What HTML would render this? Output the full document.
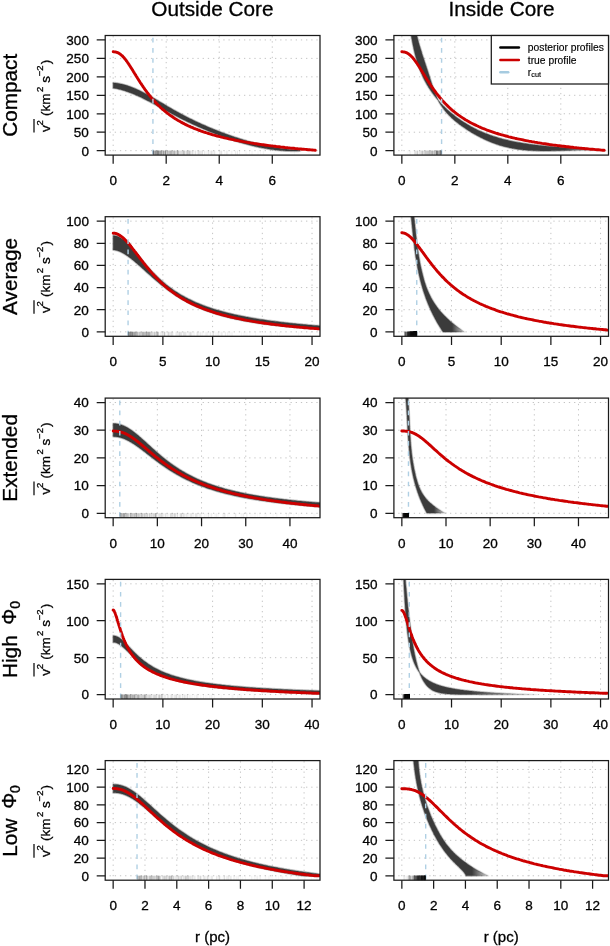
<!DOCTYPE html><html><head><meta charset="utf-8"><style>html,body{margin:0;padding:0;background:#fff;}svg{display:block;will-change:transform;}text{stroke:#000;stroke-width:0.3px;}</style></head><body>
<svg width="610" height="946" viewBox="0 0 610 946" font-family='"Liberation Sans", sans-serif'>
<rect width="610" height="946" fill="#fff"/>
<text x="212.4" y="16.0" font-size="20.75" text-anchor="middle" fill="#000">Outside Core</text>
<text x="501.6" y="16.0" font-size="20.75" text-anchor="middle" fill="#000">Inside Core</text>
<clipPath id="clip00"><rect x="105.20" y="35.50" width="214.80" height="119.60"/></clipPath>
<path d="M113.16 155.10V35.50M166.19 155.10V35.50M219.23 155.10V35.50M272.27 155.10V35.50" stroke="#c4c4c4" stroke-width="1.0" stroke-dasharray="1.3 3.87" stroke-dashoffset="1.2" fill="none"/>
<path d="M105.20 150.67H320.00M105.20 132.21H320.00M105.20 113.76H320.00M105.20 95.30H320.00M105.20 76.84H320.00M105.20 58.39H320.00M105.20 39.93H320.00" stroke="#c4c4c4" stroke-width="1.0" stroke-dasharray="1.3 3.87" stroke-dashoffset="0.8" fill="none"/>
<g clip-path="url(#clip00)">
<path d="M113.2 82.8L114.1 82.9L115.1 82.9L116.0 83.1L117.0 83.2L117.9 83.3L118.8 83.5L119.8 83.7L120.7 83.9L121.6 84.1L122.6 84.3L123.5 84.5L124.5 84.8L125.4 85.0L126.3 85.3L127.3 85.6L128.2 85.9L129.2 86.3L130.1 86.6L131.0 86.9L132.0 87.3L132.9 87.7L133.9 88.0L134.8 88.4L135.7 88.8L136.7 89.3L137.6 89.7L138.5 90.1L139.5 90.6L140.4 91.0L141.4 91.5L142.3 91.9L143.2 92.4L144.2 92.9L145.1 93.4L146.1 93.9L147.0 94.4L147.9 94.9L148.9 95.4L149.8 95.9L150.7 96.5L151.7 97.0L152.6 97.5L153.6 98.1L154.5 98.6L155.4 99.1L156.4 99.7L157.3 100.2L158.3 100.8L159.2 101.4L160.1 101.9L161.1 102.5L162.0 103.0L163.0 103.6L163.9 104.1L164.8 104.7L165.8 105.3L166.7 105.8L167.6 106.4L168.6 106.9L169.5 107.5L170.5 108.0L171.4 108.6L172.3 109.1L173.3 109.7L174.2 110.2L175.2 110.7L176.1 111.2L177.0 111.8L178.0 112.3L178.9 112.8L179.8 113.3L180.8 113.8L181.7 114.3L182.7 114.8L183.6 115.3L184.5 115.8L185.5 116.3L186.4 116.8L187.4 117.3L188.3 117.7L189.2 118.2L190.2 118.7L191.1 119.1L192.1 119.6L193.0 120.0L193.9 120.5L194.9 120.9L195.8 121.4L196.7 121.8L197.7 122.3L198.6 122.7L199.6 123.1L200.5 123.6L201.4 124.0L202.4 124.4L203.3 124.8L204.3 125.2L205.2 125.6L206.1 126.1L207.1 126.5L208.0 126.9L208.9 127.3L209.9 127.7L210.8 128.0L211.8 128.4L212.7 128.8L213.6 129.2L214.6 129.6L215.5 130.0L216.5 130.3L217.4 130.7L218.3 131.1L219.3 131.4L220.2 131.8L221.1 132.2L222.1 132.5L223.0 132.9L224.0 133.2L224.9 133.6L225.8 133.9L226.8 134.3L227.7 134.6L228.7 134.9L229.6 135.3L230.5 135.6L231.5 135.9L232.4 136.3L233.4 136.6L234.3 136.9L235.2 137.2L236.2 137.5L237.1 137.8L238.0 138.1L239.0 138.4L239.9 138.7L240.9 139.0L241.8 139.3L242.7 139.6L243.7 139.9L244.6 140.2L245.6 140.4L246.5 140.7L247.4 141.0L248.4 141.3L249.3 141.5L250.2 141.8L251.2 142.0L252.1 142.3L253.1 142.5L254.0 142.8L254.9 143.0L255.9 143.3L256.8 143.5L257.8 143.7L258.7 144.0L259.6 144.2L260.6 144.4L261.5 144.6L262.5 144.9L263.4 145.1L264.3 145.3L265.3 145.5L266.2 145.7L267.1 145.9L268.1 146.1L269.0 146.3L270.0 146.4L270.9 146.6L271.8 146.8L272.8 147.0L273.7 147.1L274.7 147.3L275.6 147.5L276.5 147.6L277.5 147.8L278.4 147.9L279.3 148.1L280.3 148.2L281.2 148.4L282.2 148.5L283.1 148.6L284.0 148.8L285.0 148.9L285.9 149.0L286.9 149.1L287.8 149.2L288.7 149.3L289.7 149.4L290.6 149.5L291.6 149.6L292.5 149.7L293.4 149.8L294.4 149.9L295.3 150.0L296.2 150.1L297.2 150.1L298.1 150.2L299.1 150.3L300.0 150.3L300.0 151.0L299.1 151.0L298.1 151.1L297.2 151.1L296.2 151.1L295.3 151.1L294.4 151.1L293.4 151.1L292.5 151.1L291.6 151.1L290.6 151.1L289.7 151.0L288.7 151.0L287.8 151.0L286.9 150.9L285.9 150.9L285.0 150.8L284.0 150.8L283.1 150.7L282.2 150.6L281.2 150.6L280.3 150.5L279.3 150.4L278.4 150.3L277.5 150.2L276.5 150.1L275.6 150.0L274.7 149.9L273.7 149.8L272.8 149.6L271.8 149.5L270.9 149.4L270.0 149.2L269.0 149.1L268.1 148.9L267.1 148.8L266.2 148.6L265.3 148.5L264.3 148.3L263.4 148.1L262.5 147.9L261.5 147.8L260.6 147.6L259.6 147.4L258.7 147.2L257.8 147.0L256.8 146.8L255.9 146.6L254.9 146.4L254.0 146.1L253.1 145.9L252.1 145.7L251.2 145.5L250.2 145.2L249.3 145.0L248.4 144.7L247.4 144.5L246.5 144.2L245.6 144.0L244.6 143.7L243.7 143.5L242.7 143.2L241.8 142.9L240.9 142.6L239.9 142.4L239.0 142.1L238.0 141.8L237.1 141.5L236.2 141.2L235.2 140.9L234.3 140.6L233.4 140.3L232.4 140.0L231.5 139.7L230.5 139.4L229.6 139.0L228.7 138.7L227.7 138.4L226.8 138.1L225.8 137.7L224.9 137.4L224.0 137.1L223.0 136.7L222.1 136.4L221.1 136.0L220.2 135.7L219.3 135.3L218.3 135.0L217.4 134.6L216.5 134.3L215.5 133.9L214.6 133.5L213.6 133.2L212.7 132.8L211.8 132.4L210.8 132.0L209.9 131.7L208.9 131.3L208.0 130.9L207.1 130.5L206.1 130.1L205.2 129.7L204.3 129.3L203.3 128.9L202.4 128.5L201.4 128.1L200.5 127.7L199.6 127.3L198.6 126.9L197.7 126.5L196.7 126.1L195.8 125.6L194.9 125.2L193.9 124.8L193.0 124.4L192.1 123.9L191.1 123.5L190.2 123.0L189.2 122.6L188.3 122.2L187.4 121.7L186.4 121.3L185.5 120.8L184.5 120.3L183.6 119.9L182.7 119.4L181.7 118.9L180.8 118.5L179.8 118.0L178.9 117.5L178.0 117.0L177.0 116.5L176.1 116.1L175.2 115.6L174.2 115.1L173.3 114.6L172.3 114.1L171.4 113.6L170.5 113.1L169.5 112.6L168.6 112.0L167.6 111.5L166.7 111.0L165.8 110.5L164.8 110.0L163.9 109.5L163.0 109.0L162.0 108.4L161.1 107.9L160.1 107.4L159.2 106.9L158.3 106.4L157.3 105.9L156.4 105.3L155.4 104.8L154.5 104.3L153.6 103.8L152.6 103.3L151.7 102.8L150.7 102.3L149.8 101.8L148.9 101.3L147.9 100.9L147.0 100.4L146.1 99.9L145.1 99.4L144.2 99.0L143.2 98.5L142.3 98.0L141.4 97.6L140.4 97.1L139.5 96.7L138.5 96.3L137.6 95.8L136.7 95.4L135.7 95.0L134.8 94.6L133.9 94.2L132.9 93.8L132.0 93.4L131.0 93.1L130.1 92.7L129.2 92.4L128.2 92.0L127.3 91.7L126.3 91.4L125.4 91.1L124.5 90.7L123.5 90.5L122.6 90.2L121.6 89.9L120.7 89.6L119.8 89.4L118.8 89.2L117.9 88.9L117.0 88.7L116.0 88.5L115.1 88.4L114.1 88.2L113.2 88.0Z" fill="none" stroke="#3b3b3b" stroke-opacity="0.22" stroke-width="2.2" stroke-linejoin="round"/>
<path d="M113.2 82.8L114.1 82.9L115.1 82.9L116.0 83.1L117.0 83.2L117.9 83.3L118.8 83.5L119.8 83.7L120.7 83.9L121.6 84.1L122.6 84.3L123.5 84.5L124.5 84.8L125.4 85.0L126.3 85.3L127.3 85.6L128.2 85.9L129.2 86.3L130.1 86.6L131.0 86.9L132.0 87.3L132.9 87.7L133.9 88.0L134.8 88.4L135.7 88.8L136.7 89.3L137.6 89.7L138.5 90.1L139.5 90.6L140.4 91.0L141.4 91.5L142.3 91.9L143.2 92.4L144.2 92.9L145.1 93.4L146.1 93.9L147.0 94.4L147.9 94.9L148.9 95.4L149.8 95.9L150.7 96.5L151.7 97.0L152.6 97.5L153.6 98.1L154.5 98.6L155.4 99.1L156.4 99.7L157.3 100.2L158.3 100.8L159.2 101.4L160.1 101.9L161.1 102.5L162.0 103.0L163.0 103.6L163.9 104.1L164.8 104.7L165.8 105.3L166.7 105.8L167.6 106.4L168.6 106.9L169.5 107.5L170.5 108.0L171.4 108.6L172.3 109.1L173.3 109.7L174.2 110.2L175.2 110.7L176.1 111.2L177.0 111.8L178.0 112.3L178.9 112.8L179.8 113.3L180.8 113.8L181.7 114.3L182.7 114.8L183.6 115.3L184.5 115.8L185.5 116.3L186.4 116.8L187.4 117.3L188.3 117.7L189.2 118.2L190.2 118.7L191.1 119.1L192.1 119.6L193.0 120.0L193.9 120.5L194.9 120.9L195.8 121.4L196.7 121.8L197.7 122.3L198.6 122.7L199.6 123.1L200.5 123.6L201.4 124.0L202.4 124.4L203.3 124.8L204.3 125.2L205.2 125.6L206.1 126.1L207.1 126.5L208.0 126.9L208.9 127.3L209.9 127.7L210.8 128.0L211.8 128.4L212.7 128.8L213.6 129.2L214.6 129.6L215.5 130.0L216.5 130.3L217.4 130.7L218.3 131.1L219.3 131.4L220.2 131.8L221.1 132.2L222.1 132.5L223.0 132.9L224.0 133.2L224.9 133.6L225.8 133.9L226.8 134.3L227.7 134.6L228.7 134.9L229.6 135.3L230.5 135.6L231.5 135.9L232.4 136.3L233.4 136.6L234.3 136.9L235.2 137.2L236.2 137.5L237.1 137.8L238.0 138.1L239.0 138.4L239.9 138.7L240.9 139.0L241.8 139.3L242.7 139.6L243.7 139.9L244.6 140.2L245.6 140.4L246.5 140.7L247.4 141.0L248.4 141.3L249.3 141.5L250.2 141.8L251.2 142.0L252.1 142.3L253.1 142.5L254.0 142.8L254.9 143.0L255.9 143.3L256.8 143.5L257.8 143.7L258.7 144.0L259.6 144.2L260.6 144.4L261.5 144.6L262.5 144.9L263.4 145.1L264.3 145.3L265.3 145.5L266.2 145.7L267.1 145.9L268.1 146.1L269.0 146.3L270.0 146.4L270.9 146.6L271.8 146.8L272.8 147.0L273.7 147.1L274.7 147.3L275.6 147.5L276.5 147.6L277.5 147.8L278.4 147.9L279.3 148.1L280.3 148.2L281.2 148.4L282.2 148.5L283.1 148.6L284.0 148.8L285.0 148.9L285.9 149.0L286.9 149.1L287.8 149.2L288.7 149.3L289.7 149.4L290.6 149.5L291.6 149.6L292.5 149.7L293.4 149.8L294.4 149.9L295.3 150.0L296.2 150.1L297.2 150.1L298.1 150.2L299.1 150.3L300.0 150.3L300.0 151.0L299.1 151.0L298.1 151.1L297.2 151.1L296.2 151.1L295.3 151.1L294.4 151.1L293.4 151.1L292.5 151.1L291.6 151.1L290.6 151.1L289.7 151.0L288.7 151.0L287.8 151.0L286.9 150.9L285.9 150.9L285.0 150.8L284.0 150.8L283.1 150.7L282.2 150.6L281.2 150.6L280.3 150.5L279.3 150.4L278.4 150.3L277.5 150.2L276.5 150.1L275.6 150.0L274.7 149.9L273.7 149.8L272.8 149.6L271.8 149.5L270.9 149.4L270.0 149.2L269.0 149.1L268.1 148.9L267.1 148.8L266.2 148.6L265.3 148.5L264.3 148.3L263.4 148.1L262.5 147.9L261.5 147.8L260.6 147.6L259.6 147.4L258.7 147.2L257.8 147.0L256.8 146.8L255.9 146.6L254.9 146.4L254.0 146.1L253.1 145.9L252.1 145.7L251.2 145.5L250.2 145.2L249.3 145.0L248.4 144.7L247.4 144.5L246.5 144.2L245.6 144.0L244.6 143.7L243.7 143.5L242.7 143.2L241.8 142.9L240.9 142.6L239.9 142.4L239.0 142.1L238.0 141.8L237.1 141.5L236.2 141.2L235.2 140.9L234.3 140.6L233.4 140.3L232.4 140.0L231.5 139.7L230.5 139.4L229.6 139.0L228.7 138.7L227.7 138.4L226.8 138.1L225.8 137.7L224.9 137.4L224.0 137.1L223.0 136.7L222.1 136.4L221.1 136.0L220.2 135.7L219.3 135.3L218.3 135.0L217.4 134.6L216.5 134.3L215.5 133.9L214.6 133.5L213.6 133.2L212.7 132.8L211.8 132.4L210.8 132.0L209.9 131.7L208.9 131.3L208.0 130.9L207.1 130.5L206.1 130.1L205.2 129.7L204.3 129.3L203.3 128.9L202.4 128.5L201.4 128.1L200.5 127.7L199.6 127.3L198.6 126.9L197.7 126.5L196.7 126.1L195.8 125.6L194.9 125.2L193.9 124.8L193.0 124.4L192.1 123.9L191.1 123.5L190.2 123.0L189.2 122.6L188.3 122.2L187.4 121.7L186.4 121.3L185.5 120.8L184.5 120.3L183.6 119.9L182.7 119.4L181.7 118.9L180.8 118.5L179.8 118.0L178.9 117.5L178.0 117.0L177.0 116.5L176.1 116.1L175.2 115.6L174.2 115.1L173.3 114.6L172.3 114.1L171.4 113.6L170.5 113.1L169.5 112.6L168.6 112.0L167.6 111.5L166.7 111.0L165.8 110.5L164.8 110.0L163.9 109.5L163.0 109.0L162.0 108.4L161.1 107.9L160.1 107.4L159.2 106.9L158.3 106.4L157.3 105.9L156.4 105.3L155.4 104.8L154.5 104.3L153.6 103.8L152.6 103.3L151.7 102.8L150.7 102.3L149.8 101.8L148.9 101.3L147.9 100.9L147.0 100.4L146.1 99.9L145.1 99.4L144.2 99.0L143.2 98.5L142.3 98.0L141.4 97.6L140.4 97.1L139.5 96.7L138.5 96.3L137.6 95.8L136.7 95.4L135.7 95.0L134.8 94.6L133.9 94.2L132.9 93.8L132.0 93.4L131.0 93.1L130.1 92.7L129.2 92.4L128.2 92.0L127.3 91.7L126.3 91.4L125.4 91.1L124.5 90.7L123.5 90.5L122.6 90.2L121.6 89.9L120.7 89.6L119.8 89.4L118.8 89.2L117.9 88.9L117.0 88.7L116.0 88.5L115.1 88.4L114.1 88.2L113.2 88.0Z" fill="#3b3b3b" stroke="#3b3b3b" stroke-width="0.4" stroke-linejoin="round"/>
<path d="M113.2 51.8L113.4 51.8L113.7 51.8L113.9 51.8L114.2 51.9L114.4 51.9L114.7 51.9L114.9 51.9L115.2 52.0L115.4 52.0L115.7 52.0L115.9 52.1L116.2 52.2L116.4 52.2L116.7 52.3L116.9 52.4L117.2 52.5L117.5 52.6L117.7 52.7L118.0 52.8L118.2 52.9L118.5 53.0L118.7 53.2L119.0 53.3L119.2 53.5L119.5 53.6L119.7 53.8L120.0 54.0L120.2 54.2L120.5 54.3L120.7 54.5L121.0 54.7L121.2 55.0L121.5 55.2L121.7 55.4L122.0 55.6L122.3 55.9L122.5 56.1L122.8 56.4L123.0 56.7L123.3 56.9L123.5 57.2L123.8 57.5L124.0 57.8L124.3 58.1L124.5 58.4L124.8 58.7L125.0 59.0L125.3 59.3L125.5 59.6L125.8 60.0L126.0 60.3L126.3 60.6L126.5 61.0L126.8 61.3L127.1 61.7L127.3 62.0L127.6 62.4L127.8 62.8L128.1 63.1L128.3 63.5L128.6 63.9L128.8 64.3L129.1 64.6L129.3 65.0L129.6 65.4L129.8 65.8L130.1 66.2L130.3 66.6L130.6 67.0L130.8 67.4L131.1 67.8L131.3 68.2L131.6 68.6L131.9 69.0L132.1 69.4L132.4 69.8L132.6 70.2L132.9 70.6L133.1 71.0L133.4 71.4L133.6 71.9L133.9 72.3L134.1 72.7L134.4 73.1L134.6 73.5L134.9 73.9L135.1 74.3L135.4 74.7L135.6 75.1L135.9 75.6L136.1 76.0L136.4 76.4L136.7 76.8L136.9 77.2L137.2 77.6L137.4 78.0L137.7 78.4L137.9 78.8L138.2 79.2L138.4 79.6L138.7 80.0L138.9 80.4L139.2 80.8L139.4 81.2L139.7 81.6L139.9 82.0L140.2 82.4L140.4 82.8L140.7 83.2L141.0 83.5L141.2 83.9L141.5 84.3L141.7 84.7L142.0 85.1L142.2 85.4L142.5 85.8L142.7 86.2L143.0 86.6L143.2 86.9L143.5 87.3L144.9 89.4L146.4 91.4L147.8 93.3L149.3 95.1L150.7 96.9L152.1 98.6L153.6 100.3L155.0 101.9L156.5 103.4L157.9 104.9L159.4 106.3L160.8 107.7L162.2 109.0L163.7 110.2L165.1 111.4L166.6 112.6L168.0 113.7L169.5 114.8L170.9 115.8L172.4 116.8L173.8 117.8L175.2 118.7L176.7 119.6L178.1 120.5L179.6 121.3L181.0 122.1L182.5 122.9L183.9 123.6L185.3 124.4L186.8 125.1L188.2 125.8L189.7 126.4L191.1 127.1L192.6 127.7L194.0 128.3L195.5 128.9L196.9 129.4L198.3 130.0L199.8 130.5L201.2 131.1L202.7 131.6L204.1 132.1L205.6 132.5L207.0 133.0L208.5 133.5L209.9 133.9L211.3 134.3L212.8 134.8L214.2 135.2L215.7 135.6L217.1 136.0L218.6 136.3L220.0 136.7L221.4 137.1L222.9 137.4L224.3 137.8L225.8 138.1L227.2 138.4L228.7 138.8L230.1 139.1L231.6 139.4L233.0 139.7L234.4 140.0L235.9 140.3L237.3 140.6L238.8 140.8L240.2 141.1L241.7 141.4L243.1 141.6L244.5 141.9L246.0 142.1L247.4 142.4L248.9 142.6L250.3 142.9L251.8 143.1L253.2 143.3L254.7 143.6L256.1 143.8L257.5 144.0L259.0 144.2L260.4 144.4L261.9 144.6L263.3 144.8L264.8 145.0L266.2 145.2L267.7 145.4L269.1 145.6L270.5 145.8L272.0 145.9L273.4 146.1L274.9 146.3L276.3 146.5L277.8 146.6L279.2 146.8L280.6 147.0L282.1 147.1L283.5 147.3L285.0 147.5L286.4 147.6L287.9 147.8L289.3 147.9L290.8 148.1L292.2 148.2L293.6 148.3L295.1 148.5L296.5 148.6L298.0 148.8L299.4 148.9L300.9 149.0L302.3 149.2L303.7 149.3L305.2 149.4L306.6 149.5L308.1 149.7L309.5 149.8L311.0 149.9L312.4 150.0L313.9 150.1L315.3 150.3" fill="none" stroke="#cc0000" stroke-width="2.9" stroke-linecap="round" stroke-linejoin="round"/>
</g>
<path d="M152.93 155.10V35.50" stroke="#b0d0e4" stroke-width="1.4" stroke-dasharray="4.7 5.45" stroke-dashoffset="9.25" fill="none"/>
<path d="M156.9 150.5v4.6M168.1 150.5v4.6M189.8 150.5v4.6M183.5 150.5v4.6M185.8 150.5v4.6M167.1 150.5v4.6M193.2 150.5v4.6M172.0 150.5v4.6M155.0 150.5v4.6M168.2 150.5v4.6M154.2 150.5v4.6M220.5 150.5v4.6M226.4 150.5v4.6M163.1 150.5v4.6M162.2 150.5v4.6M189.5 150.5v4.6M158.6 150.5v4.6M157.8 150.5v4.6M158.2 150.5v4.6M163.6 150.5v4.6M177.5 150.5v4.6M235.6 150.5v4.6M158.9 150.5v4.6M231.1 150.5v4.6M173.2 150.5v4.6M210.8 150.5v4.6M195.5 150.5v4.6M157.3 150.5v4.6M179.1 150.5v4.6M156.2 150.5v4.6M153.1 150.5v4.6M165.5 150.5v4.6M190.1 150.5v4.6M173.8 150.5v4.6M158.3 150.5v4.6M198.9 150.5v4.6M214.2 150.5v4.6M159.7 150.5v4.6M167.8 150.5v4.6M178.3 150.5v4.6M211.1 150.5v4.6M156.3 150.5v4.6M173.1 150.5v4.6M239.4 150.5v4.6M176.4 150.5v4.6M184.5 150.5v4.6M190.2 150.5v4.6M170.6 150.5v4.6M161.5 150.5v4.6M175.2 150.5v4.6M171.7 150.5v4.6M163.4 150.5v4.6M201.1 150.5v4.6M164.2 150.5v4.6M169.5 150.5v4.6M188.8 150.5v4.6M195.0 150.5v4.6M208.2 150.5v4.6M179.3 150.5v4.6M160.2 150.5v4.6M199.9 150.5v4.6M212.9 150.5v4.6M184.3 150.5v4.6M189.3 150.5v4.6M171.0 150.5v4.6M169.9 150.5v4.6M174.8 150.5v4.6M156.9 150.5v4.6M181.1 150.5v4.6M202.3 150.5v4.6M157.4 150.5v4.6M188.0 150.5v4.6M183.6 150.5v4.6M156.2 150.5v4.6M154.2 150.5v4.6M175.6 150.5v4.6M159.1 150.5v4.6M162.2 150.5v4.6M177.2 150.5v4.6M179.2 150.5v4.6M187.5 150.5v4.6M173.9 150.5v4.6M163.1 150.5v4.6M153.2 150.5v4.6M156.0 150.5v4.6M158.3 150.5v4.6M171.6 150.5v4.6M184.8 150.5v4.6M158.8 150.5v4.6M165.3 150.5v4.6M221.8 150.5v4.6M165.7 150.5v4.6M184.2 150.5v4.6M177.0 150.5v4.6M179.9 150.5v4.6M169.1 150.5v4.6M172.6 150.5v4.6M183.1 150.5v4.6M157.3 150.5v4.6M193.0 150.5v4.6M204.5 150.5v4.6M154.1 150.5v4.6M158.5 150.5v4.6M160.1 150.5v4.6M155.4 150.5v4.6M156.7 150.5v4.6M178.6 150.5v4.6M156.2 150.5v4.6M154.7 150.5v4.6M225.8 150.5v4.6M165.8 150.5v4.6M172.4 150.5v4.6M169.0 150.5v4.6M163.5 150.5v4.6M168.1 150.5v4.6M158.3 150.5v4.6M174.6 150.5v4.6M160.2 150.5v4.6M156.9 150.5v4.6M158.8 150.5v4.6M166.2 150.5v4.6M219.5 150.5v4.6M175.7 150.5v4.6M251.7 150.5v4.6M165.7 150.5v4.6M160.5 150.5v4.6M183.9 150.5v4.6M158.2 150.5v4.6M309.1 150.5v4.6M165.3 150.5v4.6M160.8 150.5v4.6M160.8 150.5v4.6M162.0 150.5v4.6M221.9 150.5v4.6M274.2 150.5v4.6M173.4 150.5v4.6M159.5 150.5v4.6M153.2 150.5v4.6M155.0 150.5v4.6M161.8 150.5v4.6M178.7 150.5v4.6M177.5 150.5v4.6M200.9 150.5v4.6M195.9 150.5v4.6M163.8 150.5v4.6M180.9 150.5v4.6M167.6 150.5v4.6M185.5 150.5v4.6M158.0 150.5v4.6M246.7 150.5v4.6M153.5 150.5v4.6M177.0 150.5v4.6M163.8 150.5v4.6M193.3 150.5v4.6M156.8 150.5v4.6M208.3 150.5v4.6M153.0 150.5v4.6M186.2 150.5v4.6M183.3 150.5v4.6M170.6 150.5v4.6M157.7 150.5v4.6M165.0 150.5v4.6M167.7 150.5v4.6M158.9 150.5v4.6M157.3 150.5v4.6M199.1 150.5v4.6M172.9 150.5v4.6M160.8 150.5v4.6M177.5 150.5v4.6M178.0 150.5v4.6M156.6 150.5v4.6M174.9 150.5v4.6M174.9 150.5v4.6M155.9 150.5v4.6M161.9 150.5v4.6M202.7 150.5v4.6M174.6 150.5v4.6M159.2 150.5v4.6M165.4 150.5v4.6M168.3 150.5v4.6M183.7 150.5v4.6M202.2 150.5v4.6M155.2 150.5v4.6M154.1 150.5v4.6M167.5 150.5v4.6M153.4 150.5v4.6M157.1 150.5v4.6M155.7 150.5v4.6M155.3 150.5v4.6M177.5 150.5v4.6M155.4 150.5v4.6M173.8 150.5v4.6M237.6 150.5v4.6M156.7 150.5v4.6M188.5 150.5v4.6M174.9 150.5v4.6M157.6 150.5v4.6M227.8 150.5v4.6M186.3 150.5v4.6M164.9 150.5v4.6M207.8 150.5v4.6M155.7 150.5v4.6M197.8 150.5v4.6M199.1 150.5v4.6M156.0 150.5v4.6M214.7 150.5v4.6M191.2 150.5v4.6M214.5 150.5v4.6M161.2 150.5v4.6M186.5 150.5v4.6M190.8 150.5v4.6M163.6 150.5v4.6M153.8 150.5v4.6M153.3 150.5v4.6M170.6 150.5v4.6M172.8 150.5v4.6M156.3 150.5v4.6M177.9 150.5v4.6M154.3 150.5v4.6M169.2 150.5v4.6M170.8 150.5v4.6M158.6 150.5v4.6M154.2 150.5v4.6M211.3 150.5v4.6M200.8 150.5v4.6M175.1 150.5v4.6M153.7 150.5v4.6M171.6 150.5v4.6M235.3 150.5v4.6M189.4 150.5v4.6M182.1 150.5v4.6M153.9 150.5v4.6M174.5 150.5v4.6M159.6 150.5v4.6M260.6 150.5v4.6M153.2 150.5v4.6M159.2 150.5v4.6M205.9 150.5v4.6M156.1 150.5v4.6M161.9 150.5v4.6M162.1 150.5v4.6M206.3 150.5v4.6M182.7 150.5v4.6M220.9 150.5v4.6M158.3 150.5v4.6M155.2 150.5v4.6M163.4 150.5v4.6M189.3 150.5v4.6M177.1 150.5v4.6M221.3 150.5v4.6M184.1 150.5v4.6M155.1 150.5v4.6M162.4 150.5v4.6M158.6 150.5v4.6M160.7 150.5v4.6M180.4 150.5v4.6M167.6 150.5v4.6M188.3 150.5v4.6M153.3 150.5v4.6M212.8 150.5v4.6M157.4 150.5v4.6M186.9 150.5v4.6M199.4 150.5v4.6M154.0 150.5v4.6M172.5 150.5v4.6M245.2 150.5v4.6M153.1 150.5v4.6M170.1 150.5v4.6M166.8 150.5v4.6M164.9 150.5v4.6M158.3 150.5v4.6M157.9 150.5v4.6M160.7 150.5v4.6M159.1 150.5v4.6M161.6 150.5v4.6M211.0 150.5v4.6M227.3 150.5v4.6M160.5 150.5v4.6M153.6 150.5v4.6M160.7 150.5v4.6M201.5 150.5v4.6M157.8 150.5v4.6M180.1 150.5v4.6M155.4 150.5v4.6M163.8 150.5v4.6M157.6 150.5v4.6M176.9 150.5v4.6M164.5 150.5v4.6M190.1 150.5v4.6M171.2 150.5v4.6M165.9 150.5v4.6M153.5 150.5v4.6M198.5 150.5v4.6M153.9 150.5v4.6M170.2 150.5v4.6M263.2 150.5v4.6M192.0 150.5v4.6M163.9 150.5v4.6M219.4 150.5v4.6M160.4 150.5v4.6M174.7 150.5v4.6M174.3 150.5v4.6M184.8 150.5v4.6M161.4 150.5v4.6M165.6 150.5v4.6M162.7 150.5v4.6M215.7 150.5v4.6M186.4 150.5v4.6M163.3 150.5v4.6M190.1 150.5v4.6M177.0 150.5v4.6M160.0 150.5v4.6M170.2 150.5v4.6M155.5 150.5v4.6M158.9 150.5v4.6M154.9 150.5v4.6M155.0 150.5v4.6M176.8 150.5v4.6M197.2 150.5v4.6M197.9 150.5v4.6M159.1 150.5v4.6M226.7 150.5v4.6M163.1 150.5v4.6M182.3 150.5v4.6M175.6 150.5v4.6M169.1 150.5v4.6M182.2 150.5v4.6M208.3 150.5v4.6M182.7 150.5v4.6M170.7 150.5v4.6M202.3 150.5v4.6M187.2 150.5v4.6M164.7 150.5v4.6M249.5 150.5v4.6M165.8 150.5v4.6M153.9 150.5v4.6M235.8 150.5v4.6M224.4 150.5v4.6M172.1 150.5v4.6M187.6 150.5v4.6M182.7 150.5v4.6M155.5 150.5v4.6M192.6 150.5v4.6M177.6 150.5v4.6M237.0 150.5v4.6M169.2 150.5v4.6M161.1 150.5v4.6M189.6 150.5v4.6M173.1 150.5v4.6M204.4 150.5v4.6M154.0 150.5v4.6M181.8 150.5v4.6M213.1 150.5v4.6M158.0 150.5v4.6M155.3 150.5v4.6M169.8 150.5v4.6M179.4 150.5v4.6M177.9 150.5v4.6M171.8 150.5v4.6M163.3 150.5v4.6M183.9 150.5v4.6M263.8 150.5v4.6M170.6 150.5v4.6M165.5 150.5v4.6M239.7 150.5v4.6M157.8 150.5v4.6M173.6 150.5v4.6M198.7 150.5v4.6M192.0 150.5v4.6M187.4 150.5v4.6M181.5 150.5v4.6M167.9 150.5v4.6M237.4 150.5v4.6M153.0 150.5v4.6M166.7 150.5v4.6M167.9 150.5v4.6M184.6 150.5v4.6M161.4 150.5v4.6M158.4 150.5v4.6M167.8 150.5v4.6M178.2 150.5v4.6M171.7 150.5v4.6M204.9 150.5v4.6M168.9 150.5v4.6M158.7 150.5v4.6M178.6 150.5v4.6M165.3 150.5v4.6M153.6 150.5v4.6M165.7 150.5v4.6M155.9 150.5v4.6M178.4 150.5v4.6M211.3 150.5v4.6M185.9 150.5v4.6M231.8 150.5v4.6M156.8 150.5v4.6M198.1 150.5v4.6M189.0 150.5v4.6M159.8 150.5v4.6M169.0 150.5v4.6M157.7 150.5v4.6M162.2 150.5v4.6M171.5 150.5v4.6M165.2 150.5v4.6M165.3 150.5v4.6M184.0 150.5v4.6M181.2 150.5v4.6M156.0 150.5v4.6M174.1 150.5v4.6M190.5 150.5v4.6M153.8 150.5v4.6M187.3 150.5v4.6M153.4 150.5v4.6M166.9 150.5v4.6M165.0 150.5v4.6M153.4 150.5v4.6M154.9 150.5v4.6M180.7 150.5v4.6M160.7 150.5v4.6M171.2 150.5v4.6M157.4 150.5v4.6M176.8 150.5v4.6M221.3 150.5v4.6M187.9 150.5v4.6M164.4 150.5v4.6M232.1 150.5v4.6M163.7 150.5v4.6M161.1 150.5v4.6M166.6 150.5v4.6M258.0 150.5v4.6M165.2 150.5v4.6M161.5 150.5v4.6M172.5 150.5v4.6M178.2 150.5v4.6M188.5 150.5v4.6M183.8 150.5v4.6M180.9 150.5v4.6M166.2 150.5v4.6M167.4 150.5v4.6M252.7 150.5v4.6M170.0 150.5v4.6M188.7 150.5v4.6M164.1 150.5v4.6M153.2 150.5v4.6M165.4 150.5v4.6M171.4 150.5v4.6M165.7 150.5v4.6M158.8 150.5v4.6M157.3 150.5v4.6M154.2 150.5v4.6M183.6 150.5v4.6M171.7 150.5v4.6M195.2 150.5v4.6M202.7 150.5v4.6M187.8 150.5v4.6M192.5 150.5v4.6M211.2 150.5v4.6M214.2 150.5v4.6M195.8 150.5v4.6M209.5 150.5v4.6M163.6 150.5v4.6M294.3 150.5v4.6M208.8 150.5v4.6M194.8 150.5v4.6M200.3 150.5v4.6M187.2 150.5v4.6M174.3 150.5v4.6M171.2 150.5v4.6M219.8 150.5v4.6M161.4 150.5v4.6M178.8 150.5v4.6M220.9 150.5v4.6M160.6 150.5v4.6M157.2 150.5v4.6M162.2 150.5v4.6M167.5 150.5v4.6M170.6 150.5v4.6M159.6 150.5v4.6M159.9 150.5v4.6M156.9 150.5v4.6M168.8 150.5v4.6M156.8 150.5v4.6M163.8 150.5v4.6M157.7 150.5v4.6M178.0 150.5v4.6M177.1 150.5v4.6M159.5 150.5v4.6M161.3 150.5v4.6M212.2 150.5v4.6M161.8 150.5v4.6M173.5 150.5v4.6M175.2 150.5v4.6M174.5 150.5v4.6M163.3 150.5v4.6M192.1 150.5v4.6M177.3 150.5v4.6M173.5 150.5v4.6M169.4 150.5v4.6M161.3 150.5v4.6M166.0 150.5v4.6" stroke="#111" stroke-opacity="0.06" stroke-width="0.6" fill="none"/>
<rect x="105.20" y="35.50" width="214.80" height="119.60" fill="none" stroke="#1a1a1a" stroke-width="1.25"/>
<path d="M113.16 155.10V163.70M166.19 155.10V163.70M219.23 155.10V163.70M272.27 155.10V163.70M105.20 150.67H96.70M105.20 132.21H96.70M105.20 113.76H96.70M105.20 95.30H96.70M105.20 76.84H96.70M105.20 58.39H96.70M105.20 39.93H96.70" stroke="#1a1a1a" stroke-width="1.25" fill="none"/>
<text x="113.16" y="184.90" font-size="13.5" text-anchor="middle">0</text>
<text x="166.19" y="184.90" font-size="13.5" text-anchor="middle">2</text>
<text x="219.23" y="184.90" font-size="13.5" text-anchor="middle">4</text>
<text x="272.27" y="184.90" font-size="13.5" text-anchor="middle">6</text>
<text x="88.90" y="155.52" font-size="13.5" text-anchor="end">0</text>
<text x="88.90" y="137.06" font-size="13.5" text-anchor="end">50</text>
<text x="88.90" y="118.61" font-size="13.5" text-anchor="end">100</text>
<text x="88.90" y="100.15" font-size="13.5" text-anchor="end">150</text>
<text x="88.90" y="81.69" font-size="13.5" text-anchor="end">200</text>
<text x="88.90" y="63.24" font-size="13.5" text-anchor="end">250</text>
<text x="88.90" y="44.78" font-size="13.5" text-anchor="end">300</text>
<text transform="translate(16.5 95.30) rotate(-90)" font-size="20.75" text-anchor="middle">Compact</text>
<path d="M34.0 119.00V132.60" stroke="#111" stroke-width="1.3"/>
<text transform="translate(49.80 131.90) rotate(-90)" font-size="13.5">v</text>
<text transform="translate(42.80 125.40) rotate(-90)" font-size="9.5">2</text>
<text transform="translate(49.80 115.90) rotate(-90)" font-size="13.5">(km</text>
<text transform="translate(42.80 92.00) rotate(-90)" font-size="9.5">2</text>
<text transform="translate(49.80 82.80) rotate(-90)" font-size="13.5">s</text>
<text transform="translate(42.80 76.30) rotate(-90)" font-size="9.5">−2</text>
<text transform="translate(49.80 64.30) rotate(-90)" font-size="13.5">)</text>
<clipPath id="clip01"><rect x="393.90" y="35.50" width="214.60" height="119.60"/></clipPath>
<path d="M401.85 155.10V35.50M454.84 155.10V35.50M507.82 155.10V35.50M560.81 155.10V35.50" stroke="#c4c4c4" stroke-width="1.0" stroke-dasharray="1.3 3.87" stroke-dashoffset="1.2" fill="none"/>
<path d="M393.90 150.67H608.50M393.90 132.21H608.50M393.90 113.76H608.50M393.90 95.30H608.50M393.90 76.84H608.50M393.90 58.39H608.50M393.90 39.93H608.50" stroke="#c4c4c4" stroke-width="1.0" stroke-dasharray="1.3 3.87" stroke-dashoffset="0.8" fill="none"/>
<g clip-path="url(#clip01)">
<linearGradient id="gf0" gradientUnits="userSpaceOnUse" x1="565" y1="0" x2="605" y2="0"><stop offset="0" stop-color="#3b3b3b"/><stop offset="1" stop-color="#3b3b3b" stop-opacity="0"/></linearGradient>
<path d="M410.2 30.0L410.4 31.2L410.6 32.5L410.9 33.7L411.1 34.9L411.3 36.2L411.5 37.4L411.7 38.7L412.0 39.9L412.2 41.2L412.4 42.4L412.7 43.7L412.9 44.9L413.2 46.2L413.5 47.4L413.7 48.7L414.0 49.9L414.3 51.2L414.6 52.4L414.9 53.7L415.2 54.9L415.5 56.1L415.9 57.4L416.2 58.6L416.6 59.8L416.9 61.1L417.3 62.3L417.7 63.5L418.1 64.7L418.5 65.9L418.9 67.1L419.3 68.3L419.8 69.5L420.2 70.6L420.7 71.8L421.2 73.0L421.7 74.1L422.2 75.3L422.7 76.4L423.2 77.6L423.8 78.7L424.3 79.8L424.9 80.9L425.5 82.0L426.1 83.1L426.7 84.2L427.3 85.3L428.0 86.3L428.6 87.4L429.3 88.4L430.0 89.5L430.7 90.5L431.4 91.5L432.1 92.6L432.8 93.6L433.6 94.6L434.3 95.6L435.1 96.5L435.9 97.5L436.7 98.5L437.5 99.4L438.3 100.4L439.1 101.3L439.9 102.2L440.8 103.2L441.6 104.1L442.5 105.0L443.4 105.9L444.3 106.8L445.2 107.6L446.1 108.5L447.0 109.4L448.0 110.2L448.9 111.1L449.9 111.9L450.8 112.7L451.8 113.5L452.8 114.3L453.8 115.1L454.8 115.9L455.8 116.7L456.8 117.4L457.9 118.2L458.9 118.9L459.9 119.6L461.0 120.4L462.0 121.1L463.1 121.8L464.2 122.5L465.3 123.1L466.4 123.8L467.5 124.5L468.6 125.1L469.7 125.7L470.8 126.4L471.9 127.0L473.0 127.6L474.1 128.2L475.3 128.7L476.4 129.3L477.5 129.9L478.7 130.4L479.8 130.9L481.0 131.4L482.1 131.9L483.3 132.4L484.5 132.9L485.6 133.4L486.8 133.8L488.0 134.3L489.2 134.7L490.3 135.2L491.5 135.6L492.7 136.0L493.9 136.4L495.1 136.8L496.3 137.1L497.5 137.5L498.7 137.9L499.9 138.2L501.1 138.5L502.3 138.9L503.5 139.2L504.7 139.5L505.9 139.8L507.2 140.1L508.4 140.4L509.6 140.7L510.8 140.9L512.1 141.2L513.3 141.5L514.5 141.7L515.8 141.9L517.0 142.2L518.2 142.4L519.5 142.6L520.7 142.8L522.0 143.1L523.2 143.3L524.4 143.4L525.7 143.6L526.9 143.8L528.2 144.0L529.4 144.2L530.7 144.3L531.9 144.5L533.2 144.7L534.5 144.8L535.7 145.0L537.0 145.1L538.2 145.3L539.5 145.4L540.8 145.5L542.0 145.7L543.3 145.8L544.5 145.9L545.8 146.0L547.1 146.2L548.3 146.3L549.6 146.4L550.9 146.5L552.1 146.6L553.4 146.7L554.7 146.8L555.9 146.9L557.2 147.0L558.5 147.1L559.7 147.2L561.0 147.3L562.3 147.4L563.5 147.5L564.8 147.6L566.1 147.7L567.3 147.8L568.6 147.9L569.9 148.0L571.1 148.1L572.4 148.2L573.7 148.3L574.9 148.4L576.2 148.5L577.4 148.6L578.7 148.7L580.0 148.8L581.2 148.9L582.5 149.0L583.7 149.2L585.0 149.3L586.2 149.4L587.5 149.5L588.7 149.6L590.0 149.8L591.2 149.9L592.5 150.0L593.7 150.2L595.0 150.3L596.2 150.4L597.4 150.6L598.7 150.7L599.9 150.9L600.0 150.8L598.8 150.7L597.6 150.6L596.3 150.5L595.1 150.5L593.9 150.4L592.6 150.4L591.4 150.3L590.1 150.3L588.9 150.3L587.6 150.2L586.4 150.2L585.1 150.2L583.9 150.2L582.6 150.2L581.3 150.2L580.1 150.2L578.8 150.2L577.5 150.2L576.3 150.3L575.0 150.3L573.7 150.3L572.4 150.3L571.2 150.4L569.9 150.4L568.6 150.4L567.3 150.5L566.0 150.5L564.7 150.5L563.5 150.6L562.2 150.6L560.9 150.6L559.6 150.7L558.3 150.7L557.0 150.7L555.7 150.8L554.4 150.8L553.1 150.8L551.8 150.8L550.6 150.9L549.3 150.9L548.0 150.9L546.7 150.9L545.4 150.9L544.1 150.9L542.8 150.9L541.5 150.9L540.2 150.9L539.0 150.8L537.7 150.8L536.4 150.8L535.1 150.7L533.8 150.7L532.5 150.6L531.3 150.6L530.0 150.5L528.7 150.4L527.4 150.3L526.2 150.2L524.9 150.1L523.6 150.0L522.4 149.8L521.1 149.7L519.8 149.5L518.6 149.4L517.3 149.2L516.1 149.0L514.8 148.8L513.6 148.6L512.3 148.4L511.1 148.1L509.8 147.9L508.6 147.6L507.4 147.3L506.1 147.0L504.9 146.7L503.7 146.4L502.5 146.1L501.3 145.7L500.0 145.4L498.8 145.0L497.6 144.6L496.4 144.2L495.2 143.8L494.0 143.3L492.9 142.9L491.7 142.4L490.5 142.0L489.3 141.5L488.1 141.0L487.0 140.5L485.8 140.0L484.7 139.4L483.5 138.9L482.4 138.3L481.2 137.8L480.1 137.2L478.9 136.6L477.8 136.0L476.7 135.4L475.6 134.8L474.5 134.2L473.3 133.5L472.2 132.9L471.1 132.2L470.1 131.5L469.0 130.9L467.9 130.2L466.8 129.5L465.7 128.8L464.7 128.1L463.6 127.3L462.5 126.6L461.5 125.9L460.5 125.1L459.4 124.4L458.4 123.6L457.4 122.8L456.4 122.0L455.4 121.2L454.5 120.4L453.5 119.6L452.6 118.7L451.6 117.9L450.7 117.0L449.8 116.1L448.9 115.2L448.1 114.3L447.2 113.4L446.4 112.5L445.6 111.5L444.8 110.6L444.0 109.6L443.3 108.6L442.6 107.6L441.9 106.6L441.2 105.6L440.5 104.5L439.9 103.5L439.3 102.4L438.7 101.3L438.2 100.2L437.6 99.1L437.1 98.0L436.6 96.8L436.1 95.7L435.6 94.5L435.1 93.4L434.7 92.2L434.3 91.0L433.8 89.8L433.4 88.6L433.0 87.4L432.6 86.2L432.2 85.0L431.8 83.8L431.4 82.6L431.0 81.3L430.6 80.1L430.2 78.9L429.9 77.6L429.5 76.4L429.1 75.2L428.7 74.0L428.3 72.7L427.9 71.5L427.5 70.3L427.1 69.1L426.7 67.9L426.3 66.6L425.9 65.4L425.5 64.2L425.1 63.0L424.7 61.8L424.3 60.5L423.9 59.3L423.5 58.1L423.1 56.9L422.7 55.7L422.3 54.5L421.9 53.2L421.6 52.0L421.2 50.8L420.8 49.6L420.4 48.4L420.1 47.2L419.7 46.0L419.3 44.7L419.0 43.5L418.6 42.3L418.3 41.1L418.0 39.9L417.7 38.7L417.4 37.4L417.0 36.2L416.8 35.0L416.5 33.8L416.2 32.6L415.9 31.3L415.7 30.1Z" fill="none" stroke="url(#gf0)" stroke-opacity="0.22" stroke-width="2.2" stroke-linejoin="round"/>
<path d="M410.2 30.0L410.4 31.2L410.6 32.5L410.9 33.7L411.1 34.9L411.3 36.2L411.5 37.4L411.7 38.7L412.0 39.9L412.2 41.2L412.4 42.4L412.7 43.7L412.9 44.9L413.2 46.2L413.5 47.4L413.7 48.7L414.0 49.9L414.3 51.2L414.6 52.4L414.9 53.7L415.2 54.9L415.5 56.1L415.9 57.4L416.2 58.6L416.6 59.8L416.9 61.1L417.3 62.3L417.7 63.5L418.1 64.7L418.5 65.9L418.9 67.1L419.3 68.3L419.8 69.5L420.2 70.6L420.7 71.8L421.2 73.0L421.7 74.1L422.2 75.3L422.7 76.4L423.2 77.6L423.8 78.7L424.3 79.8L424.9 80.9L425.5 82.0L426.1 83.1L426.7 84.2L427.3 85.3L428.0 86.3L428.6 87.4L429.3 88.4L430.0 89.5L430.7 90.5L431.4 91.5L432.1 92.6L432.8 93.6L433.6 94.6L434.3 95.6L435.1 96.5L435.9 97.5L436.7 98.5L437.5 99.4L438.3 100.4L439.1 101.3L439.9 102.2L440.8 103.2L441.6 104.1L442.5 105.0L443.4 105.9L444.3 106.8L445.2 107.6L446.1 108.5L447.0 109.4L448.0 110.2L448.9 111.1L449.9 111.9L450.8 112.7L451.8 113.5L452.8 114.3L453.8 115.1L454.8 115.9L455.8 116.7L456.8 117.4L457.9 118.2L458.9 118.9L459.9 119.6L461.0 120.4L462.0 121.1L463.1 121.8L464.2 122.5L465.3 123.1L466.4 123.8L467.5 124.5L468.6 125.1L469.7 125.7L470.8 126.4L471.9 127.0L473.0 127.6L474.1 128.2L475.3 128.7L476.4 129.3L477.5 129.9L478.7 130.4L479.8 130.9L481.0 131.4L482.1 131.9L483.3 132.4L484.5 132.9L485.6 133.4L486.8 133.8L488.0 134.3L489.2 134.7L490.3 135.2L491.5 135.6L492.7 136.0L493.9 136.4L495.1 136.8L496.3 137.1L497.5 137.5L498.7 137.9L499.9 138.2L501.1 138.5L502.3 138.9L503.5 139.2L504.7 139.5L505.9 139.8L507.2 140.1L508.4 140.4L509.6 140.7L510.8 140.9L512.1 141.2L513.3 141.5L514.5 141.7L515.8 141.9L517.0 142.2L518.2 142.4L519.5 142.6L520.7 142.8L522.0 143.1L523.2 143.3L524.4 143.4L525.7 143.6L526.9 143.8L528.2 144.0L529.4 144.2L530.7 144.3L531.9 144.5L533.2 144.7L534.5 144.8L535.7 145.0L537.0 145.1L538.2 145.3L539.5 145.4L540.8 145.5L542.0 145.7L543.3 145.8L544.5 145.9L545.8 146.0L547.1 146.2L548.3 146.3L549.6 146.4L550.9 146.5L552.1 146.6L553.4 146.7L554.7 146.8L555.9 146.9L557.2 147.0L558.5 147.1L559.7 147.2L561.0 147.3L562.3 147.4L563.5 147.5L564.8 147.6L566.1 147.7L567.3 147.8L568.6 147.9L569.9 148.0L571.1 148.1L572.4 148.2L573.7 148.3L574.9 148.4L576.2 148.5L577.4 148.6L578.7 148.7L580.0 148.8L581.2 148.9L582.5 149.0L583.7 149.2L585.0 149.3L586.2 149.4L587.5 149.5L588.7 149.6L590.0 149.8L591.2 149.9L592.5 150.0L593.7 150.2L595.0 150.3L596.2 150.4L597.4 150.6L598.7 150.7L599.9 150.9L600.0 150.8L598.8 150.7L597.6 150.6L596.3 150.5L595.1 150.5L593.9 150.4L592.6 150.4L591.4 150.3L590.1 150.3L588.9 150.3L587.6 150.2L586.4 150.2L585.1 150.2L583.9 150.2L582.6 150.2L581.3 150.2L580.1 150.2L578.8 150.2L577.5 150.2L576.3 150.3L575.0 150.3L573.7 150.3L572.4 150.3L571.2 150.4L569.9 150.4L568.6 150.4L567.3 150.5L566.0 150.5L564.7 150.5L563.5 150.6L562.2 150.6L560.9 150.6L559.6 150.7L558.3 150.7L557.0 150.7L555.7 150.8L554.4 150.8L553.1 150.8L551.8 150.8L550.6 150.9L549.3 150.9L548.0 150.9L546.7 150.9L545.4 150.9L544.1 150.9L542.8 150.9L541.5 150.9L540.2 150.9L539.0 150.8L537.7 150.8L536.4 150.8L535.1 150.7L533.8 150.7L532.5 150.6L531.3 150.6L530.0 150.5L528.7 150.4L527.4 150.3L526.2 150.2L524.9 150.1L523.6 150.0L522.4 149.8L521.1 149.7L519.8 149.5L518.6 149.4L517.3 149.2L516.1 149.0L514.8 148.8L513.6 148.6L512.3 148.4L511.1 148.1L509.8 147.9L508.6 147.6L507.4 147.3L506.1 147.0L504.9 146.7L503.7 146.4L502.5 146.1L501.3 145.7L500.0 145.4L498.8 145.0L497.6 144.6L496.4 144.2L495.2 143.8L494.0 143.3L492.9 142.9L491.7 142.4L490.5 142.0L489.3 141.5L488.1 141.0L487.0 140.5L485.8 140.0L484.7 139.4L483.5 138.9L482.4 138.3L481.2 137.8L480.1 137.2L478.9 136.6L477.8 136.0L476.7 135.4L475.6 134.8L474.5 134.2L473.3 133.5L472.2 132.9L471.1 132.2L470.1 131.5L469.0 130.9L467.9 130.2L466.8 129.5L465.7 128.8L464.7 128.1L463.6 127.3L462.5 126.6L461.5 125.9L460.5 125.1L459.4 124.4L458.4 123.6L457.4 122.8L456.4 122.0L455.4 121.2L454.5 120.4L453.5 119.6L452.6 118.7L451.6 117.9L450.7 117.0L449.8 116.1L448.9 115.2L448.1 114.3L447.2 113.4L446.4 112.5L445.6 111.5L444.8 110.6L444.0 109.6L443.3 108.6L442.6 107.6L441.9 106.6L441.2 105.6L440.5 104.5L439.9 103.5L439.3 102.4L438.7 101.3L438.2 100.2L437.6 99.1L437.1 98.0L436.6 96.8L436.1 95.7L435.6 94.5L435.1 93.4L434.7 92.2L434.3 91.0L433.8 89.8L433.4 88.6L433.0 87.4L432.6 86.2L432.2 85.0L431.8 83.8L431.4 82.6L431.0 81.3L430.6 80.1L430.2 78.9L429.9 77.6L429.5 76.4L429.1 75.2L428.7 74.0L428.3 72.7L427.9 71.5L427.5 70.3L427.1 69.1L426.7 67.9L426.3 66.6L425.9 65.4L425.5 64.2L425.1 63.0L424.7 61.8L424.3 60.5L423.9 59.3L423.5 58.1L423.1 56.9L422.7 55.7L422.3 54.5L421.9 53.2L421.6 52.0L421.2 50.8L420.8 49.6L420.4 48.4L420.1 47.2L419.7 46.0L419.3 44.7L419.0 43.5L418.6 42.3L418.3 41.1L418.0 39.9L417.7 38.7L417.4 37.4L417.0 36.2L416.8 35.0L416.5 33.8L416.2 32.6L415.9 31.3L415.7 30.1Z" fill="url(#gf0)" stroke="url(#gf0)" stroke-width="0.4" stroke-linejoin="round"/>
<path d="M401.8 51.8L402.1 51.8L402.4 51.8L402.6 51.8L402.9 51.9L403.1 51.9L403.4 51.9L403.6 51.9L403.9 52.0L404.1 52.0L404.4 52.0L404.6 52.1L404.9 52.2L405.1 52.2L405.4 52.3L405.6 52.4L405.9 52.5L406.1 52.6L406.4 52.7L406.7 52.8L406.9 52.9L407.2 53.0L407.4 53.2L407.7 53.3L407.9 53.5L408.2 53.6L408.4 53.8L408.7 54.0L408.9 54.2L409.2 54.4L409.4 54.6L409.7 54.8L409.9 55.0L410.2 55.2L410.4 55.4L410.7 55.7L411.0 55.9L411.2 56.2L411.5 56.4L411.7 56.7L412.0 56.9L412.2 57.2L412.5 57.5L412.7 57.8L413.0 58.1L413.2 58.4L413.5 58.7L413.7 59.0L414.0 59.3L414.2 59.7L414.5 60.0L414.7 60.3L415.0 60.7L415.3 61.0L415.5 61.4L415.8 61.7L416.0 62.1L416.3 62.4L416.5 62.8L416.8 63.2L417.0 63.5L417.3 63.9L417.5 64.3L417.8 64.7L418.0 65.1L418.3 65.5L418.5 65.8L418.8 66.2L419.0 66.6L419.3 67.0L419.6 67.4L419.8 67.8L420.1 68.2L420.3 68.6L420.6 69.0L420.8 69.5L421.1 69.9L421.3 70.3L421.6 70.7L421.8 71.1L422.1 71.5L422.3 71.9L422.6 72.3L422.8 72.7L423.1 73.2L423.3 73.6L423.6 74.0L423.9 74.4L424.1 74.8L424.4 75.2L424.6 75.6L424.9 76.0L425.1 76.4L425.4 76.9L425.6 77.3L425.9 77.7L426.1 78.1L426.4 78.5L426.6 78.9L426.9 79.3L427.1 79.7L427.4 80.1L427.6 80.5L427.9 80.9L428.2 81.3L428.4 81.7L428.7 82.1L428.9 82.5L429.2 82.8L429.4 83.2L429.7 83.6L429.9 84.0L430.2 84.4L430.4 84.8L430.7 85.2L430.9 85.5L431.2 85.9L431.4 86.3L431.7 86.6L431.9 87.0L432.2 87.4L433.6 89.4L435.1 91.4L436.5 93.4L438.0 95.2L439.4 97.0L440.9 98.7L442.3 100.4L443.8 102.0L445.2 103.5L446.7 105.0L448.1 106.4L449.5 107.7L451.0 109.1L452.4 110.3L453.9 111.5L455.3 112.7L456.8 113.8L458.2 114.9L459.7 115.9L461.1 116.9L462.6 117.9L464.0 118.8L465.4 119.7L466.9 120.5L468.3 121.4L469.8 122.2L471.2 123.0L472.7 123.7L474.1 124.4L475.6 125.1L477.0 125.8L478.5 126.5L479.9 127.1L481.3 127.8L482.8 128.4L484.2 128.9L485.7 129.5L487.1 130.1L488.6 130.6L490.0 131.1L491.5 131.6L492.9 132.1L494.4 132.6L495.8 133.1L497.2 133.5L498.7 134.0L500.1 134.4L501.6 134.8L503.0 135.2L504.5 135.6L505.9 136.0L507.4 136.4L508.8 136.8L510.3 137.1L511.7 137.5L513.1 137.8L514.6 138.2L516.0 138.5L517.5 138.8L518.9 139.1L520.4 139.4L521.8 139.7L523.3 140.0L524.7 140.3L526.1 140.6L527.6 140.9L529.0 141.2L530.5 141.4L531.9 141.7L533.4 141.9L534.8 142.2L536.3 142.4L537.7 142.7L539.2 142.9L540.6 143.1L542.0 143.4L543.5 143.6L544.9 143.8L546.4 144.0L547.8 144.2L549.3 144.5L550.7 144.7L552.2 144.9L553.6 145.1L555.1 145.2L556.5 145.4L557.9 145.6L559.4 145.8L560.8 146.0L562.3 146.2L563.7 146.3L565.2 146.5L566.6 146.7L568.1 146.8L569.5 147.0L571.0 147.2L572.4 147.3L573.8 147.5L575.3 147.6L576.7 147.8L578.2 147.9L579.6 148.1L581.1 148.2L582.5 148.4L584.0 148.5L585.4 148.7L586.9 148.8L588.3 148.9L589.7 149.1L591.2 149.2L592.6 149.3L594.1 149.4L595.5 149.6L597.0 149.7L598.4 149.8L599.9 149.9L601.3 150.1L602.8 150.2L604.2 150.3" fill="none" stroke="#cc0000" stroke-width="2.9" stroke-linecap="round" stroke-linejoin="round"/>
</g>
<path d="M441.59 155.10V35.50" stroke="#b0d0e4" stroke-width="1.4" stroke-dasharray="4.7 5.45" stroke-dashoffset="9.25" fill="none"/>
<path d="M435.0 150.5v4.6M424.9 150.5v4.6M441.1 150.5v4.6M440.6 150.5v4.6M432.7 150.5v4.6M436.5 150.5v4.6M425.6 150.5v4.6M425.9 150.5v4.6M428.1 150.5v4.6M437.0 150.5v4.6M425.6 150.5v4.6M441.2 150.5v4.6M418.3 150.5v4.6M424.8 150.5v4.6M419.6 150.5v4.6M438.3 150.5v4.6M430.3 150.5v4.6M432.8 150.5v4.6M429.2 150.5v4.6M436.0 150.5v4.6M431.2 150.5v4.6M425.4 150.5v4.6M431.8 150.5v4.6M428.6 150.5v4.6M420.9 150.5v4.6M439.1 150.5v4.6M436.8 150.5v4.6M436.5 150.5v4.6M440.0 150.5v4.6M431.0 150.5v4.6M430.6 150.5v4.6M431.7 150.5v4.6M431.2 150.5v4.6M436.6 150.5v4.6M409.3 150.5v4.6M432.6 150.5v4.6M434.1 150.5v4.6M429.7 150.5v4.6M413.0 150.5v4.6M437.2 150.5v4.6M410.2 150.5v4.6M434.7 150.5v4.6M423.1 150.5v4.6M414.8 150.5v4.6M424.3 150.5v4.6M417.9 150.5v4.6M423.0 150.5v4.6M436.9 150.5v4.6M437.6 150.5v4.6M430.2 150.5v4.6M436.3 150.5v4.6M432.9 150.5v4.6M433.4 150.5v4.6M439.9 150.5v4.6M428.8 150.5v4.6M439.8 150.5v4.6M437.0 150.5v4.6M436.9 150.5v4.6M409.0 150.5v4.6M419.3 150.5v4.6M414.5 150.5v4.6M429.7 150.5v4.6M440.9 150.5v4.6M439.9 150.5v4.6M439.3 150.5v4.6M421.4 150.5v4.6M437.2 150.5v4.6M438.3 150.5v4.6M438.9 150.5v4.6M438.6 150.5v4.6M422.5 150.5v4.6M424.2 150.5v4.6M438.6 150.5v4.6M437.8 150.5v4.6M440.1 150.5v4.6M432.2 150.5v4.6M440.1 150.5v4.6M422.5 150.5v4.6M441.0 150.5v4.6M440.0 150.5v4.6M429.5 150.5v4.6M418.0 150.5v4.6M434.4 150.5v4.6M437.0 150.5v4.6M429.9 150.5v4.6M417.2 150.5v4.6M427.8 150.5v4.6M439.1 150.5v4.6M419.7 150.5v4.6M440.7 150.5v4.6M426.9 150.5v4.6M425.3 150.5v4.6M421.0 150.5v4.6M441.3 150.5v4.6M440.2 150.5v4.6M429.0 150.5v4.6M420.0 150.5v4.6M436.3 150.5v4.6M440.0 150.5v4.6M411.0 150.5v4.6M436.0 150.5v4.6M439.6 150.5v4.6M432.5 150.5v4.6M434.8 150.5v4.6M438.8 150.5v4.6M426.5 150.5v4.6M427.6 150.5v4.6M436.5 150.5v4.6M434.5 150.5v4.6M434.1 150.5v4.6M429.4 150.5v4.6M440.7 150.5v4.6M428.1 150.5v4.6M436.8 150.5v4.6M440.1 150.5v4.6M431.1 150.5v4.6M416.9 150.5v4.6M425.9 150.5v4.6M417.9 150.5v4.6M422.9 150.5v4.6M421.5 150.5v4.6M429.7 150.5v4.6M430.4 150.5v4.6M432.2 150.5v4.6M436.5 150.5v4.6M436.7 150.5v4.6M436.9 150.5v4.6M430.2 150.5v4.6M436.5 150.5v4.6M434.4 150.5v4.6M421.9 150.5v4.6M434.3 150.5v4.6M429.0 150.5v4.6M436.7 150.5v4.6M437.7 150.5v4.6M426.6 150.5v4.6M432.0 150.5v4.6M432.4 150.5v4.6M428.4 150.5v4.6M415.5 150.5v4.6M416.5 150.5v4.6M441.5 150.5v4.6M437.8 150.5v4.6M432.0 150.5v4.6M436.6 150.5v4.6M427.5 150.5v4.6M437.3 150.5v4.6M440.9 150.5v4.6M438.3 150.5v4.6M432.6 150.5v4.6M441.4 150.5v4.6M440.5 150.5v4.6M417.3 150.5v4.6M431.4 150.5v4.6M432.3 150.5v4.6M427.7 150.5v4.6M435.7 150.5v4.6M422.7 150.5v4.6M437.9 150.5v4.6M439.6 150.5v4.6M417.5 150.5v4.6M437.0 150.5v4.6M427.4 150.5v4.6M436.1 150.5v4.6M437.0 150.5v4.6M441.3 150.5v4.6M438.7 150.5v4.6M429.6 150.5v4.6M437.6 150.5v4.6M422.8 150.5v4.6M437.4 150.5v4.6M431.5 150.5v4.6M427.4 150.5v4.6M426.5 150.5v4.6M425.7 150.5v4.6M438.7 150.5v4.6M420.1 150.5v4.6M426.3 150.5v4.6M424.8 150.5v4.6M423.3 150.5v4.6M437.6 150.5v4.6M435.1 150.5v4.6M436.5 150.5v4.6M440.2 150.5v4.6M432.3 150.5v4.6M415.2 150.5v4.6M424.7 150.5v4.6M433.7 150.5v4.6M437.4 150.5v4.6M440.5 150.5v4.6M433.6 150.5v4.6M426.1 150.5v4.6M435.2 150.5v4.6M440.7 150.5v4.6M429.4 150.5v4.6M440.7 150.5v4.6M440.3 150.5v4.6M434.9 150.5v4.6M433.0 150.5v4.6M421.9 150.5v4.6M420.9 150.5v4.6M415.5 150.5v4.6M435.6 150.5v4.6M437.3 150.5v4.6M441.5 150.5v4.6M435.4 150.5v4.6M441.5 150.5v4.6M431.2 150.5v4.6M422.2 150.5v4.6M417.4 150.5v4.6M428.1 150.5v4.6M434.0 150.5v4.6M441.4 150.5v4.6M428.4 150.5v4.6M426.4 150.5v4.6M437.5 150.5v4.6M430.8 150.5v4.6M434.6 150.5v4.6M423.0 150.5v4.6M439.5 150.5v4.6M440.5 150.5v4.6M438.0 150.5v4.6M440.7 150.5v4.6M429.4 150.5v4.6M414.5 150.5v4.6M428.6 150.5v4.6M440.2 150.5v4.6M432.7 150.5v4.6M425.1 150.5v4.6M423.0 150.5v4.6M423.6 150.5v4.6M432.1 150.5v4.6M440.6 150.5v4.6M440.0 150.5v4.6M438.1 150.5v4.6M438.1 150.5v4.6M424.7 150.5v4.6M438.4 150.5v4.6M426.0 150.5v4.6M433.9 150.5v4.6M414.7 150.5v4.6M440.1 150.5v4.6M421.9 150.5v4.6M435.2 150.5v4.6M436.5 150.5v4.6M436.2 150.5v4.6M436.8 150.5v4.6M430.4 150.5v4.6M438.6 150.5v4.6M440.8 150.5v4.6M435.7 150.5v4.6M441.3 150.5v4.6M439.5 150.5v4.6M417.0 150.5v4.6M436.7 150.5v4.6M419.8 150.5v4.6M436.5 150.5v4.6M430.4 150.5v4.6M439.6 150.5v4.6M416.0 150.5v4.6M440.9 150.5v4.6M415.8 150.5v4.6M417.1 150.5v4.6M407.3 150.5v4.6M421.7 150.5v4.6M441.4 150.5v4.6M439.3 150.5v4.6M440.5 150.5v4.6M424.5 150.5v4.6M436.9 150.5v4.6M438.7 150.5v4.6M437.6 150.5v4.6M427.5 150.5v4.6M441.2 150.5v4.6M437.6 150.5v4.6M436.9 150.5v4.6M428.0 150.5v4.6M431.1 150.5v4.6M438.1 150.5v4.6M433.7 150.5v4.6M433.1 150.5v4.6M440.5 150.5v4.6M431.6 150.5v4.6M439.6 150.5v4.6M416.2 150.5v4.6M434.0 150.5v4.6M437.4 150.5v4.6M410.6 150.5v4.6M437.1 150.5v4.6M428.0 150.5v4.6M435.8 150.5v4.6M435.8 150.5v4.6M422.3 150.5v4.6M440.8 150.5v4.6M426.6 150.5v4.6M422.3 150.5v4.6M432.1 150.5v4.6M417.7 150.5v4.6M420.4 150.5v4.6M438.1 150.5v4.6" stroke="#111" stroke-opacity="0.05" stroke-width="0.6" fill="none"/>
<rect x="393.90" y="35.50" width="214.60" height="119.60" fill="none" stroke="#1a1a1a" stroke-width="1.25"/>
<path d="M401.85 155.10V163.70M454.84 155.10V163.70M507.82 155.10V163.70M560.81 155.10V163.70M393.90 150.67H385.40M393.90 132.21H385.40M393.90 113.76H385.40M393.90 95.30H385.40M393.90 76.84H385.40M393.90 58.39H385.40M393.90 39.93H385.40" stroke="#1a1a1a" stroke-width="1.25" fill="none"/>
<text x="401.85" y="184.90" font-size="13.5" text-anchor="middle">0</text>
<text x="454.84" y="184.90" font-size="13.5" text-anchor="middle">2</text>
<text x="507.82" y="184.90" font-size="13.5" text-anchor="middle">4</text>
<text x="560.81" y="184.90" font-size="13.5" text-anchor="middle">6</text>
<text x="377.60" y="155.52" font-size="13.5" text-anchor="end">0</text>
<text x="377.60" y="137.06" font-size="13.5" text-anchor="end">50</text>
<text x="377.60" y="118.61" font-size="13.5" text-anchor="end">100</text>
<text x="377.60" y="100.15" font-size="13.5" text-anchor="end">150</text>
<text x="377.60" y="81.69" font-size="13.5" text-anchor="end">200</text>
<text x="377.60" y="63.24" font-size="13.5" text-anchor="end">250</text>
<text x="377.60" y="44.78" font-size="13.5" text-anchor="end">300</text>
<clipPath id="clip10"><rect x="105.20" y="216.70" width="214.80" height="119.60"/></clipPath>
<path d="M113.16 336.30V216.70M162.88 336.30V216.70M212.60 336.30V216.70M262.32 336.30V216.70M312.04 336.30V216.70" stroke="#c4c4c4" stroke-width="1.0" stroke-dasharray="1.3 3.87" stroke-dashoffset="1.2" fill="none"/>
<path d="M105.20 331.87H320.00M105.20 309.72H320.00M105.20 287.57H320.00M105.20 265.43H320.00M105.20 243.28H320.00M105.20 221.13H320.00" stroke="#c4c4c4" stroke-width="1.0" stroke-dasharray="1.3 3.87" stroke-dashoffset="0.8" fill="none"/>
<g clip-path="url(#clip10)">
<path d="M113.2 235.6L113.4 235.6L113.7 235.7L113.9 235.7L114.2 235.7L114.4 235.7L114.7 235.7L115.0 235.8L115.2 235.8L115.5 235.9L115.7 235.9L116.0 236.0L116.3 236.0L116.5 236.1L116.8 236.2L117.0 236.3L117.3 236.3L117.6 236.4L117.8 236.5L118.1 236.6L118.3 236.7L118.6 236.8L118.8 237.0L119.1 237.1L119.4 237.2L119.6 237.3L119.9 237.5L120.1 237.6L120.4 237.7L120.7 237.9L120.9 238.1L121.2 238.2L121.4 238.4L121.7 238.5L121.9 238.7L122.2 238.9L122.5 239.1L122.7 239.3L123.0 239.5L123.2 239.6L123.5 239.8L123.8 240.0L124.0 240.3L124.3 240.5L124.5 240.7L124.8 240.9L125.0 241.1L125.3 241.3L125.6 241.6L125.8 241.8L126.1 242.0L126.3 242.3L126.6 242.5L126.9 242.8L127.1 243.0L127.4 243.3L127.6 243.5L127.9 243.8L128.2 244.0L128.4 244.3L128.7 244.6L128.9 244.8L129.2 245.1L129.4 245.4L129.7 245.6L130.0 245.9L130.2 246.2L130.5 246.5L130.7 246.8L131.0 247.0L131.3 247.3L131.5 247.6L131.8 247.9L132.0 248.2L132.3 248.5L132.5 248.8L132.8 249.1L133.1 249.4L133.3 249.7L133.6 250.0L133.8 250.3L134.1 250.6L134.4 250.9L134.6 251.2L134.9 251.5L135.1 251.8L135.4 252.1L135.6 252.4L135.9 252.7L136.2 253.0L136.4 253.3L136.7 253.6L136.9 253.9L137.2 254.2L137.5 254.6L137.7 254.9L138.0 255.2L138.2 255.5L138.5 255.8L138.8 256.1L139.0 256.4L139.3 256.7L139.5 257.0L139.8 257.3L140.0 257.7L140.3 258.0L140.6 258.3L140.8 258.6L141.1 258.9L141.3 259.2L141.6 259.5L141.9 259.8L142.1 260.1L142.4 260.4L142.6 260.7L142.9 261.0L143.1 261.3L143.4 261.7L143.7 262.0L143.9 262.3L144.2 262.6L145.7 264.3L147.1 266.0L148.6 267.6L150.1 269.3L151.6 270.9L153.0 272.4L154.5 273.9L156.0 275.4L157.5 276.8L159.0 278.2L160.4 279.6L161.9 280.9L163.4 282.2L164.9 283.4L166.3 284.7L167.8 285.8L169.3 287.0L170.8 288.1L172.3 289.1L173.7 290.2L175.2 291.2L176.7 292.1L178.2 293.1L179.6 294.0L181.1 294.9L182.6 295.7L184.1 296.5L185.6 297.4L187.0 298.1L188.5 298.9L190.0 299.6L191.5 300.3L192.9 301.0L194.4 301.7L195.9 302.4L197.4 303.0L198.8 303.6L200.3 304.2L201.8 304.8L203.3 305.4L204.8 305.9L206.2 306.5L207.7 307.0L209.2 307.5L210.7 308.0L212.1 308.5L213.6 309.0L215.1 309.4L216.6 309.9L218.1 310.3L219.5 310.7L221.0 311.1L222.5 311.5L224.0 311.9L225.4 312.3L226.9 312.7L228.4 313.1L229.9 313.4L231.4 313.8L232.8 314.1L234.3 314.5L235.8 314.8L237.3 315.1L238.7 315.4L240.2 315.7L241.7 316.0L243.2 316.3L244.6 316.6L246.1 316.9L247.6 317.1L249.1 317.4L250.6 317.7L252.0 317.9L253.5 318.2L255.0 318.4L256.5 318.7L257.9 318.9L259.4 319.2L260.9 319.4L262.4 319.6L263.9 319.8L265.3 320.0L266.8 320.3L268.3 320.5L269.8 320.7L271.2 320.9L272.7 321.1L274.2 321.2L275.7 321.4L277.2 321.6L278.6 321.8L280.1 322.0L281.6 322.2L283.1 322.3L284.5 322.5L286.0 322.7L287.5 322.8L289.0 323.0L290.5 323.2L291.9 323.3L293.4 323.5L294.9 323.6L296.4 323.8L297.8 323.9L299.3 324.1L300.8 324.2L302.3 324.3L303.7 324.5L305.2 324.6L306.7 324.7L308.2 324.9L309.7 325.0L311.1 325.1L312.6 325.3L314.1 325.4L315.6 325.5L317.0 325.6L318.5 325.7L320.0 325.9L320.0 328.9L318.5 328.8L317.0 328.7L315.6 328.6L314.1 328.5L312.6 328.4L311.1 328.3L309.7 328.2L308.2 328.1L306.7 328.0L305.2 327.9L303.7 327.8L302.3 327.7L300.8 327.6L299.3 327.5L297.8 327.4L296.4 327.2L294.9 327.1L293.4 327.0L291.9 326.9L290.5 326.8L289.0 326.6L287.5 326.5L286.0 326.4L284.5 326.2L283.1 326.1L281.6 325.9L280.1 325.8L278.6 325.6L277.2 325.5L275.7 325.3L274.2 325.1L272.7 325.0L271.2 324.8L269.8 324.6L268.3 324.4L266.8 324.3L265.3 324.1L263.9 323.9L262.4 323.7L260.9 323.5L259.4 323.3L257.9 323.1L256.5 322.8L255.0 322.6L253.5 322.4L252.0 322.1L250.6 321.9L249.1 321.6L247.6 321.4L246.1 321.1L244.6 320.9L243.2 320.6L241.7 320.3L240.2 320.0L238.7 319.7L237.3 319.4L235.8 319.1L234.3 318.8L232.8 318.4L231.4 318.1L229.9 317.8L228.4 317.4L226.9 317.0L225.4 316.6L224.0 316.3L222.5 315.9L221.0 315.4L219.5 315.0L218.1 314.6L216.6 314.1L215.1 313.7L213.6 313.2L212.1 312.7L210.7 312.2L209.2 311.7L207.7 311.2L206.2 310.6L204.8 310.1L203.3 309.5L201.8 308.9L200.3 308.3L198.8 307.7L197.4 307.1L195.9 306.4L194.4 305.7L192.9 305.0L191.5 304.3L190.0 303.6L188.5 302.8L187.0 302.0L185.6 301.2L184.1 300.4L182.6 299.6L181.1 298.7L179.6 297.8L178.2 296.9L176.7 296.0L175.2 295.0L173.7 294.1L172.3 293.0L170.8 292.0L169.3 291.0L167.8 289.9L166.3 288.8L164.9 287.7L163.4 286.5L161.9 285.4L160.4 284.2L159.0 283.0L157.5 281.7L156.0 280.5L154.5 279.2L153.0 277.9L151.6 276.7L150.1 275.3L148.6 274.0L147.1 272.7L145.7 271.4L144.2 270.0L143.9 269.8L143.7 269.6L143.4 269.3L143.1 269.1L142.9 268.9L142.6 268.6L142.4 268.4L142.1 268.2L141.9 267.9L141.6 267.7L141.3 267.5L141.1 267.2L140.8 267.0L140.6 266.8L140.3 266.5L140.0 266.3L139.8 266.1L139.5 265.8L139.3 265.6L139.0 265.4L138.8 265.2L138.5 264.9L138.2 264.7L138.0 264.5L137.7 264.2L137.5 264.0L137.2 263.8L136.9 263.6L136.7 263.3L136.4 263.1L136.2 262.9L135.9 262.7L135.6 262.5L135.4 262.2L135.1 262.0L134.9 261.8L134.6 261.6L134.4 261.4L134.1 261.1L133.8 260.9L133.6 260.7L133.3 260.5L133.1 260.3L132.8 260.1L132.5 259.9L132.3 259.7L132.0 259.4L131.8 259.2L131.5 259.0L131.3 258.8L131.0 258.6L130.7 258.4L130.5 258.2L130.2 258.0L130.0 257.8L129.7 257.6L129.4 257.4L129.2 257.2L128.9 257.0L128.7 256.9L128.4 256.7L128.2 256.5L127.9 256.3L127.6 256.1L127.4 255.9L127.1 255.8L126.9 255.6L126.6 255.4L126.3 255.2L126.1 255.1L125.8 254.9L125.6 254.7L125.3 254.6L125.0 254.4L124.8 254.2L124.5 254.1L124.3 253.9L124.0 253.8L123.8 253.6L123.5 253.5L123.2 253.3L123.0 253.2L122.7 253.0L122.5 252.9L122.2 252.7L121.9 252.6L121.7 252.5L121.4 252.3L121.2 252.2L120.9 252.1L120.7 252.0L120.4 251.8L120.1 251.7L119.9 251.6L119.6 251.5L119.4 251.4L119.1 251.3L118.8 251.2L118.6 251.1L118.3 251.0L118.1 250.9L117.8 250.8L117.6 250.7L117.3 250.7L117.0 250.6L116.8 250.5L116.5 250.5L116.3 250.4L116.0 250.3L115.7 250.3L115.5 250.2L115.2 250.2L115.0 250.1L114.7 250.1L114.4 250.1L114.2 250.0L113.9 250.0L113.7 250.0L113.4 250.0L113.2 250.0Z" fill="none" stroke="#3b3b3b" stroke-opacity="0.22" stroke-width="2.2" stroke-linejoin="round"/>
<path d="M113.2 235.6L113.4 235.6L113.7 235.7L113.9 235.7L114.2 235.7L114.4 235.7L114.7 235.7L115.0 235.8L115.2 235.8L115.5 235.9L115.7 235.9L116.0 236.0L116.3 236.0L116.5 236.1L116.8 236.2L117.0 236.3L117.3 236.3L117.6 236.4L117.8 236.5L118.1 236.6L118.3 236.7L118.6 236.8L118.8 237.0L119.1 237.1L119.4 237.2L119.6 237.3L119.9 237.5L120.1 237.6L120.4 237.7L120.7 237.9L120.9 238.1L121.2 238.2L121.4 238.4L121.7 238.5L121.9 238.7L122.2 238.9L122.5 239.1L122.7 239.3L123.0 239.5L123.2 239.6L123.5 239.8L123.8 240.0L124.0 240.3L124.3 240.5L124.5 240.7L124.8 240.9L125.0 241.1L125.3 241.3L125.6 241.6L125.8 241.8L126.1 242.0L126.3 242.3L126.6 242.5L126.9 242.8L127.1 243.0L127.4 243.3L127.6 243.5L127.9 243.8L128.2 244.0L128.4 244.3L128.7 244.6L128.9 244.8L129.2 245.1L129.4 245.4L129.7 245.6L130.0 245.9L130.2 246.2L130.5 246.5L130.7 246.8L131.0 247.0L131.3 247.3L131.5 247.6L131.8 247.9L132.0 248.2L132.3 248.5L132.5 248.8L132.8 249.1L133.1 249.4L133.3 249.7L133.6 250.0L133.8 250.3L134.1 250.6L134.4 250.9L134.6 251.2L134.9 251.5L135.1 251.8L135.4 252.1L135.6 252.4L135.9 252.7L136.2 253.0L136.4 253.3L136.7 253.6L136.9 253.9L137.2 254.2L137.5 254.6L137.7 254.9L138.0 255.2L138.2 255.5L138.5 255.8L138.8 256.1L139.0 256.4L139.3 256.7L139.5 257.0L139.8 257.3L140.0 257.7L140.3 258.0L140.6 258.3L140.8 258.6L141.1 258.9L141.3 259.2L141.6 259.5L141.9 259.8L142.1 260.1L142.4 260.4L142.6 260.7L142.9 261.0L143.1 261.3L143.4 261.7L143.7 262.0L143.9 262.3L144.2 262.6L145.7 264.3L147.1 266.0L148.6 267.6L150.1 269.3L151.6 270.9L153.0 272.4L154.5 273.9L156.0 275.4L157.5 276.8L159.0 278.2L160.4 279.6L161.9 280.9L163.4 282.2L164.9 283.4L166.3 284.7L167.8 285.8L169.3 287.0L170.8 288.1L172.3 289.1L173.7 290.2L175.2 291.2L176.7 292.1L178.2 293.1L179.6 294.0L181.1 294.9L182.6 295.7L184.1 296.5L185.6 297.4L187.0 298.1L188.5 298.9L190.0 299.6L191.5 300.3L192.9 301.0L194.4 301.7L195.9 302.4L197.4 303.0L198.8 303.6L200.3 304.2L201.8 304.8L203.3 305.4L204.8 305.9L206.2 306.5L207.7 307.0L209.2 307.5L210.7 308.0L212.1 308.5L213.6 309.0L215.1 309.4L216.6 309.9L218.1 310.3L219.5 310.7L221.0 311.1L222.5 311.5L224.0 311.9L225.4 312.3L226.9 312.7L228.4 313.1L229.9 313.4L231.4 313.8L232.8 314.1L234.3 314.5L235.8 314.8L237.3 315.1L238.7 315.4L240.2 315.7L241.7 316.0L243.2 316.3L244.6 316.6L246.1 316.9L247.6 317.1L249.1 317.4L250.6 317.7L252.0 317.9L253.5 318.2L255.0 318.4L256.5 318.7L257.9 318.9L259.4 319.2L260.9 319.4L262.4 319.6L263.9 319.8L265.3 320.0L266.8 320.3L268.3 320.5L269.8 320.7L271.2 320.9L272.7 321.1L274.2 321.2L275.7 321.4L277.2 321.6L278.6 321.8L280.1 322.0L281.6 322.2L283.1 322.3L284.5 322.5L286.0 322.7L287.5 322.8L289.0 323.0L290.5 323.2L291.9 323.3L293.4 323.5L294.9 323.6L296.4 323.8L297.8 323.9L299.3 324.1L300.8 324.2L302.3 324.3L303.7 324.5L305.2 324.6L306.7 324.7L308.2 324.9L309.7 325.0L311.1 325.1L312.6 325.3L314.1 325.4L315.6 325.5L317.0 325.6L318.5 325.7L320.0 325.9L320.0 328.9L318.5 328.8L317.0 328.7L315.6 328.6L314.1 328.5L312.6 328.4L311.1 328.3L309.7 328.2L308.2 328.1L306.7 328.0L305.2 327.9L303.7 327.8L302.3 327.7L300.8 327.6L299.3 327.5L297.8 327.4L296.4 327.2L294.9 327.1L293.4 327.0L291.9 326.9L290.5 326.8L289.0 326.6L287.5 326.5L286.0 326.4L284.5 326.2L283.1 326.1L281.6 325.9L280.1 325.8L278.6 325.6L277.2 325.5L275.7 325.3L274.2 325.1L272.7 325.0L271.2 324.8L269.8 324.6L268.3 324.4L266.8 324.3L265.3 324.1L263.9 323.9L262.4 323.7L260.9 323.5L259.4 323.3L257.9 323.1L256.5 322.8L255.0 322.6L253.5 322.4L252.0 322.1L250.6 321.9L249.1 321.6L247.6 321.4L246.1 321.1L244.6 320.9L243.2 320.6L241.7 320.3L240.2 320.0L238.7 319.7L237.3 319.4L235.8 319.1L234.3 318.8L232.8 318.4L231.4 318.1L229.9 317.8L228.4 317.4L226.9 317.0L225.4 316.6L224.0 316.3L222.5 315.9L221.0 315.4L219.5 315.0L218.1 314.6L216.6 314.1L215.1 313.7L213.6 313.2L212.1 312.7L210.7 312.2L209.2 311.7L207.7 311.2L206.2 310.6L204.8 310.1L203.3 309.5L201.8 308.9L200.3 308.3L198.8 307.7L197.4 307.1L195.9 306.4L194.4 305.7L192.9 305.0L191.5 304.3L190.0 303.6L188.5 302.8L187.0 302.0L185.6 301.2L184.1 300.4L182.6 299.6L181.1 298.7L179.6 297.8L178.2 296.9L176.7 296.0L175.2 295.0L173.7 294.1L172.3 293.0L170.8 292.0L169.3 291.0L167.8 289.9L166.3 288.8L164.9 287.7L163.4 286.5L161.9 285.4L160.4 284.2L159.0 283.0L157.5 281.7L156.0 280.5L154.5 279.2L153.0 277.9L151.6 276.7L150.1 275.3L148.6 274.0L147.1 272.7L145.7 271.4L144.2 270.0L143.9 269.8L143.7 269.6L143.4 269.3L143.1 269.1L142.9 268.9L142.6 268.6L142.4 268.4L142.1 268.2L141.9 267.9L141.6 267.7L141.3 267.5L141.1 267.2L140.8 267.0L140.6 266.8L140.3 266.5L140.0 266.3L139.8 266.1L139.5 265.8L139.3 265.6L139.0 265.4L138.8 265.2L138.5 264.9L138.2 264.7L138.0 264.5L137.7 264.2L137.5 264.0L137.2 263.8L136.9 263.6L136.7 263.3L136.4 263.1L136.2 262.9L135.9 262.7L135.6 262.5L135.4 262.2L135.1 262.0L134.9 261.8L134.6 261.6L134.4 261.4L134.1 261.1L133.8 260.9L133.6 260.7L133.3 260.5L133.1 260.3L132.8 260.1L132.5 259.9L132.3 259.7L132.0 259.4L131.8 259.2L131.5 259.0L131.3 258.8L131.0 258.6L130.7 258.4L130.5 258.2L130.2 258.0L130.0 257.8L129.7 257.6L129.4 257.4L129.2 257.2L128.9 257.0L128.7 256.9L128.4 256.7L128.2 256.5L127.9 256.3L127.6 256.1L127.4 255.9L127.1 255.8L126.9 255.6L126.6 255.4L126.3 255.2L126.1 255.1L125.8 254.9L125.6 254.7L125.3 254.6L125.0 254.4L124.8 254.2L124.5 254.1L124.3 253.9L124.0 253.8L123.8 253.6L123.5 253.5L123.2 253.3L123.0 253.2L122.7 253.0L122.5 252.9L122.2 252.7L121.9 252.6L121.7 252.5L121.4 252.3L121.2 252.2L120.9 252.1L120.7 252.0L120.4 251.8L120.1 251.7L119.9 251.6L119.6 251.5L119.4 251.4L119.1 251.3L118.8 251.2L118.6 251.1L118.3 251.0L118.1 250.9L117.8 250.8L117.6 250.7L117.3 250.7L117.0 250.6L116.8 250.5L116.5 250.5L116.3 250.4L116.0 250.3L115.7 250.3L115.5 250.2L115.2 250.2L115.0 250.1L114.7 250.1L114.4 250.1L114.2 250.0L113.9 250.0L113.7 250.0L113.4 250.0L113.2 250.0Z" fill="#3b3b3b" stroke="#3b3b3b" stroke-width="0.4" stroke-linejoin="round"/>
<path d="M113.2 233.2L113.4 233.2L113.7 233.2L113.9 233.2L114.2 233.2L114.4 233.3L114.7 233.3L115.0 233.3L115.2 233.4L115.5 233.4L115.7 233.5L116.0 233.6L116.2 233.7L116.5 233.7L116.8 233.8L117.0 233.9L117.3 234.0L117.5 234.1L117.8 234.3L118.0 234.4L118.3 234.5L118.6 234.6L118.8 234.8L119.1 234.9L119.3 235.1L119.6 235.2L119.9 235.4L120.1 235.6L120.4 235.7L120.6 235.9L120.9 236.1L121.1 236.3L121.4 236.5L121.7 236.7L121.9 236.9L122.2 237.1L122.4 237.3L122.7 237.5L122.9 237.7L123.2 238.0L123.5 238.2L123.7 238.4L124.0 238.7L124.2 238.9L124.5 239.2L124.7 239.4L125.0 239.7L125.3 239.9L125.5 240.2L125.8 240.5L126.0 240.7L126.3 241.0L126.5 241.3L126.8 241.6L127.1 241.8L127.3 242.1L127.6 242.4L127.8 242.7L128.1 243.0L128.4 243.3L128.6 243.6L128.9 243.9L129.1 244.2L129.4 244.5L129.6 244.8L129.9 245.1L130.2 245.5L130.4 245.8L130.7 246.1L130.9 246.4L131.2 246.7L131.4 247.1L131.7 247.4L132.0 247.7L132.2 248.0L132.5 248.4L132.7 248.7L133.0 249.0L133.2 249.3L133.5 249.7L133.8 250.0L134.0 250.4L134.3 250.7L134.5 251.0L134.8 251.4L135.0 251.7L135.3 252.0L135.6 252.4L135.8 252.7L136.1 253.1L136.3 253.4L136.6 253.7L136.9 254.1L137.1 254.4L137.4 254.8L137.6 255.1L137.9 255.4L138.1 255.8L138.4 256.1L138.7 256.5L138.9 256.8L139.2 257.1L139.4 257.5L139.7 257.8L139.9 258.2L140.2 258.5L140.5 258.8L140.7 259.2L141.0 259.5L141.2 259.8L141.5 260.2L141.7 260.5L142.0 260.8L142.3 261.2L142.5 261.5L142.8 261.8L143.0 262.2L143.3 262.5L143.5 262.8L143.8 263.2L144.1 263.5L145.5 265.4L147.0 267.2L148.5 269.0L149.9 270.7L151.4 272.4L152.9 274.1L154.4 275.7L155.8 277.3L157.3 278.8L158.8 280.3L160.3 281.7L161.7 283.1L163.2 284.5L164.7 285.8L166.1 287.0L167.6 288.3L169.1 289.5L170.6 290.6L172.0 291.7L173.5 292.8L175.0 293.8L176.4 294.9L177.9 295.8L179.4 296.8L180.9 297.7L182.3 298.6L183.8 299.4L185.3 300.3L186.7 301.1L188.2 301.9L189.7 302.6L191.2 303.4L192.6 304.1L194.1 304.8L195.6 305.4L197.0 306.1L198.5 306.7L200.0 307.3L201.5 307.9L202.9 308.5L204.4 309.1L205.9 309.6L207.3 310.2L208.8 310.7L210.3 311.2L211.8 311.7L213.2 312.1L214.7 312.6L216.2 313.1L217.6 313.5L219.1 313.9L220.6 314.3L222.1 314.8L223.5 315.1L225.0 315.5L226.5 315.9L228.0 316.3L229.4 316.6L230.9 317.0L232.4 317.3L233.8 317.7L235.3 318.0L236.8 318.3L238.3 318.6L239.7 318.9L241.2 319.2L242.7 319.5L244.1 319.8L245.6 320.1L247.1 320.4L248.6 320.6L250.0 320.9L251.5 321.1L253.0 321.4L254.4 321.6L255.9 321.9L257.4 322.1L258.9 322.3L260.3 322.6L261.8 322.8L263.3 323.0L264.7 323.2L266.2 323.4L267.7 323.6L269.2 323.8L270.6 324.0L272.1 324.2L273.6 324.4L275.0 324.6L276.5 324.8L278.0 324.9L279.5 325.1L280.9 325.3L282.4 325.5L283.9 325.6L285.3 325.8L286.8 326.0L288.3 326.1L289.8 326.3L291.2 326.4L292.7 326.6L294.2 326.7L295.7 326.9L297.1 327.0L298.6 327.1L300.1 327.3L301.5 327.4L303.0 327.5L304.5 327.7L306.0 327.8L307.4 327.9L308.9 328.1L310.4 328.2L311.8 328.3L313.3 328.4L314.8 328.5L316.3 328.6L317.7 328.8L319.2 328.9" fill="none" stroke="#cc0000" stroke-width="2.9" stroke-linecap="round" stroke-linejoin="round"/>
</g>
<path d="M128.07 336.30V216.70" stroke="#b0d0e4" stroke-width="1.4" stroke-dasharray="4.7 5.45" stroke-dashoffset="9.25" fill="none"/>
<path d="M209.7 331.7v4.6M142.8 331.7v4.6M179.8 331.7v4.6M136.6 331.7v4.6M147.8 331.7v4.6M137.7 331.7v4.6M151.5 331.7v4.6M130.4 331.7v4.6M144.2 331.7v4.6M139.5 331.7v4.6M129.3 331.7v4.6M178.8 331.7v4.6M201.1 331.7v4.6M133.0 331.7v4.6M158.1 331.7v4.6M150.6 331.7v4.6M144.7 331.7v4.6M154.8 331.7v4.6M160.5 331.7v4.6M137.8 331.7v4.6M141.6 331.7v4.6M149.3 331.7v4.6M279.4 331.7v4.6M208.2 331.7v4.6M173.1 331.7v4.6M146.4 331.7v4.6M199.9 331.7v4.6M243.8 331.7v4.6M192.6 331.7v4.6M134.6 331.7v4.6M143.9 331.7v4.6M135.8 331.7v4.6M146.1 331.7v4.6M185.9 331.7v4.6M148.6 331.7v4.6M140.1 331.7v4.6M133.5 331.7v4.6M132.6 331.7v4.6M180.0 331.7v4.6M219.1 331.7v4.6M194.0 331.7v4.6M128.2 331.7v4.6M137.4 331.7v4.6M132.6 331.7v4.6M146.8 331.7v4.6M134.8 331.7v4.6M148.1 331.7v4.6M146.1 331.7v4.6M158.0 331.7v4.6M149.8 331.7v4.6M149.0 331.7v4.6M129.5 331.7v4.6M213.8 331.7v4.6M144.8 331.7v4.6M189.3 331.7v4.6M139.8 331.7v4.6M130.9 331.7v4.6M270.1 331.7v4.6M148.5 331.7v4.6M133.6 331.7v4.6M227.3 331.7v4.6M207.0 331.7v4.6M131.6 331.7v4.6M218.4 331.7v4.6M132.3 331.7v4.6M132.2 331.7v4.6M132.9 331.7v4.6M190.7 331.7v4.6M156.0 331.7v4.6M152.4 331.7v4.6M164.1 331.7v4.6M138.5 331.7v4.6M130.0 331.7v4.6M130.6 331.7v4.6M136.2 331.7v4.6M154.5 331.7v4.6M130.4 331.7v4.6M129.4 331.7v4.6M134.8 331.7v4.6M128.4 331.7v4.6M129.8 331.7v4.6M132.5 331.7v4.6M131.9 331.7v4.6M140.2 331.7v4.6M185.0 331.7v4.6M161.1 331.7v4.6M128.3 331.7v4.6M130.3 331.7v4.6M140.4 331.7v4.6M146.5 331.7v4.6M146.2 331.7v4.6M151.3 331.7v4.6M166.4 331.7v4.6M158.3 331.7v4.6M136.6 331.7v4.6M137.6 331.7v4.6M277.4 331.7v4.6M150.3 331.7v4.6M202.5 331.7v4.6M207.1 331.7v4.6M178.0 331.7v4.6M157.6 331.7v4.6M168.5 331.7v4.6M138.3 331.7v4.6M135.0 331.7v4.6M142.9 331.7v4.6M134.3 331.7v4.6M134.1 331.7v4.6M131.6 331.7v4.6M133.9 331.7v4.6M128.6 331.7v4.6M132.5 331.7v4.6M167.9 331.7v4.6M129.6 331.7v4.6M165.0 331.7v4.6M164.8 331.7v4.6M133.6 331.7v4.6M147.5 331.7v4.6M155.7 331.7v4.6M213.3 331.7v4.6M156.4 331.7v4.6M132.5 331.7v4.6M129.8 331.7v4.6M133.8 331.7v4.6M132.5 331.7v4.6M178.8 331.7v4.6M184.3 331.7v4.6M131.5 331.7v4.6M172.5 331.7v4.6M198.2 331.7v4.6M135.6 331.7v4.6M149.0 331.7v4.6M136.0 331.7v4.6M144.6 331.7v4.6M171.5 331.7v4.6M134.8 331.7v4.6M149.1 331.7v4.6M157.8 331.7v4.6M188.9 331.7v4.6M225.8 331.7v4.6M198.4 331.7v4.6M143.5 331.7v4.6M140.9 331.7v4.6M200.0 331.7v4.6M187.4 331.7v4.6M177.6 331.7v4.6M156.3 331.7v4.6M221.6 331.7v4.6M132.3 331.7v4.6M134.3 331.7v4.6M171.0 331.7v4.6M137.7 331.7v4.6M158.0 331.7v4.6M154.2 331.7v4.6M156.8 331.7v4.6M137.3 331.7v4.6M227.5 331.7v4.6M152.9 331.7v4.6M128.2 331.7v4.6M139.6 331.7v4.6M150.1 331.7v4.6M188.5 331.7v4.6M156.4 331.7v4.6M216.8 331.7v4.6M140.0 331.7v4.6M129.8 331.7v4.6M146.0 331.7v4.6M201.9 331.7v4.6M151.4 331.7v4.6M185.1 331.7v4.6M182.1 331.7v4.6M196.6 331.7v4.6M148.8 331.7v4.6M128.8 331.7v4.6M153.5 331.7v4.6M131.2 331.7v4.6M142.2 331.7v4.6M136.1 331.7v4.6M141.5 331.7v4.6M147.5 331.7v4.6M162.8 331.7v4.6M221.7 331.7v4.6M184.8 331.7v4.6M179.6 331.7v4.6M133.2 331.7v4.6M154.0 331.7v4.6M142.5 331.7v4.6M145.4 331.7v4.6M130.8 331.7v4.6M146.4 331.7v4.6M225.2 331.7v4.6M190.9 331.7v4.6M180.9 331.7v4.6M131.1 331.7v4.6M183.6 331.7v4.6M143.6 331.7v4.6M140.7 331.7v4.6M148.7 331.7v4.6M139.7 331.7v4.6M137.0 331.7v4.6M197.8 331.7v4.6M154.6 331.7v4.6M146.5 331.7v4.6M150.7 331.7v4.6M130.3 331.7v4.6M131.0 331.7v4.6M129.1 331.7v4.6M141.2 331.7v4.6M191.2 331.7v4.6M129.3 331.7v4.6M138.4 331.7v4.6M190.9 331.7v4.6M134.7 331.7v4.6M149.3 331.7v4.6M197.2 331.7v4.6M171.3 331.7v4.6M143.0 331.7v4.6M138.9 331.7v4.6M137.7 331.7v4.6M140.0 331.7v4.6M255.4 331.7v4.6M154.1 331.7v4.6M145.4 331.7v4.6M210.4 331.7v4.6M143.0 331.7v4.6M136.0 331.7v4.6M149.8 331.7v4.6M131.7 331.7v4.6M212.8 331.7v4.6M128.1 331.7v4.6M142.2 331.7v4.6M129.0 331.7v4.6M135.3 331.7v4.6M189.7 331.7v4.6M133.1 331.7v4.6M172.8 331.7v4.6M160.3 331.7v4.6M129.6 331.7v4.6M225.5 331.7v4.6M129.6 331.7v4.6M181.2 331.7v4.6M220.6 331.7v4.6M143.6 331.7v4.6M142.4 331.7v4.6M142.4 331.7v4.6M163.3 331.7v4.6M157.8 331.7v4.6M133.3 331.7v4.6M132.4 331.7v4.6M133.1 331.7v4.6M130.6 331.7v4.6M131.1 331.7v4.6M148.5 331.7v4.6M132.3 331.7v4.6M162.1 331.7v4.6M139.2 331.7v4.6M217.3 331.7v4.6M130.1 331.7v4.6M157.2 331.7v4.6M146.2 331.7v4.6M168.9 331.7v4.6M128.9 331.7v4.6M134.2 331.7v4.6M210.9 331.7v4.6M146.9 331.7v4.6M141.4 331.7v4.6M130.8 331.7v4.6M154.5 331.7v4.6M232.0 331.7v4.6M157.2 331.7v4.6M221.9 331.7v4.6M158.5 331.7v4.6M128.6 331.7v4.6M156.9 331.7v4.6M152.6 331.7v4.6M249.9 331.7v4.6M175.4 331.7v4.6M164.6 331.7v4.6M132.4 331.7v4.6M145.4 331.7v4.6M170.6 331.7v4.6M151.3 331.7v4.6M154.3 331.7v4.6M130.7 331.7v4.6M150.8 331.7v4.6M130.9 331.7v4.6M128.7 331.7v4.6M167.5 331.7v4.6M143.9 331.7v4.6M135.0 331.7v4.6M146.9 331.7v4.6M130.6 331.7v4.6M157.8 331.7v4.6M229.9 331.7v4.6M176.4 331.7v4.6M190.5 331.7v4.6M161.8 331.7v4.6M222.5 331.7v4.6M144.4 331.7v4.6M131.7 331.7v4.6M134.0 331.7v4.6M128.4 331.7v4.6M135.1 331.7v4.6M131.7 331.7v4.6M133.4 331.7v4.6M170.6 331.7v4.6M142.2 331.7v4.6M140.2 331.7v4.6M131.9 331.7v4.6M171.7 331.7v4.6M136.9 331.7v4.6M194.0 331.7v4.6M131.2 331.7v4.6M128.5 331.7v4.6M180.0 331.7v4.6M148.1 331.7v4.6M184.9 331.7v4.6M164.6 331.7v4.6M164.7 331.7v4.6M137.1 331.7v4.6M159.7 331.7v4.6M131.3 331.7v4.6M200.6 331.7v4.6M186.3 331.7v4.6M158.1 331.7v4.6M131.8 331.7v4.6M135.4 331.7v4.6M146.4 331.7v4.6M132.2 331.7v4.6M229.9 331.7v4.6M205.9 331.7v4.6M147.9 331.7v4.6M136.3 331.7v4.6M149.3 331.7v4.6M271.4 331.7v4.6M145.9 331.7v4.6M168.7 331.7v4.6M146.2 331.7v4.6M132.4 331.7v4.6M138.9 331.7v4.6M144.8 331.7v4.6M162.7 331.7v4.6M142.8 331.7v4.6M135.6 331.7v4.6M130.8 331.7v4.6M210.5 331.7v4.6M183.6 331.7v4.6M144.8 331.7v4.6M169.8 331.7v4.6M144.0 331.7v4.6M137.5 331.7v4.6M130.4 331.7v4.6M157.7 331.7v4.6M128.3 331.7v4.6M197.6 331.7v4.6M133.1 331.7v4.6M205.5 331.7v4.6M143.1 331.7v4.6M161.9 331.7v4.6M134.4 331.7v4.6M134.9 331.7v4.6M172.3 331.7v4.6M151.7 331.7v4.6M152.6 331.7v4.6M141.5 331.7v4.6M156.7 331.7v4.6M246.9 331.7v4.6M228.4 331.7v4.6M190.6 331.7v4.6M151.8 331.7v4.6M145.2 331.7v4.6M185.1 331.7v4.6M180.3 331.7v4.6M142.7 331.7v4.6M149.9 331.7v4.6M128.2 331.7v4.6M158.1 331.7v4.6M149.4 331.7v4.6M132.2 331.7v4.6M215.5 331.7v4.6M165.6 331.7v4.6M148.8 331.7v4.6M181.1 331.7v4.6M152.7 331.7v4.6M149.4 331.7v4.6M128.6 331.7v4.6M164.7 331.7v4.6M148.2 331.7v4.6M150.5 331.7v4.6M154.2 331.7v4.6M168.3 331.7v4.6M164.2 331.7v4.6M162.3 331.7v4.6M310.4 331.7v4.6M143.5 331.7v4.6M241.4 331.7v4.6M131.0 331.7v4.6M186.0 331.7v4.6M155.4 331.7v4.6M147.5 331.7v4.6M137.0 331.7v4.6M133.0 331.7v4.6M142.5 331.7v4.6M148.0 331.7v4.6M128.3 331.7v4.6M164.4 331.7v4.6M189.6 331.7v4.6M153.9 331.7v4.6M164.6 331.7v4.6M131.6 331.7v4.6M140.5 331.7v4.6M128.8 331.7v4.6M245.0 331.7v4.6M212.6 331.7v4.6M146.2 331.7v4.6M135.9 331.7v4.6M157.1 331.7v4.6M171.4 331.7v4.6M134.6 331.7v4.6M136.1 331.7v4.6M177.3 331.7v4.6M162.9 331.7v4.6M132.9 331.7v4.6M139.9 331.7v4.6M178.3 331.7v4.6M155.8 331.7v4.6M204.1 331.7v4.6M145.4 331.7v4.6M206.9 331.7v4.6M129.4 331.7v4.6M156.9 331.7v4.6M232.0 331.7v4.6M134.2 331.7v4.6M176.6 331.7v4.6M143.4 331.7v4.6M129.2 331.7v4.6M146.8 331.7v4.6M179.6 331.7v4.6M144.8 331.7v4.6M130.3 331.7v4.6M137.6 331.7v4.6M147.3 331.7v4.6M168.1 331.7v4.6M131.2 331.7v4.6M155.5 331.7v4.6M139.2 331.7v4.6M149.5 331.7v4.6M218.7 331.7v4.6M183.8 331.7v4.6M129.8 331.7v4.6M168.0 331.7v4.6M150.5 331.7v4.6M148.5 331.7v4.6M213.4 331.7v4.6M169.3 331.7v4.6M129.9 331.7v4.6M158.2 331.7v4.6M197.2 331.7v4.6M134.0 331.7v4.6M148.3 331.7v4.6M128.9 331.7v4.6M169.6 331.7v4.6M136.4 331.7v4.6M155.8 331.7v4.6M149.7 331.7v4.6M181.7 331.7v4.6M142.8 331.7v4.6M129.8 331.7v4.6M144.1 331.7v4.6M213.3 331.7v4.6M147.7 331.7v4.6M132.6 331.7v4.6M141.8 331.7v4.6M135.6 331.7v4.6M147.2 331.7v4.6M191.5 331.7v4.6M298.7 331.7v4.6M168.7 331.7v4.6M172.8 331.7v4.6M141.3 331.7v4.6M179.8 331.7v4.6M157.3 331.7v4.6M147.3 331.7v4.6M158.1 331.7v4.6M135.0 331.7v4.6M128.2 331.7v4.6M152.1 331.7v4.6M181.8 331.7v4.6M138.7 331.7v4.6M175.9 331.7v4.6M136.7 331.7v4.6M144.1 331.7v4.6M149.2 331.7v4.6M153.9 331.7v4.6M146.0 331.7v4.6M136.2 331.7v4.6M183.3 331.7v4.6M163.7 331.7v4.6M135.4 331.7v4.6" stroke="#111" stroke-opacity="0.06" stroke-width="0.6" fill="none"/>
<rect x="105.20" y="216.70" width="214.80" height="119.60" fill="none" stroke="#1a1a1a" stroke-width="1.25"/>
<path d="M113.16 336.30V344.90M162.88 336.30V344.90M212.60 336.30V344.90M262.32 336.30V344.90M312.04 336.30V344.90M105.20 331.87H96.70M105.20 309.72H96.70M105.20 287.57H96.70M105.20 265.43H96.70M105.20 243.28H96.70M105.20 221.13H96.70" stroke="#1a1a1a" stroke-width="1.25" fill="none"/>
<text x="113.16" y="366.10" font-size="13.5" text-anchor="middle">0</text>
<text x="162.88" y="366.10" font-size="13.5" text-anchor="middle">5</text>
<text x="212.60" y="366.10" font-size="13.5" text-anchor="middle">10</text>
<text x="262.32" y="366.10" font-size="13.5" text-anchor="middle">15</text>
<text x="312.04" y="366.10" font-size="13.5" text-anchor="middle">20</text>
<text x="88.90" y="336.72" font-size="13.5" text-anchor="end">0</text>
<text x="88.90" y="314.57" font-size="13.5" text-anchor="end">20</text>
<text x="88.90" y="292.42" font-size="13.5" text-anchor="end">40</text>
<text x="88.90" y="270.28" font-size="13.5" text-anchor="end">60</text>
<text x="88.90" y="248.13" font-size="13.5" text-anchor="end">80</text>
<text x="88.90" y="225.98" font-size="13.5" text-anchor="end">100</text>
<text transform="translate(16.5 276.50) rotate(-90)" font-size="20.75" text-anchor="middle">Average</text>
<path d="M34.0 300.20V313.80" stroke="#111" stroke-width="1.3"/>
<text transform="translate(49.80 313.10) rotate(-90)" font-size="13.5">v</text>
<text transform="translate(42.80 306.60) rotate(-90)" font-size="9.5">2</text>
<text transform="translate(49.80 297.10) rotate(-90)" font-size="13.5">(km</text>
<text transform="translate(42.80 273.20) rotate(-90)" font-size="9.5">2</text>
<text transform="translate(49.80 264.00) rotate(-90)" font-size="13.5">s</text>
<text transform="translate(42.80 257.50) rotate(-90)" font-size="9.5">−2</text>
<text transform="translate(49.80 245.50) rotate(-90)" font-size="13.5">)</text>
<clipPath id="clip11"><rect x="393.90" y="216.70" width="214.60" height="119.60"/></clipPath>
<path d="M401.85 336.30V216.70M451.52 336.30V216.70M501.20 336.30V216.70M550.88 336.30V216.70M600.55 336.30V216.70" stroke="#c4c4c4" stroke-width="1.0" stroke-dasharray="1.3 3.87" stroke-dashoffset="1.2" fill="none"/>
<path d="M393.90 331.87H608.50M393.90 309.72H608.50M393.90 287.57H608.50M393.90 265.43H608.50M393.90 243.28H608.50M393.90 221.13H608.50" stroke="#c4c4c4" stroke-width="1.0" stroke-dasharray="1.3 3.87" stroke-dashoffset="0.8" fill="none"/>
<g clip-path="url(#clip11)">
<linearGradient id="gf1" gradientUnits="userSpaceOnUse" x1="452" y1="0" x2="468" y2="0"><stop offset="0" stop-color="#3b3b3b"/><stop offset="1" stop-color="#3b3b3b" stop-opacity="0"/></linearGradient>
<path d="M410.3 210.0L410.4 210.8L410.5 211.5L410.6 212.3L410.7 213.1L410.8 213.8L410.9 214.6L410.9 215.4L411.0 216.1L411.1 216.9L411.2 217.7L411.3 218.4L411.4 219.2L411.4 220.0L411.5 220.7L411.6 221.5L411.7 222.3L411.8 223.0L411.8 223.8L411.9 224.6L412.0 225.3L412.1 226.1L412.1 226.9L412.2 227.6L412.3 228.4L412.4 229.2L412.5 229.9L412.5 230.7L412.6 231.5L412.7 232.2L412.8 233.0L412.9 233.8L412.9 234.5L413.0 235.3L413.1 236.1L413.2 236.8L413.3 237.6L413.4 238.4L413.4 239.1L413.5 239.9L413.6 240.7L413.7 241.4L413.8 242.2L413.9 243.0L414.0 243.7L414.1 244.5L414.2 245.3L414.3 246.0L414.4 246.8L414.4 247.6L414.5 248.3L414.6 249.1L414.7 249.9L414.8 250.6L415.0 251.4L415.1 252.2L415.2 252.9L415.3 253.7L415.4 254.5L415.5 255.2L415.6 256.0L415.7 256.8L415.8 257.5L416.0 258.3L416.1 259.1L416.2 259.8L416.3 260.6L416.5 261.4L416.6 262.1L416.7 262.9L416.8 263.7L417.0 264.4L417.1 265.2L417.3 266.0L417.4 266.7L417.5 267.5L417.7 268.3L417.8 269.0L418.0 269.8L418.2 270.6L418.3 271.3L418.5 272.1L418.6 272.9L418.8 273.6L419.0 274.4L419.1 275.2L419.3 275.9L419.5 276.7L419.7 277.5L419.9 278.2L420.0 279.0L420.2 279.8L420.4 280.5L420.6 281.3L420.8 282.1L421.0 282.8L421.2 283.6L421.4 284.4L421.6 285.1L421.9 285.9L422.1 286.7L422.3 287.4L422.5 288.2L422.8 289.0L423.0 289.7L423.2 290.5L423.5 291.3L423.7 292.0L424.0 292.8L424.2 293.6L424.5 294.3L424.8 295.1L425.0 295.9L425.3 296.6L425.6 297.4L425.8 298.2L426.1 298.9L426.4 299.7L426.7 300.5L427.0 301.2L427.3 302.0L427.6 302.8L427.9 303.5L428.2 304.3L428.5 305.1L428.9 305.8L429.2 306.6L429.5 307.4L429.9 308.1L430.2 308.9L430.6 309.7L430.9 310.4L431.3 311.2L431.6 312.0L432.0 312.7L432.4 313.5L432.7 314.3L433.1 315.0L433.5 315.8L433.9 316.6L434.3 317.3L434.7 318.1L435.1 318.9L435.5 319.6L436.0 320.4L436.4 321.2L436.8 321.9L437.2 322.7L437.7 323.5L438.1 324.2L438.6 325.0L439.1 325.8L439.5 326.5L440.0 327.3L440.5 328.1L441.0 328.8L441.4 329.6L441.9 330.4L442.4 331.1L443.0 331.9L464.6 331.9L463.4 331.1L462.3 330.4L461.2 329.6L460.1 328.8L459.0 328.1L457.9 327.3L456.9 326.5L455.9 325.8L454.9 325.0L453.9 324.2L453.0 323.5L452.0 322.7L451.1 321.9L450.2 321.2L449.4 320.4L448.5 319.6L447.7 318.9L446.9 318.1L446.1 317.3L445.3 316.6L444.5 315.8L443.8 315.0L443.1 314.3L442.4 313.5L441.7 312.7L441.0 312.0L440.3 311.2L439.7 310.4L439.1 309.7L438.4 308.9L437.9 308.1L437.3 307.4L436.7 306.6L436.2 305.8L435.6 305.1L435.1 304.3L434.6 303.5L434.1 302.8L433.6 302.0L433.1 301.2L432.7 300.5L432.2 299.7L431.8 298.9L431.4 298.2L430.9 297.4L430.5 296.6L430.2 295.9L429.8 295.1L429.4 294.3L429.0 293.6L428.7 292.8L428.4 292.0L428.0 291.3L427.7 290.5L427.4 289.7L427.1 289.0L426.8 288.2L426.5 287.4L426.2 286.7L425.9 285.9L425.7 285.1L425.4 284.4L425.2 283.6L424.9 282.8L424.7 282.1L424.4 281.3L424.2 280.5L424.0 279.8L423.8 279.0L423.6 278.2L423.4 277.5L423.2 276.7L423.0 275.9L422.8 275.2L422.6 274.4L422.4 273.6L422.2 272.9L422.0 272.1L421.8 271.3L421.6 270.6L421.5 269.8L421.3 269.0L421.1 268.3L421.0 267.5L420.8 266.7L420.6 266.0L420.5 265.2L420.3 264.4L420.2 263.7L420.0 262.9L419.9 262.1L419.7 261.4L419.6 260.6L419.5 259.8L419.3 259.1L419.2 258.3L419.1 257.5L418.9 256.8L418.8 256.0L418.7 255.2L418.6 254.5L418.4 253.7L418.3 252.9L418.2 252.2L418.1 251.4L418.0 250.6L417.9 249.9L417.8 249.1L417.6 248.3L417.5 247.6L417.4 246.8L417.3 246.0L417.2 245.3L417.1 244.5L417.0 243.7L416.9 243.0L416.8 242.2L416.7 241.4L416.6 240.7L416.6 239.9L416.5 239.1L416.4 238.4L416.3 237.6L416.2 236.8L416.1 236.1L416.0 235.3L415.9 234.5L415.9 233.8L415.8 233.0L415.7 232.2L415.6 231.5L415.5 230.7L415.4 229.9L415.4 229.2L415.3 228.4L415.2 227.6L415.1 226.9L415.0 226.1L415.0 225.3L414.9 224.6L414.8 223.8L414.7 223.0L414.6 222.3L414.6 221.5L414.5 220.7L414.4 220.0L414.3 219.2L414.2 218.4L414.2 217.7L414.1 216.9L414.0 216.1L413.9 215.4L413.8 214.6L413.8 213.8L413.7 213.1L413.6 212.3L413.5 211.5L413.4 210.8L413.3 210.0Z" fill="none" stroke="url(#gf1)" stroke-opacity="0.22" stroke-width="2.2" stroke-linejoin="round"/>
<path d="M410.3 210.0L410.4 210.8L410.5 211.5L410.6 212.3L410.7 213.1L410.8 213.8L410.9 214.6L410.9 215.4L411.0 216.1L411.1 216.9L411.2 217.7L411.3 218.4L411.4 219.2L411.4 220.0L411.5 220.7L411.6 221.5L411.7 222.3L411.8 223.0L411.8 223.8L411.9 224.6L412.0 225.3L412.1 226.1L412.1 226.9L412.2 227.6L412.3 228.4L412.4 229.2L412.5 229.9L412.5 230.7L412.6 231.5L412.7 232.2L412.8 233.0L412.9 233.8L412.9 234.5L413.0 235.3L413.1 236.1L413.2 236.8L413.3 237.6L413.4 238.4L413.4 239.1L413.5 239.9L413.6 240.7L413.7 241.4L413.8 242.2L413.9 243.0L414.0 243.7L414.1 244.5L414.2 245.3L414.3 246.0L414.4 246.8L414.4 247.6L414.5 248.3L414.6 249.1L414.7 249.9L414.8 250.6L415.0 251.4L415.1 252.2L415.2 252.9L415.3 253.7L415.4 254.5L415.5 255.2L415.6 256.0L415.7 256.8L415.8 257.5L416.0 258.3L416.1 259.1L416.2 259.8L416.3 260.6L416.5 261.4L416.6 262.1L416.7 262.9L416.8 263.7L417.0 264.4L417.1 265.2L417.3 266.0L417.4 266.7L417.5 267.5L417.7 268.3L417.8 269.0L418.0 269.8L418.2 270.6L418.3 271.3L418.5 272.1L418.6 272.9L418.8 273.6L419.0 274.4L419.1 275.2L419.3 275.9L419.5 276.7L419.7 277.5L419.9 278.2L420.0 279.0L420.2 279.8L420.4 280.5L420.6 281.3L420.8 282.1L421.0 282.8L421.2 283.6L421.4 284.4L421.6 285.1L421.9 285.9L422.1 286.7L422.3 287.4L422.5 288.2L422.8 289.0L423.0 289.7L423.2 290.5L423.5 291.3L423.7 292.0L424.0 292.8L424.2 293.6L424.5 294.3L424.8 295.1L425.0 295.9L425.3 296.6L425.6 297.4L425.8 298.2L426.1 298.9L426.4 299.7L426.7 300.5L427.0 301.2L427.3 302.0L427.6 302.8L427.9 303.5L428.2 304.3L428.5 305.1L428.9 305.8L429.2 306.6L429.5 307.4L429.9 308.1L430.2 308.9L430.6 309.7L430.9 310.4L431.3 311.2L431.6 312.0L432.0 312.7L432.4 313.5L432.7 314.3L433.1 315.0L433.5 315.8L433.9 316.6L434.3 317.3L434.7 318.1L435.1 318.9L435.5 319.6L436.0 320.4L436.4 321.2L436.8 321.9L437.2 322.7L437.7 323.5L438.1 324.2L438.6 325.0L439.1 325.8L439.5 326.5L440.0 327.3L440.5 328.1L441.0 328.8L441.4 329.6L441.9 330.4L442.4 331.1L443.0 331.9L464.6 331.9L463.4 331.1L462.3 330.4L461.2 329.6L460.1 328.8L459.0 328.1L457.9 327.3L456.9 326.5L455.9 325.8L454.9 325.0L453.9 324.2L453.0 323.5L452.0 322.7L451.1 321.9L450.2 321.2L449.4 320.4L448.5 319.6L447.7 318.9L446.9 318.1L446.1 317.3L445.3 316.6L444.5 315.8L443.8 315.0L443.1 314.3L442.4 313.5L441.7 312.7L441.0 312.0L440.3 311.2L439.7 310.4L439.1 309.7L438.4 308.9L437.9 308.1L437.3 307.4L436.7 306.6L436.2 305.8L435.6 305.1L435.1 304.3L434.6 303.5L434.1 302.8L433.6 302.0L433.1 301.2L432.7 300.5L432.2 299.7L431.8 298.9L431.4 298.2L430.9 297.4L430.5 296.6L430.2 295.9L429.8 295.1L429.4 294.3L429.0 293.6L428.7 292.8L428.4 292.0L428.0 291.3L427.7 290.5L427.4 289.7L427.1 289.0L426.8 288.2L426.5 287.4L426.2 286.7L425.9 285.9L425.7 285.1L425.4 284.4L425.2 283.6L424.9 282.8L424.7 282.1L424.4 281.3L424.2 280.5L424.0 279.8L423.8 279.0L423.6 278.2L423.4 277.5L423.2 276.7L423.0 275.9L422.8 275.2L422.6 274.4L422.4 273.6L422.2 272.9L422.0 272.1L421.8 271.3L421.6 270.6L421.5 269.8L421.3 269.0L421.1 268.3L421.0 267.5L420.8 266.7L420.6 266.0L420.5 265.2L420.3 264.4L420.2 263.7L420.0 262.9L419.9 262.1L419.7 261.4L419.6 260.6L419.5 259.8L419.3 259.1L419.2 258.3L419.1 257.5L418.9 256.8L418.8 256.0L418.7 255.2L418.6 254.5L418.4 253.7L418.3 252.9L418.2 252.2L418.1 251.4L418.0 250.6L417.9 249.9L417.8 249.1L417.6 248.3L417.5 247.6L417.4 246.8L417.3 246.0L417.2 245.3L417.1 244.5L417.0 243.7L416.9 243.0L416.8 242.2L416.7 241.4L416.6 240.7L416.6 239.9L416.5 239.1L416.4 238.4L416.3 237.6L416.2 236.8L416.1 236.1L416.0 235.3L415.9 234.5L415.9 233.8L415.8 233.0L415.7 232.2L415.6 231.5L415.5 230.7L415.4 229.9L415.4 229.2L415.3 228.4L415.2 227.6L415.1 226.9L415.0 226.1L415.0 225.3L414.9 224.6L414.8 223.8L414.7 223.0L414.6 222.3L414.6 221.5L414.5 220.7L414.4 220.0L414.3 219.2L414.2 218.4L414.2 217.7L414.1 216.9L414.0 216.1L413.9 215.4L413.8 214.6L413.8 213.8L413.7 213.1L413.6 212.3L413.5 211.5L413.4 210.8L413.3 210.0Z" fill="url(#gf1)" stroke="url(#gf1)" stroke-width="0.4" stroke-linejoin="round"/>
<path d="M401.8 232.8L402.1 232.8L402.4 232.8L402.6 232.8L402.9 232.9L403.1 232.9L403.4 233.0L403.7 233.0L403.9 233.1L404.2 233.1L404.4 233.2L404.7 233.3L404.9 233.4L405.2 233.5L405.5 233.6L405.7 233.7L406.0 233.9L406.2 234.0L406.5 234.2L406.8 234.3L407.0 234.5L407.3 234.6L407.5 234.8L407.8 235.0L408.0 235.1L408.3 235.3L408.6 235.5L408.8 235.7L409.1 235.9L409.3 236.2L409.6 236.4L409.9 236.6L410.1 236.8L410.4 237.1L410.6 237.3L410.9 237.5L411.1 237.8L411.4 238.1L411.7 238.3L411.9 238.6L412.2 238.9L412.4 239.1L412.7 239.4L413.0 239.7L413.2 240.0L413.5 240.3L413.7 240.6L414.0 240.9L414.2 241.2L414.5 241.5L414.8 241.8L415.0 242.1L415.3 242.4L415.5 242.7L415.8 243.0L416.0 243.4L416.3 243.7L416.6 244.0L416.8 244.3L417.1 244.7L417.3 245.0L417.6 245.3L417.9 245.7L418.1 246.0L418.4 246.4L418.6 246.7L418.9 247.1L419.1 247.4L419.4 247.8L419.7 248.1L419.9 248.4L420.2 248.8L420.4 249.2L420.7 249.5L421.0 249.9L421.2 250.2L421.5 250.6L421.7 250.9L422.0 251.3L422.2 251.6L422.5 252.0L422.8 252.3L423.0 252.7L423.3 253.0L423.5 253.4L423.8 253.8L424.1 254.1L424.3 254.5L424.6 254.8L424.8 255.2L425.1 255.5L425.3 255.9L425.6 256.2L425.9 256.6L426.1 256.9L426.4 257.3L426.6 257.7L426.9 258.0L427.2 258.4L427.4 258.7L427.7 259.0L427.9 259.4L428.2 259.7L428.4 260.1L428.7 260.4L429.0 260.8L429.2 261.1L429.5 261.5L429.7 261.8L430.0 262.1L430.2 262.5L430.5 262.8L430.8 263.2L431.0 263.5L431.3 263.8L431.5 264.2L431.8 264.5L432.1 264.8L432.3 265.1L432.6 265.5L432.8 265.8L434.3 267.6L435.8 269.4L437.3 271.2L438.7 272.8L440.2 274.5L441.7 276.1L443.2 277.6L444.6 279.1L446.1 280.6L447.6 282.0L449.1 283.3L450.5 284.6L452.0 285.9L453.5 287.1L455.0 288.3L456.4 289.5L457.9 290.6L459.4 291.7L460.9 292.7L462.3 293.7L463.8 294.7L465.3 295.6L466.8 296.6L468.2 297.5L469.7 298.3L471.2 299.2L472.7 300.0L474.1 300.8L475.6 301.5L477.1 302.3L478.6 303.0L480.0 303.7L481.5 304.4L483.0 305.0L484.5 305.7L485.9 306.3L487.4 306.9L488.9 307.5L490.4 308.1L491.8 308.7L493.3 309.2L494.8 309.7L496.3 310.3L497.7 310.8L499.2 311.3L500.7 311.8L502.2 312.2L503.6 312.7L505.1 313.1L506.6 313.6L508.1 314.0L509.6 314.4L511.0 314.8L512.5 315.2L514.0 315.6L515.5 316.0L516.9 316.4L518.4 316.8L519.9 317.1L521.4 317.5L522.8 317.8L524.3 318.2L525.8 318.5L527.3 318.8L528.7 319.1L530.2 319.4L531.7 319.7L533.2 320.0L534.6 320.3L536.1 320.6L537.6 320.9L539.1 321.2L540.5 321.4L542.0 321.7L543.5 322.0L545.0 322.2L546.4 322.5L547.9 322.7L549.4 323.0L550.9 323.2L552.3 323.4L553.8 323.7L555.3 323.9L556.8 324.1L558.2 324.3L559.7 324.6L561.2 324.8L562.7 325.0L564.1 325.2L565.6 325.4L567.1 325.6L568.6 325.8L570.0 326.0L571.5 326.2L573.0 326.3L574.5 326.5L575.9 326.7L577.4 326.9L578.9 327.1L580.4 327.2L581.8 327.4L583.3 327.6L584.8 327.7L586.3 327.9L587.7 328.1L589.2 328.2L590.7 328.4L592.2 328.5L593.6 328.7L595.1 328.8L596.6 329.0L598.1 329.1L599.5 329.3L601.0 329.4L602.5 329.5L604.0 329.7L605.4 329.8L606.9 330.0L608.4 330.1" fill="none" stroke="#cc0000" stroke-width="2.9" stroke-linecap="round" stroke-linejoin="round"/>
</g>
<path d="M416.75 336.30V216.70" stroke="#b0d0e4" stroke-width="1.4" stroke-dasharray="4.7 5.45" stroke-dashoffset="9.25" fill="none"/>
<path d="M415.8 331.7v4.6M410.7 331.7v4.6M416.5 331.7v4.6M413.6 331.7v4.6M412.8 331.7v4.6M414.5 331.7v4.6M410.1 331.7v4.6M410.5 331.7v4.6M413.0 331.7v4.6M411.0 331.7v4.6M414.9 331.7v4.6M413.0 331.7v4.6M412.7 331.7v4.6M411.6 331.7v4.6M410.9 331.7v4.6M415.2 331.7v4.6M416.3 331.7v4.6M412.4 331.7v4.6M415.7 331.7v4.6M412.0 331.7v4.6M415.5 331.7v4.6M411.1 331.7v4.6M414.2 331.7v4.6M412.9 331.7v4.6M416.1 331.7v4.6M415.5 331.7v4.6M408.9 331.7v4.6M408.7 331.7v4.6M413.4 331.7v4.6M410.8 331.7v4.6M411.1 331.7v4.6M416.5 331.7v4.6M416.5 331.7v4.6M405.7 331.7v4.6M406.0 331.7v4.6M414.6 331.7v4.6M416.5 331.7v4.6M416.2 331.7v4.6M415.0 331.7v4.6M415.3 331.7v4.6M413.5 331.7v4.6M413.6 331.7v4.6M416.0 331.7v4.6M408.9 331.7v4.6M415.0 331.7v4.6M415.2 331.7v4.6M409.9 331.7v4.6M415.5 331.7v4.6M410.1 331.7v4.6M416.6 331.7v4.6M415.5 331.7v4.6M413.3 331.7v4.6M414.3 331.7v4.6M416.6 331.7v4.6M412.5 331.7v4.6M410.6 331.7v4.6M415.0 331.7v4.6M416.3 331.7v4.6M409.9 331.7v4.6M415.5 331.7v4.6M412.7 331.7v4.6M415.0 331.7v4.6M413.5 331.7v4.6M416.5 331.7v4.6M414.2 331.7v4.6M416.6 331.7v4.6M416.6 331.7v4.6M409.4 331.7v4.6M416.4 331.7v4.6M415.4 331.7v4.6M409.7 331.7v4.6M414.3 331.7v4.6M411.5 331.7v4.6M407.2 331.7v4.6M407.6 331.7v4.6M412.5 331.7v4.6M416.1 331.7v4.6M408.1 331.7v4.6M414.3 331.7v4.6M416.1 331.7v4.6M412.5 331.7v4.6M415.2 331.7v4.6M414.4 331.7v4.6M415.5 331.7v4.6M413.5 331.7v4.6M416.7 331.7v4.6M412.8 331.7v4.6M410.7 331.7v4.6M409.2 331.7v4.6M411.3 331.7v4.6M409.2 331.7v4.6M416.5 331.7v4.6M409.5 331.7v4.6M415.9 331.7v4.6M415.5 331.7v4.6M413.4 331.7v4.6M407.4 331.7v4.6M410.6 331.7v4.6M416.4 331.7v4.6M413.0 331.7v4.6M415.6 331.7v4.6M409.3 331.7v4.6M407.2 331.7v4.6M412.5 331.7v4.6M412.4 331.7v4.6M410.6 331.7v4.6M414.7 331.7v4.6M414.3 331.7v4.6M414.1 331.7v4.6M412.0 331.7v4.6M412.9 331.7v4.6M411.5 331.7v4.6M414.1 331.7v4.6M412.7 331.7v4.6M414.8 331.7v4.6M416.6 331.7v4.6M412.1 331.7v4.6M414.4 331.7v4.6M408.7 331.7v4.6M415.9 331.7v4.6M413.9 331.7v4.6M414.4 331.7v4.6M414.1 331.7v4.6M409.1 331.7v4.6M416.1 331.7v4.6M405.2 331.7v4.6M410.5 331.7v4.6M413.5 331.7v4.6M416.4 331.7v4.6M415.1 331.7v4.6M416.2 331.7v4.6M412.2 331.7v4.6M414.1 331.7v4.6M414.4 331.7v4.6M411.0 331.7v4.6M408.6 331.7v4.6M412.3 331.7v4.6M408.5 331.7v4.6M404.7 331.7v4.6M410.2 331.7v4.6M416.0 331.7v4.6M414.5 331.7v4.6M415.4 331.7v4.6M414.2 331.7v4.6M413.5 331.7v4.6M416.2 331.7v4.6M412.3 331.7v4.6M411.4 331.7v4.6M411.7 331.7v4.6M408.1 331.7v4.6M405.8 331.7v4.6M411.5 331.7v4.6M414.7 331.7v4.6M410.5 331.7v4.6M413.5 331.7v4.6M411.7 331.7v4.6M415.4 331.7v4.6M411.1 331.7v4.6M413.3 331.7v4.6M415.4 331.7v4.6M415.2 331.7v4.6M416.2 331.7v4.6M405.5 331.7v4.6M413.4 331.7v4.6M410.4 331.7v4.6M416.2 331.7v4.6M411.2 331.7v4.6M415.7 331.7v4.6M413.8 331.7v4.6M415.5 331.7v4.6M415.7 331.7v4.6M416.0 331.7v4.6M416.2 331.7v4.6M412.9 331.7v4.6M414.9 331.7v4.6M416.3 331.7v4.6M415.7 331.7v4.6M413.2 331.7v4.6M415.8 331.7v4.6M415.6 331.7v4.6M413.2 331.7v4.6M413.2 331.7v4.6M413.2 331.7v4.6M416.4 331.7v4.6M411.0 331.7v4.6M416.5 331.7v4.6M409.5 331.7v4.6M411.3 331.7v4.6M415.3 331.7v4.6M415.1 331.7v4.6M411.9 331.7v4.6M411.8 331.7v4.6M414.2 331.7v4.6M415.4 331.7v4.6M412.7 331.7v4.6M413.4 331.7v4.6M413.1 331.7v4.6M415.9 331.7v4.6M416.3 331.7v4.6M414.6 331.7v4.6M411.3 331.7v4.6M413.0 331.7v4.6M413.0 331.7v4.6M414.6 331.7v4.6M412.0 331.7v4.6M414.5 331.7v4.6M413.9 331.7v4.6M414.0 331.7v4.6M416.6 331.7v4.6M413.0 331.7v4.6M411.3 331.7v4.6M404.6 331.7v4.6M405.0 331.7v4.6M415.0 331.7v4.6M416.2 331.7v4.6M414.9 331.7v4.6M410.7 331.7v4.6M406.6 331.7v4.6M413.3 331.7v4.6M408.0 331.7v4.6M408.1 331.7v4.6M414.6 331.7v4.6M409.8 331.7v4.6M413.5 331.7v4.6M415.9 331.7v4.6M413.6 331.7v4.6M412.7 331.7v4.6M413.7 331.7v4.6M416.3 331.7v4.6M410.3 331.7v4.6M415.2 331.7v4.6M411.0 331.7v4.6M414.5 331.7v4.6M406.8 331.7v4.6M407.3 331.7v4.6M410.7 331.7v4.6M415.2 331.7v4.6M411.1 331.7v4.6M415.2 331.7v4.6M411.9 331.7v4.6M416.0 331.7v4.6M416.2 331.7v4.6M415.4 331.7v4.6M410.6 331.7v4.6M407.8 331.7v4.6M413.3 331.7v4.6M411.5 331.7v4.6M406.1 331.7v4.6M415.3 331.7v4.6M415.8 331.7v4.6M416.0 331.7v4.6M416.3 331.7v4.6M414.2 331.7v4.6M413.8 331.7v4.6M416.7 331.7v4.6M412.7 331.7v4.6M415.5 331.7v4.6M411.7 331.7v4.6M416.5 331.7v4.6M414.5 331.7v4.6M416.7 331.7v4.6M416.0 331.7v4.6M414.5 331.7v4.6M413.8 331.7v4.6M410.0 331.7v4.6M410.6 331.7v4.6M408.2 331.7v4.6M414.5 331.7v4.6M410.7 331.7v4.6M405.7 331.7v4.6M414.4 331.7v4.6M414.9 331.7v4.6M408.4 331.7v4.6M411.2 331.7v4.6M416.2 331.7v4.6M415.1 331.7v4.6M415.6 331.7v4.6M411.3 331.7v4.6M407.3 331.7v4.6M414.8 331.7v4.6M414.2 331.7v4.6M414.3 331.7v4.6M407.7 331.7v4.6M414.6 331.7v4.6M415.9 331.7v4.6M413.6 331.7v4.6M413.8 331.7v4.6M410.0 331.7v4.6M412.6 331.7v4.6M410.8 331.7v4.6M408.0 331.7v4.6M416.6 331.7v4.6M411.6 331.7v4.6M409.2 331.7v4.6M414.3 331.7v4.6M410.5 331.7v4.6M415.8 331.7v4.6M410.7 331.7v4.6M412.2 331.7v4.6M411.8 331.7v4.6" stroke="#111" stroke-opacity="0.3" stroke-width="0.6" fill="none"/>
<rect x="393.90" y="216.70" width="214.60" height="119.60" fill="none" stroke="#1a1a1a" stroke-width="1.25"/>
<path d="M401.85 336.30V344.90M451.52 336.30V344.90M501.20 336.30V344.90M550.88 336.30V344.90M600.55 336.30V344.90M393.90 331.87H385.40M393.90 309.72H385.40M393.90 287.57H385.40M393.90 265.43H385.40M393.90 243.28H385.40M393.90 221.13H385.40" stroke="#1a1a1a" stroke-width="1.25" fill="none"/>
<text x="401.85" y="366.10" font-size="13.5" text-anchor="middle">0</text>
<text x="451.52" y="366.10" font-size="13.5" text-anchor="middle">5</text>
<text x="501.20" y="366.10" font-size="13.5" text-anchor="middle">10</text>
<text x="550.88" y="366.10" font-size="13.5" text-anchor="middle">15</text>
<text x="600.55" y="366.10" font-size="13.5" text-anchor="middle">20</text>
<text x="377.60" y="336.72" font-size="13.5" text-anchor="end">0</text>
<text x="377.60" y="314.57" font-size="13.5" text-anchor="end">20</text>
<text x="377.60" y="292.42" font-size="13.5" text-anchor="end">40</text>
<text x="377.60" y="270.28" font-size="13.5" text-anchor="end">60</text>
<text x="377.60" y="248.13" font-size="13.5" text-anchor="end">80</text>
<text x="377.60" y="225.98" font-size="13.5" text-anchor="end">100</text>
<clipPath id="clip20"><rect x="105.20" y="398.10" width="214.80" height="119.60"/></clipPath>
<path d="M113.16 517.70V398.10M157.35 517.70V398.10M201.55 517.70V398.10M245.75 517.70V398.10M289.95 517.70V398.10" stroke="#c4c4c4" stroke-width="1.0" stroke-dasharray="1.3 3.87" stroke-dashoffset="1.2" fill="none"/>
<path d="M105.20 513.27H320.00M105.20 485.59H320.00M105.20 457.90H320.00M105.20 430.21H320.00M105.20 402.53H320.00" stroke="#c4c4c4" stroke-width="1.0" stroke-dasharray="1.3 3.87" stroke-dashoffset="0.8" fill="none"/>
<g clip-path="url(#clip20)">
<path d="M113.2 423.5L113.4 423.5L113.7 423.5L113.9 423.5L114.2 423.5L114.4 423.6L114.7 423.6L115.0 423.6L115.2 423.6L115.5 423.6L115.7 423.6L116.0 423.7L116.3 423.7L116.5 423.7L116.8 423.8L117.0 423.8L117.3 423.8L117.6 423.9L117.8 423.9L118.1 424.0L118.3 424.0L118.6 424.1L118.8 424.2L119.1 424.2L119.4 424.3L119.6 424.3L119.9 424.4L120.1 424.5L120.4 424.6L120.7 424.6L120.9 424.7L121.2 424.8L121.4 424.9L121.7 425.0L121.9 425.1L122.2 425.2L122.5 425.3L122.7 425.4L123.0 425.5L123.2 425.6L123.5 425.7L123.8 425.8L124.0 425.9L124.3 426.0L124.5 426.2L124.8 426.3L125.0 426.4L125.3 426.5L125.6 426.7L125.8 426.8L126.1 426.9L126.3 427.1L126.6 427.2L126.9 427.3L127.1 427.5L127.4 427.6L127.6 427.8L127.9 427.9L128.2 428.1L128.4 428.2L128.7 428.4L128.9 428.6L129.2 428.7L129.4 428.9L129.7 429.1L130.0 429.2L130.2 429.4L130.5 429.6L130.7 429.7L131.0 429.9L131.3 430.1L131.5 430.3L131.8 430.5L132.0 430.6L132.3 430.8L132.5 431.0L132.8 431.2L133.1 431.4L133.3 431.6L133.6 431.8L133.8 432.0L134.1 432.2L134.4 432.4L134.6 432.6L134.9 432.8L135.1 433.0L135.4 433.2L135.6 433.4L135.9 433.6L136.2 433.8L136.4 434.0L136.7 434.2L136.9 434.4L137.2 434.7L137.5 434.9L137.7 435.1L138.0 435.3L138.2 435.5L138.5 435.7L138.8 436.0L139.0 436.2L139.3 436.4L139.5 436.6L139.8 436.9L140.0 437.1L140.3 437.3L140.6 437.5L140.8 437.8L141.1 438.0L141.3 438.2L141.6 438.4L141.9 438.7L142.1 438.9L142.4 439.1L142.6 439.4L142.9 439.6L143.1 439.8L143.4 440.1L143.7 440.3L143.9 440.5L144.2 440.8L145.7 442.1L147.1 443.4L148.6 444.8L150.1 446.1L151.6 447.5L153.0 448.8L154.5 450.1L156.0 451.4L157.5 452.7L159.0 454.0L160.4 455.2L161.9 456.5L163.4 457.7L164.9 458.9L166.3 460.0L167.8 461.2L169.3 462.3L170.8 463.4L172.3 464.4L173.7 465.5L175.2 466.5L176.7 467.5L178.2 468.4L179.6 469.4L181.1 470.3L182.6 471.2L184.1 472.0L185.6 472.9L187.0 473.7L188.5 474.5L190.0 475.3L191.5 476.0L192.9 476.8L194.4 477.5L195.9 478.2L197.4 478.9L198.8 479.5L200.3 480.2L201.8 480.8L203.3 481.4L204.8 482.0L206.2 482.6L207.7 483.2L209.2 483.7L210.7 484.2L212.1 484.8L213.6 485.3L215.1 485.8L216.6 486.2L218.1 486.7L219.5 487.2L221.0 487.6L222.5 488.0L224.0 488.5L225.4 488.9L226.9 489.3L228.4 489.7L229.9 490.0L231.4 490.4L232.8 490.8L234.3 491.1L235.8 491.5L237.3 491.8L238.7 492.1L240.2 492.5L241.7 492.8L243.2 493.1L244.6 493.4L246.1 493.7L247.6 494.0L249.1 494.3L250.6 494.5L252.0 494.8L253.5 495.1L255.0 495.3L256.5 495.6L257.9 495.8L259.4 496.1L260.9 496.3L262.4 496.5L263.9 496.7L265.3 497.0L266.8 497.2L268.3 497.4L269.8 497.6L271.2 497.8L272.7 498.0L274.2 498.2L275.7 498.4L277.2 498.6L278.6 498.8L280.1 498.9L281.6 499.1L283.1 499.3L284.5 499.5L286.0 499.6L287.5 499.8L289.0 500.0L290.5 500.1L291.9 500.3L293.4 500.4L294.9 500.6L296.4 500.7L297.8 500.9L299.3 501.0L300.8 501.1L302.3 501.3L303.7 501.4L305.2 501.5L306.7 501.7L308.2 501.8L309.7 501.9L311.1 502.0L312.6 502.2L314.1 502.3L315.6 502.4L317.0 502.5L318.5 502.6L320.0 502.7L320.0 506.7L318.5 506.6L317.0 506.5L315.6 506.3L314.1 506.2L312.6 506.1L311.1 506.0L309.7 505.9L308.2 505.8L306.7 505.6L305.2 505.5L303.7 505.4L302.3 505.2L300.8 505.1L299.3 505.0L297.8 504.8L296.4 504.7L294.9 504.6L293.4 504.4L291.9 504.3L290.5 504.1L289.0 504.0L287.5 503.8L286.0 503.7L284.5 503.5L283.1 503.3L281.6 503.2L280.1 503.0L278.6 502.8L277.2 502.7L275.7 502.5L274.2 502.3L272.7 502.1L271.2 501.9L269.8 501.7L268.3 501.5L266.8 501.3L265.3 501.1L263.9 500.9L262.4 500.7L260.9 500.5L259.4 500.3L257.9 500.0L256.5 499.8L255.0 499.6L253.5 499.3L252.0 499.1L250.6 498.8L249.1 498.6L247.6 498.3L246.1 498.0L244.6 497.8L243.2 497.5L241.7 497.2L240.2 496.9L238.7 496.6L237.3 496.3L235.8 496.0L234.3 495.7L232.8 495.3L231.4 495.0L229.9 494.6L228.4 494.3L226.9 493.9L225.4 493.6L224.0 493.2L222.5 492.8L221.0 492.4L219.5 492.0L218.1 491.6L216.6 491.2L215.1 490.7L213.6 490.3L212.1 489.8L210.7 489.3L209.2 488.9L207.7 488.4L206.2 487.9L204.8 487.3L203.3 486.8L201.8 486.3L200.3 485.7L198.8 485.1L197.4 484.5L195.9 483.9L194.4 483.3L192.9 482.7L191.5 482.0L190.0 481.3L188.5 480.6L187.0 479.9L185.6 479.2L184.1 478.5L182.6 477.7L181.1 476.9L179.6 476.1L178.2 475.3L176.7 474.5L175.2 473.6L173.7 472.7L172.3 471.8L170.8 470.9L169.3 470.0L167.8 469.0L166.3 468.0L164.9 467.0L163.4 466.0L161.9 465.0L160.4 463.9L159.0 462.9L157.5 461.8L156.0 460.7L154.5 459.6L153.0 458.4L151.6 457.3L150.1 456.2L148.6 455.0L147.1 453.9L145.7 452.7L144.2 451.6L143.9 451.4L143.7 451.2L143.4 451.0L143.1 450.8L142.9 450.6L142.6 450.4L142.4 450.2L142.1 450.0L141.9 449.8L141.6 449.6L141.3 449.4L141.1 449.2L140.8 449.0L140.6 448.8L140.3 448.7L140.0 448.5L139.8 448.3L139.5 448.1L139.3 447.9L139.0 447.7L138.8 447.5L138.5 447.3L138.2 447.1L138.0 446.9L137.7 446.8L137.5 446.6L137.2 446.4L136.9 446.2L136.7 446.0L136.4 445.9L136.2 445.7L135.9 445.5L135.6 445.3L135.4 445.1L135.1 445.0L134.9 444.8L134.6 444.6L134.4 444.4L134.1 444.3L133.8 444.1L133.6 443.9L133.3 443.8L133.1 443.6L132.8 443.4L132.5 443.3L132.3 443.1L132.0 442.9L131.8 442.8L131.5 442.6L131.3 442.5L131.0 442.3L130.7 442.2L130.5 442.0L130.2 441.9L130.0 441.7L129.7 441.6L129.4 441.4L129.2 441.3L128.9 441.1L128.7 441.0L128.4 440.9L128.2 440.7L127.9 440.6L127.6 440.5L127.4 440.3L127.1 440.2L126.9 440.1L126.6 440.0L126.3 439.8L126.1 439.7L125.8 439.6L125.6 439.5L125.3 439.4L125.0 439.2L124.8 439.1L124.5 439.0L124.3 438.9L124.0 438.8L123.8 438.7L123.5 438.6L123.2 438.5L123.0 438.4L122.7 438.3L122.5 438.2L122.2 438.2L121.9 438.1L121.7 438.0L121.4 437.9L121.2 437.8L120.9 437.8L120.7 437.7L120.4 437.6L120.1 437.5L119.9 437.5L119.6 437.4L119.4 437.3L119.1 437.3L118.8 437.2L118.6 437.2L118.3 437.1L118.1 437.1L117.8 437.0L117.6 437.0L117.3 436.9L117.0 436.9L116.8 436.9L116.5 436.8L116.3 436.8L116.0 436.8L115.7 436.8L115.5 436.7L115.2 436.7L115.0 436.7L114.7 436.7L114.4 436.7L114.2 436.7L113.9 436.6L113.7 436.6L113.4 436.6L113.2 436.6Z" fill="none" stroke="#3b3b3b" stroke-opacity="0.22" stroke-width="2.2" stroke-linejoin="round"/>
<path d="M113.2 423.5L113.4 423.5L113.7 423.5L113.9 423.5L114.2 423.5L114.4 423.6L114.7 423.6L115.0 423.6L115.2 423.6L115.5 423.6L115.7 423.6L116.0 423.7L116.3 423.7L116.5 423.7L116.8 423.8L117.0 423.8L117.3 423.8L117.6 423.9L117.8 423.9L118.1 424.0L118.3 424.0L118.6 424.1L118.8 424.2L119.1 424.2L119.4 424.3L119.6 424.3L119.9 424.4L120.1 424.5L120.4 424.6L120.7 424.6L120.9 424.7L121.2 424.8L121.4 424.9L121.7 425.0L121.9 425.1L122.2 425.2L122.5 425.3L122.7 425.4L123.0 425.5L123.2 425.6L123.5 425.7L123.8 425.8L124.0 425.9L124.3 426.0L124.5 426.2L124.8 426.3L125.0 426.4L125.3 426.5L125.6 426.7L125.8 426.8L126.1 426.9L126.3 427.1L126.6 427.2L126.9 427.3L127.1 427.5L127.4 427.6L127.6 427.8L127.9 427.9L128.2 428.1L128.4 428.2L128.7 428.4L128.9 428.6L129.2 428.7L129.4 428.9L129.7 429.1L130.0 429.2L130.2 429.4L130.5 429.6L130.7 429.7L131.0 429.9L131.3 430.1L131.5 430.3L131.8 430.5L132.0 430.6L132.3 430.8L132.5 431.0L132.8 431.2L133.1 431.4L133.3 431.6L133.6 431.8L133.8 432.0L134.1 432.2L134.4 432.4L134.6 432.6L134.9 432.8L135.1 433.0L135.4 433.2L135.6 433.4L135.9 433.6L136.2 433.8L136.4 434.0L136.7 434.2L136.9 434.4L137.2 434.7L137.5 434.9L137.7 435.1L138.0 435.3L138.2 435.5L138.5 435.7L138.8 436.0L139.0 436.2L139.3 436.4L139.5 436.6L139.8 436.9L140.0 437.1L140.3 437.3L140.6 437.5L140.8 437.8L141.1 438.0L141.3 438.2L141.6 438.4L141.9 438.7L142.1 438.9L142.4 439.1L142.6 439.4L142.9 439.6L143.1 439.8L143.4 440.1L143.7 440.3L143.9 440.5L144.2 440.8L145.7 442.1L147.1 443.4L148.6 444.8L150.1 446.1L151.6 447.5L153.0 448.8L154.5 450.1L156.0 451.4L157.5 452.7L159.0 454.0L160.4 455.2L161.9 456.5L163.4 457.7L164.9 458.9L166.3 460.0L167.8 461.2L169.3 462.3L170.8 463.4L172.3 464.4L173.7 465.5L175.2 466.5L176.7 467.5L178.2 468.4L179.6 469.4L181.1 470.3L182.6 471.2L184.1 472.0L185.6 472.9L187.0 473.7L188.5 474.5L190.0 475.3L191.5 476.0L192.9 476.8L194.4 477.5L195.9 478.2L197.4 478.9L198.8 479.5L200.3 480.2L201.8 480.8L203.3 481.4L204.8 482.0L206.2 482.6L207.7 483.2L209.2 483.7L210.7 484.2L212.1 484.8L213.6 485.3L215.1 485.8L216.6 486.2L218.1 486.7L219.5 487.2L221.0 487.6L222.5 488.0L224.0 488.5L225.4 488.9L226.9 489.3L228.4 489.7L229.9 490.0L231.4 490.4L232.8 490.8L234.3 491.1L235.8 491.5L237.3 491.8L238.7 492.1L240.2 492.5L241.7 492.8L243.2 493.1L244.6 493.4L246.1 493.7L247.6 494.0L249.1 494.3L250.6 494.5L252.0 494.8L253.5 495.1L255.0 495.3L256.5 495.6L257.9 495.8L259.4 496.1L260.9 496.3L262.4 496.5L263.9 496.7L265.3 497.0L266.8 497.2L268.3 497.4L269.8 497.6L271.2 497.8L272.7 498.0L274.2 498.2L275.7 498.4L277.2 498.6L278.6 498.8L280.1 498.9L281.6 499.1L283.1 499.3L284.5 499.5L286.0 499.6L287.5 499.8L289.0 500.0L290.5 500.1L291.9 500.3L293.4 500.4L294.9 500.6L296.4 500.7L297.8 500.9L299.3 501.0L300.8 501.1L302.3 501.3L303.7 501.4L305.2 501.5L306.7 501.7L308.2 501.8L309.7 501.9L311.1 502.0L312.6 502.2L314.1 502.3L315.6 502.4L317.0 502.5L318.5 502.6L320.0 502.7L320.0 506.7L318.5 506.6L317.0 506.5L315.6 506.3L314.1 506.2L312.6 506.1L311.1 506.0L309.7 505.9L308.2 505.8L306.7 505.6L305.2 505.5L303.7 505.4L302.3 505.2L300.8 505.1L299.3 505.0L297.8 504.8L296.4 504.7L294.9 504.6L293.4 504.4L291.9 504.3L290.5 504.1L289.0 504.0L287.5 503.8L286.0 503.7L284.5 503.5L283.1 503.3L281.6 503.2L280.1 503.0L278.6 502.8L277.2 502.7L275.7 502.5L274.2 502.3L272.7 502.1L271.2 501.9L269.8 501.7L268.3 501.5L266.8 501.3L265.3 501.1L263.9 500.9L262.4 500.7L260.9 500.5L259.4 500.3L257.9 500.0L256.5 499.8L255.0 499.6L253.5 499.3L252.0 499.1L250.6 498.8L249.1 498.6L247.6 498.3L246.1 498.0L244.6 497.8L243.2 497.5L241.7 497.2L240.2 496.9L238.7 496.6L237.3 496.3L235.8 496.0L234.3 495.7L232.8 495.3L231.4 495.0L229.9 494.6L228.4 494.3L226.9 493.9L225.4 493.6L224.0 493.2L222.5 492.8L221.0 492.4L219.5 492.0L218.1 491.6L216.6 491.2L215.1 490.7L213.6 490.3L212.1 489.8L210.7 489.3L209.2 488.9L207.7 488.4L206.2 487.9L204.8 487.3L203.3 486.8L201.8 486.3L200.3 485.7L198.8 485.1L197.4 484.5L195.9 483.9L194.4 483.3L192.9 482.7L191.5 482.0L190.0 481.3L188.5 480.6L187.0 479.9L185.6 479.2L184.1 478.5L182.6 477.7L181.1 476.9L179.6 476.1L178.2 475.3L176.7 474.5L175.2 473.6L173.7 472.7L172.3 471.8L170.8 470.9L169.3 470.0L167.8 469.0L166.3 468.0L164.9 467.0L163.4 466.0L161.9 465.0L160.4 463.9L159.0 462.9L157.5 461.8L156.0 460.7L154.5 459.6L153.0 458.4L151.6 457.3L150.1 456.2L148.6 455.0L147.1 453.9L145.7 452.7L144.2 451.6L143.9 451.4L143.7 451.2L143.4 451.0L143.1 450.8L142.9 450.6L142.6 450.4L142.4 450.2L142.1 450.0L141.9 449.8L141.6 449.6L141.3 449.4L141.1 449.2L140.8 449.0L140.6 448.8L140.3 448.7L140.0 448.5L139.8 448.3L139.5 448.1L139.3 447.9L139.0 447.7L138.8 447.5L138.5 447.3L138.2 447.1L138.0 446.9L137.7 446.8L137.5 446.6L137.2 446.4L136.9 446.2L136.7 446.0L136.4 445.9L136.2 445.7L135.9 445.5L135.6 445.3L135.4 445.1L135.1 445.0L134.9 444.8L134.6 444.6L134.4 444.4L134.1 444.3L133.8 444.1L133.6 443.9L133.3 443.8L133.1 443.6L132.8 443.4L132.5 443.3L132.3 443.1L132.0 442.9L131.8 442.8L131.5 442.6L131.3 442.5L131.0 442.3L130.7 442.2L130.5 442.0L130.2 441.9L130.0 441.7L129.7 441.6L129.4 441.4L129.2 441.3L128.9 441.1L128.7 441.0L128.4 440.9L128.2 440.7L127.9 440.6L127.6 440.5L127.4 440.3L127.1 440.2L126.9 440.1L126.6 440.0L126.3 439.8L126.1 439.7L125.8 439.6L125.6 439.5L125.3 439.4L125.0 439.2L124.8 439.1L124.5 439.0L124.3 438.9L124.0 438.8L123.8 438.7L123.5 438.6L123.2 438.5L123.0 438.4L122.7 438.3L122.5 438.2L122.2 438.2L121.9 438.1L121.7 438.0L121.4 437.9L121.2 437.8L120.9 437.8L120.7 437.7L120.4 437.6L120.1 437.5L119.9 437.5L119.6 437.4L119.4 437.3L119.1 437.3L118.8 437.2L118.6 437.2L118.3 437.1L118.1 437.1L117.8 437.0L117.6 437.0L117.3 436.9L117.0 436.9L116.8 436.9L116.5 436.8L116.3 436.8L116.0 436.8L115.7 436.8L115.5 436.7L115.2 436.7L115.0 436.7L114.7 436.7L114.4 436.7L114.2 436.7L113.9 436.6L113.7 436.6L113.4 436.6L113.2 436.6Z" fill="#3b3b3b" stroke="#3b3b3b" stroke-width="0.4" stroke-linejoin="round"/>
<path d="M113.2 431.0L113.4 431.0L113.7 431.0L113.9 431.0L114.2 431.1L114.4 431.1L114.7 431.1L115.0 431.1L115.2 431.1L115.5 431.1L115.7 431.1L116.0 431.2L116.2 431.2L116.5 431.2L116.8 431.2L117.0 431.3L117.3 431.3L117.5 431.3L117.8 431.4L118.0 431.4L118.3 431.5L118.6 431.5L118.8 431.6L119.1 431.6L119.3 431.7L119.6 431.7L119.9 431.8L120.1 431.8L120.4 431.9L120.6 432.0L120.9 432.0L121.1 432.1L121.4 432.2L121.7 432.3L121.9 432.4L122.2 432.4L122.4 432.5L122.7 432.6L122.9 432.7L123.2 432.8L123.5 432.9L123.7 433.0L124.0 433.1L124.2 433.2L124.5 433.3L124.7 433.4L125.0 433.5L125.3 433.7L125.5 433.8L125.8 433.9L126.0 434.0L126.3 434.1L126.5 434.3L126.8 434.4L127.1 434.5L127.3 434.7L127.6 434.8L127.8 434.9L128.1 435.1L128.4 435.2L128.6 435.4L128.9 435.5L129.1 435.7L129.4 435.8L129.6 436.0L129.9 436.1L130.2 436.3L130.4 436.5L130.7 436.6L130.9 436.8L131.2 436.9L131.4 437.1L131.7 437.3L132.0 437.5L132.2 437.6L132.5 437.8L132.7 438.0L133.0 438.2L133.2 438.3L133.5 438.5L133.8 438.7L134.0 438.9L134.3 439.1L134.5 439.3L134.8 439.5L135.0 439.6L135.3 439.8L135.6 440.0L135.8 440.2L136.1 440.4L136.3 440.6L136.6 440.8L136.9 441.0L137.1 441.2L137.4 441.4L137.6 441.6L137.9 441.8L138.1 442.0L138.4 442.2L138.7 442.4L138.9 442.6L139.2 442.8L139.4 443.0L139.7 443.3L139.9 443.5L140.2 443.7L140.5 443.9L140.7 444.1L141.0 444.3L141.2 444.5L141.5 444.7L141.7 445.0L142.0 445.2L142.3 445.4L142.5 445.6L142.8 445.8L143.0 446.0L143.3 446.2L143.5 446.5L143.8 446.7L144.1 446.9L145.5 448.1L147.0 449.4L148.5 450.6L149.9 451.9L151.4 453.1L152.9 454.3L154.4 455.6L155.8 456.8L157.3 457.9L158.8 459.1L160.3 460.3L161.7 461.4L163.2 462.5L164.7 463.6L166.1 464.6L167.6 465.7L169.1 466.7L170.6 467.7L172.0 468.6L173.5 469.6L175.0 470.5L176.4 471.4L177.9 472.3L179.4 473.1L180.9 474.0L182.3 474.8L183.8 475.6L185.3 476.3L186.7 477.1L188.2 477.8L189.7 478.6L191.2 479.3L192.6 479.9L194.1 480.6L195.6 481.2L197.0 481.9L198.5 482.5L200.0 483.1L201.5 483.7L202.9 484.3L204.4 484.8L205.9 485.4L207.3 485.9L208.8 486.4L210.3 486.9L211.8 487.4L213.2 487.9L214.7 488.4L216.2 488.8L217.6 489.3L219.1 489.7L220.6 490.1L222.1 490.6L223.5 491.0L225.0 491.4L226.5 491.8L228.0 492.2L229.4 492.5L230.9 492.9L232.4 493.3L233.8 493.6L235.3 494.0L236.8 494.3L238.3 494.6L239.7 495.0L241.2 495.3L242.7 495.6L244.1 495.9L245.6 496.2L247.1 496.5L248.6 496.8L250.0 497.1L251.5 497.3L253.0 497.6L254.4 497.9L255.9 498.1L257.4 498.4L258.9 498.6L260.3 498.9L261.8 499.1L263.3 499.4L264.7 499.6L266.2 499.8L267.7 500.1L269.2 500.3L270.6 500.5L272.1 500.7L273.6 500.9L275.0 501.1L276.5 501.3L278.0 501.5L279.5 501.7L280.9 501.9L282.4 502.1L283.9 502.3L285.3 502.5L286.8 502.7L288.3 502.9L289.8 503.0L291.2 503.2L292.7 503.4L294.2 503.5L295.7 503.7L297.1 503.9L298.6 504.0L300.1 504.2L301.5 504.4L303.0 504.5L304.5 504.7L306.0 504.8L307.4 505.0L308.9 505.1L310.4 505.2L311.8 505.4L313.3 505.5L314.8 505.7L316.3 505.8L317.7 505.9L319.2 506.1" fill="none" stroke="#cc0000" stroke-width="2.9" stroke-linecap="round" stroke-linejoin="round"/>
</g>
<path d="M119.79 517.70V398.10" stroke="#b0d0e4" stroke-width="1.4" stroke-dasharray="4.7 5.45" stroke-dashoffset="9.25" fill="none"/>
<path d="M152.3 513.1v4.6M129.2 513.1v4.6M257.3 513.1v4.6M165.2 513.1v4.6M159.9 513.1v4.6M246.7 513.1v4.6M124.1 513.1v4.6M190.6 513.1v4.6M131.1 513.1v4.6M132.8 513.1v4.6M137.2 513.1v4.6M180.3 513.1v4.6M247.4 513.1v4.6M174.9 513.1v4.6M136.9 513.1v4.6M126.0 513.1v4.6M135.0 513.1v4.6M130.8 513.1v4.6M151.2 513.1v4.6M151.8 513.1v4.6M125.3 513.1v4.6M130.3 513.1v4.6M214.7 513.1v4.6M174.1 513.1v4.6M124.3 513.1v4.6M210.6 513.1v4.6M146.6 513.1v4.6M141.6 513.1v4.6M193.4 513.1v4.6M172.3 513.1v4.6M145.6 513.1v4.6M141.6 513.1v4.6M155.1 513.1v4.6M200.7 513.1v4.6M175.2 513.1v4.6M123.9 513.1v4.6M121.1 513.1v4.6M139.7 513.1v4.6M135.1 513.1v4.6M187.6 513.1v4.6M161.9 513.1v4.6M126.5 513.1v4.6M144.4 513.1v4.6M158.5 513.1v4.6M149.2 513.1v4.6M133.2 513.1v4.6M172.4 513.1v4.6M134.6 513.1v4.6M141.2 513.1v4.6M151.2 513.1v4.6M193.0 513.1v4.6M139.3 513.1v4.6M223.9 513.1v4.6M156.0 513.1v4.6M154.9 513.1v4.6M132.0 513.1v4.6M137.8 513.1v4.6M153.5 513.1v4.6M196.7 513.1v4.6M127.3 513.1v4.6M204.2 513.1v4.6M235.4 513.1v4.6M123.6 513.1v4.6M166.3 513.1v4.6M131.9 513.1v4.6M124.5 513.1v4.6M288.7 513.1v4.6M132.6 513.1v4.6M143.9 513.1v4.6M174.6 513.1v4.6M162.0 513.1v4.6M224.0 513.1v4.6M286.7 513.1v4.6M148.1 513.1v4.6M124.9 513.1v4.6M201.3 513.1v4.6M127.1 513.1v4.6M140.1 513.1v4.6M131.1 513.1v4.6M198.9 513.1v4.6M130.2 513.1v4.6M195.1 513.1v4.6M155.8 513.1v4.6M162.2 513.1v4.6M181.4 513.1v4.6M138.9 513.1v4.6M128.8 513.1v4.6M180.7 513.1v4.6M164.7 513.1v4.6M144.1 513.1v4.6M129.0 513.1v4.6M127.7 513.1v4.6M146.5 513.1v4.6M170.7 513.1v4.6M135.9 513.1v4.6M120.5 513.1v4.6M147.6 513.1v4.6M131.7 513.1v4.6M181.7 513.1v4.6M174.5 513.1v4.6M151.2 513.1v4.6M123.6 513.1v4.6M170.9 513.1v4.6M148.0 513.1v4.6M184.6 513.1v4.6M190.8 513.1v4.6M126.7 513.1v4.6M135.3 513.1v4.6M156.6 513.1v4.6M124.7 513.1v4.6M128.0 513.1v4.6M176.9 513.1v4.6M122.2 513.1v4.6M132.5 513.1v4.6M126.3 513.1v4.6M225.1 513.1v4.6M175.7 513.1v4.6M183.4 513.1v4.6M196.8 513.1v4.6M131.1 513.1v4.6M196.4 513.1v4.6M139.7 513.1v4.6M141.9 513.1v4.6M123.6 513.1v4.6M134.6 513.1v4.6M141.3 513.1v4.6M195.6 513.1v4.6M150.5 513.1v4.6M134.3 513.1v4.6M161.7 513.1v4.6M135.9 513.1v4.6M195.4 513.1v4.6M138.0 513.1v4.6M130.7 513.1v4.6M141.9 513.1v4.6M159.1 513.1v4.6M166.4 513.1v4.6M134.2 513.1v4.6M155.1 513.1v4.6M167.4 513.1v4.6M131.0 513.1v4.6M136.5 513.1v4.6M145.1 513.1v4.6M191.1 513.1v4.6M126.3 513.1v4.6M133.8 513.1v4.6M224.2 513.1v4.6M153.3 513.1v4.6M120.0 513.1v4.6M155.1 513.1v4.6M286.2 513.1v4.6M152.2 513.1v4.6M189.8 513.1v4.6M197.7 513.1v4.6M126.6 513.1v4.6M216.0 513.1v4.6M121.5 513.1v4.6M123.8 513.1v4.6M171.9 513.1v4.6M142.6 513.1v4.6M184.0 513.1v4.6M144.8 513.1v4.6M156.6 513.1v4.6M155.0 513.1v4.6M177.6 513.1v4.6M208.3 513.1v4.6M288.8 513.1v4.6M142.5 513.1v4.6M313.8 513.1v4.6M121.8 513.1v4.6M177.5 513.1v4.6M160.7 513.1v4.6M122.3 513.1v4.6M134.7 513.1v4.6M176.6 513.1v4.6M121.5 513.1v4.6M144.2 513.1v4.6M170.6 513.1v4.6M130.9 513.1v4.6M155.4 513.1v4.6M121.8 513.1v4.6M125.9 513.1v4.6M123.3 513.1v4.6M151.4 513.1v4.6M142.4 513.1v4.6M188.6 513.1v4.6M175.6 513.1v4.6M182.1 513.1v4.6M120.3 513.1v4.6M149.4 513.1v4.6M154.2 513.1v4.6M163.0 513.1v4.6M191.7 513.1v4.6M127.9 513.1v4.6M315.0 513.1v4.6M140.3 513.1v4.6M151.9 513.1v4.6M122.1 513.1v4.6M180.7 513.1v4.6M126.5 513.1v4.6M188.2 513.1v4.6M136.7 513.1v4.6M183.5 513.1v4.6M150.8 513.1v4.6M173.1 513.1v4.6M227.4 513.1v4.6M180.9 513.1v4.6M186.4 513.1v4.6M131.0 513.1v4.6M185.0 513.1v4.6M168.6 513.1v4.6M128.3 513.1v4.6M149.2 513.1v4.6M148.8 513.1v4.6M145.8 513.1v4.6M170.5 513.1v4.6M124.4 513.1v4.6M211.5 513.1v4.6M243.4 513.1v4.6M122.6 513.1v4.6M122.3 513.1v4.6M149.3 513.1v4.6M142.2 513.1v4.6M145.2 513.1v4.6M146.2 513.1v4.6M134.2 513.1v4.6M145.7 513.1v4.6M140.7 513.1v4.6M138.8 513.1v4.6M189.8 513.1v4.6M157.8 513.1v4.6M266.2 513.1v4.6M211.7 513.1v4.6M206.3 513.1v4.6M135.4 513.1v4.6M175.1 513.1v4.6M149.8 513.1v4.6M125.5 513.1v4.6M131.2 513.1v4.6M121.6 513.1v4.6M143.7 513.1v4.6M162.5 513.1v4.6M123.6 513.1v4.6M165.8 513.1v4.6M133.3 513.1v4.6M125.3 513.1v4.6M122.7 513.1v4.6M165.4 513.1v4.6M132.4 513.1v4.6M149.6 513.1v4.6M141.7 513.1v4.6M172.7 513.1v4.6M174.5 513.1v4.6M199.5 513.1v4.6M177.6 513.1v4.6M147.4 513.1v4.6M149.3 513.1v4.6M136.4 513.1v4.6M123.8 513.1v4.6M132.1 513.1v4.6M155.6 513.1v4.6M138.0 513.1v4.6M234.2 513.1v4.6M216.0 513.1v4.6M138.3 513.1v4.6M183.4 513.1v4.6M165.0 513.1v4.6M136.1 513.1v4.6M159.3 513.1v4.6M120.7 513.1v4.6M136.3 513.1v4.6M156.3 513.1v4.6M163.3 513.1v4.6M174.9 513.1v4.6M224.5 513.1v4.6M243.5 513.1v4.6M197.0 513.1v4.6M160.9 513.1v4.6M146.9 513.1v4.6M140.9 513.1v4.6M139.6 513.1v4.6M126.1 513.1v4.6M136.2 513.1v4.6M155.0 513.1v4.6M138.7 513.1v4.6M129.9 513.1v4.6M171.5 513.1v4.6M138.4 513.1v4.6M159.6 513.1v4.6M124.8 513.1v4.6M162.1 513.1v4.6M144.2 513.1v4.6M277.1 513.1v4.6M124.7 513.1v4.6M134.6 513.1v4.6M181.9 513.1v4.6M147.3 513.1v4.6M163.6 513.1v4.6M293.8 513.1v4.6M156.2 513.1v4.6M125.0 513.1v4.6M128.8 513.1v4.6M181.6 513.1v4.6M122.6 513.1v4.6M184.9 513.1v4.6M131.1 513.1v4.6M127.3 513.1v4.6M222.6 513.1v4.6M155.9 513.1v4.6M129.8 513.1v4.6M195.0 513.1v4.6M180.7 513.1v4.6M235.9 513.1v4.6M235.7 513.1v4.6M147.3 513.1v4.6M208.7 513.1v4.6M120.9 513.1v4.6M161.3 513.1v4.6M136.1 513.1v4.6M143.3 513.1v4.6M250.2 513.1v4.6M156.6 513.1v4.6M145.9 513.1v4.6M155.1 513.1v4.6M123.3 513.1v4.6M136.0 513.1v4.6M124.7 513.1v4.6M158.0 513.1v4.6M191.1 513.1v4.6M121.6 513.1v4.6M155.5 513.1v4.6M153.3 513.1v4.6M273.1 513.1v4.6M133.5 513.1v4.6M200.2 513.1v4.6M144.2 513.1v4.6M200.9 513.1v4.6M244.1 513.1v4.6M141.2 513.1v4.6M147.4 513.1v4.6M127.7 513.1v4.6M184.9 513.1v4.6M228.9 513.1v4.6M137.4 513.1v4.6M171.6 513.1v4.6M153.4 513.1v4.6M160.7 513.1v4.6M218.3 513.1v4.6M130.6 513.1v4.6M155.5 513.1v4.6M182.1 513.1v4.6M142.6 513.1v4.6M223.3 513.1v4.6M265.0 513.1v4.6M133.2 513.1v4.6M246.4 513.1v4.6M193.0 513.1v4.6M124.8 513.1v4.6M122.7 513.1v4.6M121.0 513.1v4.6M172.7 513.1v4.6M170.3 513.1v4.6M120.0 513.1v4.6M171.8 513.1v4.6M123.8 513.1v4.6M235.8 513.1v4.6M131.2 513.1v4.6M161.0 513.1v4.6M152.3 513.1v4.6M177.7 513.1v4.6M171.4 513.1v4.6M120.8 513.1v4.6M180.5 513.1v4.6M136.6 513.1v4.6M147.4 513.1v4.6M141.9 513.1v4.6M120.2 513.1v4.6M123.4 513.1v4.6M137.0 513.1v4.6M125.4 513.1v4.6M135.3 513.1v4.6M182.0 513.1v4.6M125.2 513.1v4.6M146.3 513.1v4.6M140.6 513.1v4.6M121.9 513.1v4.6M186.0 513.1v4.6M136.7 513.1v4.6M255.3 513.1v4.6M136.7 513.1v4.6M179.0 513.1v4.6M161.0 513.1v4.6M192.2 513.1v4.6M175.5 513.1v4.6M121.2 513.1v4.6M197.1 513.1v4.6M191.4 513.1v4.6M259.7 513.1v4.6M225.6 513.1v4.6M173.6 513.1v4.6M276.2 513.1v4.6M124.7 513.1v4.6M154.9 513.1v4.6M144.6 513.1v4.6M119.9 513.1v4.6M124.0 513.1v4.6M157.2 513.1v4.6M136.7 513.1v4.6M123.1 513.1v4.6M121.4 513.1v4.6M153.7 513.1v4.6M142.1 513.1v4.6M177.2 513.1v4.6M252.0 513.1v4.6M155.8 513.1v4.6M205.0 513.1v4.6M127.8 513.1v4.6M254.2 513.1v4.6M138.7 513.1v4.6M186.8 513.1v4.6M128.2 513.1v4.6M126.5 513.1v4.6M134.6 513.1v4.6M187.5 513.1v4.6M186.6 513.1v4.6M242.2 513.1v4.6M128.3 513.1v4.6M167.6 513.1v4.6M150.6 513.1v4.6M199.0 513.1v4.6M141.8 513.1v4.6M132.4 513.1v4.6M120.8 513.1v4.6M130.7 513.1v4.6M159.7 513.1v4.6M217.7 513.1v4.6M153.2 513.1v4.6M158.8 513.1v4.6M173.3 513.1v4.6M123.6 513.1v4.6M130.4 513.1v4.6M174.7 513.1v4.6M183.2 513.1v4.6M132.2 513.1v4.6M143.9 513.1v4.6M165.6 513.1v4.6M127.5 513.1v4.6M124.2 513.1v4.6M169.5 513.1v4.6M137.8 513.1v4.6M208.8 513.1v4.6M141.8 513.1v4.6M167.9 513.1v4.6M122.6 513.1v4.6M120.4 513.1v4.6M211.9 513.1v4.6M144.0 513.1v4.6M120.0 513.1v4.6M298.8 513.1v4.6M125.2 513.1v4.6M121.7 513.1v4.6M149.6 513.1v4.6M150.9 513.1v4.6M123.9 513.1v4.6M207.9 513.1v4.6M135.7 513.1v4.6M139.2 513.1v4.6M154.8 513.1v4.6M195.8 513.1v4.6M120.6 513.1v4.6M135.9 513.1v4.6M241.0 513.1v4.6M179.5 513.1v4.6M134.1 513.1v4.6M126.7 513.1v4.6M145.9 513.1v4.6M123.9 513.1v4.6M122.8 513.1v4.6M133.8 513.1v4.6M152.9 513.1v4.6M170.4 513.1v4.6M133.6 513.1v4.6M216.6 513.1v4.6M155.3 513.1v4.6M136.9 513.1v4.6M241.9 513.1v4.6M130.8 513.1v4.6M139.9 513.1v4.6M128.0 513.1v4.6M124.0 513.1v4.6M127.9 513.1v4.6M181.8 513.1v4.6M138.3 513.1v4.6M129.9 513.1v4.6" stroke="#111" stroke-opacity="0.06" stroke-width="0.6" fill="none"/>
<rect x="105.20" y="398.10" width="214.80" height="119.60" fill="none" stroke="#1a1a1a" stroke-width="1.25"/>
<path d="M113.16 517.70V526.30M157.35 517.70V526.30M201.55 517.70V526.30M245.75 517.70V526.30M289.95 517.70V526.30M105.20 513.27H96.70M105.20 485.59H96.70M105.20 457.90H96.70M105.20 430.21H96.70M105.20 402.53H96.70" stroke="#1a1a1a" stroke-width="1.25" fill="none"/>
<text x="113.16" y="547.50" font-size="13.5" text-anchor="middle">0</text>
<text x="157.35" y="547.50" font-size="13.5" text-anchor="middle">10</text>
<text x="201.55" y="547.50" font-size="13.5" text-anchor="middle">20</text>
<text x="245.75" y="547.50" font-size="13.5" text-anchor="middle">30</text>
<text x="289.95" y="547.50" font-size="13.5" text-anchor="middle">40</text>
<text x="88.90" y="518.12" font-size="13.5" text-anchor="end">0</text>
<text x="88.90" y="490.44" font-size="13.5" text-anchor="end">10</text>
<text x="88.90" y="462.75" font-size="13.5" text-anchor="end">20</text>
<text x="88.90" y="435.06" font-size="13.5" text-anchor="end">30</text>
<text x="88.90" y="407.38" font-size="13.5" text-anchor="end">40</text>
<text transform="translate(16.5 457.90) rotate(-90)" font-size="20.75" text-anchor="middle">Extended</text>
<path d="M34.0 481.60V495.20" stroke="#111" stroke-width="1.3"/>
<text transform="translate(49.80 494.50) rotate(-90)" font-size="13.5">v</text>
<text transform="translate(42.80 488.00) rotate(-90)" font-size="9.5">2</text>
<text transform="translate(49.80 478.50) rotate(-90)" font-size="13.5">(km</text>
<text transform="translate(42.80 454.60) rotate(-90)" font-size="9.5">2</text>
<text transform="translate(49.80 445.40) rotate(-90)" font-size="13.5">s</text>
<text transform="translate(42.80 438.90) rotate(-90)" font-size="9.5">−2</text>
<text transform="translate(49.80 426.90) rotate(-90)" font-size="13.5">)</text>
<clipPath id="clip21"><rect x="393.90" y="398.10" width="214.60" height="119.60"/></clipPath>
<path d="M401.85 517.70V398.10M446.00 517.70V398.10M490.16 517.70V398.10M534.32 517.70V398.10M578.47 517.70V398.10" stroke="#c4c4c4" stroke-width="1.0" stroke-dasharray="1.3 3.87" stroke-dashoffset="1.2" fill="none"/>
<path d="M393.90 513.27H608.50M393.90 485.59H608.50M393.90 457.90H608.50M393.90 430.21H608.50M393.90 402.53H608.50" stroke="#c4c4c4" stroke-width="1.0" stroke-dasharray="1.3 3.87" stroke-dashoffset="0.8" fill="none"/>
<g clip-path="url(#clip21)">
<linearGradient id="gf2" gradientUnits="userSpaceOnUse" x1="434" y1="0" x2="448" y2="0"><stop offset="0" stop-color="#3b3b3b"/><stop offset="1" stop-color="#3b3b3b" stop-opacity="0"/></linearGradient>
<path d="M404.9 390.0L405.0 390.8L405.1 391.5L405.1 392.3L405.2 393.1L405.3 393.9L405.4 394.6L405.5 395.4L405.5 396.2L405.6 397.0L405.7 397.7L405.8 398.5L405.8 399.3L405.9 400.1L406.0 400.8L406.0 401.6L406.1 402.4L406.2 403.2L406.2 403.9L406.3 404.7L406.3 405.5L406.4 406.3L406.4 407.0L406.5 407.8L406.5 408.6L406.6 409.4L406.7 410.1L406.7 410.9L406.7 411.7L406.8 412.5L406.8 413.2L406.9 414.0L406.9 414.8L407.0 415.5L407.0 416.3L407.1 417.1L407.1 417.9L407.1 418.6L407.2 419.4L407.2 420.2L407.3 421.0L407.3 421.7L407.3 422.5L407.4 423.3L407.4 424.1L407.5 424.8L407.5 425.6L407.6 426.4L407.6 427.2L407.6 427.9L407.7 428.7L407.7 429.5L407.8 430.3L407.8 431.0L407.8 431.8L407.9 432.6L407.9 433.4L408.0 434.1L408.0 434.9L408.1 435.7L408.1 436.5L408.2 437.2L408.2 438.0L408.3 438.8L408.3 439.5L408.4 440.3L408.4 441.1L408.5 441.9L408.5 442.6L408.6 443.4L408.7 444.2L408.7 445.0L408.8 445.7L408.9 446.5L408.9 447.3L409.0 448.1L409.1 448.8L409.1 449.6L409.2 450.4L409.3 451.2L409.4 451.9L409.4 452.7L409.5 453.5L409.6 454.3L409.7 455.0L409.8 455.8L409.9 456.6L410.0 457.4L410.1 458.1L410.2 458.9L410.3 459.7L410.4 460.5L410.5 461.2L410.6 462.0L410.7 462.8L410.8 463.6L410.9 464.3L411.1 465.1L411.2 465.9L411.3 466.6L411.4 467.4L411.6 468.2L411.7 469.0L411.8 469.7L412.0 470.5L412.1 471.3L412.3 472.1L412.4 472.8L412.6 473.6L412.8 474.4L412.9 475.2L413.1 475.9L413.3 476.7L413.4 477.5L413.6 478.3L413.8 479.0L414.0 479.8L414.2 480.6L414.4 481.4L414.6 482.1L414.8 482.9L415.0 483.7L415.2 484.5L415.5 485.2L415.7 486.0L415.9 486.8L416.1 487.6L416.4 488.3L416.6 489.1L416.9 489.9L417.1 490.6L417.4 491.4L417.6 492.2L417.9 493.0L418.2 493.7L418.5 494.5L418.7 495.3L419.0 496.1L419.3 496.8L419.6 497.6L419.9 498.4L420.2 499.2L420.6 499.9L420.9 500.7L421.2 501.5L421.5 502.3L421.9 503.0L422.2 503.8L422.6 504.6L422.9 505.4L423.3 506.1L423.7 506.9L424.0 507.7L424.4 508.5L424.8 509.2L425.2 510.0L425.6 510.8L426.0 511.6L426.4 512.3L426.8 513.1L445.1 513.1L443.7 512.3L442.3 511.6L441.0 510.8L439.8 510.0L438.5 509.2L437.4 508.5L436.2 507.7L435.2 506.9L434.1 506.1L433.1 505.4L432.2 504.6L431.2 503.8L430.4 503.0L429.5 502.3L428.7 501.5L428.0 500.7L427.2 499.9L426.5 499.2L425.9 498.4L425.2 497.6L424.6 496.8L424.1 496.1L423.5 495.3L423.0 494.5L422.5 493.7L422.0 493.0L421.6 492.2L421.2 491.4L420.8 490.6L420.4 489.9L420.0 489.1L419.7 488.3L419.3 487.6L419.0 486.8L418.7 486.0L418.5 485.2L418.2 484.5L417.9 483.7L417.7 482.9L417.4 482.1L417.2 481.4L417.0 480.6L416.8 479.8L416.5 479.0L416.3 478.3L416.1 477.5L415.9 476.7L415.7 475.9L415.5 475.2L415.4 474.4L415.2 473.6L415.0 472.8L414.8 472.1L414.7 471.3L414.5 470.5L414.3 469.7L414.2 469.0L414.0 468.2L413.9 467.4L413.7 466.6L413.6 465.9L413.4 465.1L413.3 464.3L413.2 463.6L413.0 462.8L412.9 462.0L412.8 461.2L412.7 460.5L412.5 459.7L412.4 458.9L412.3 458.1L412.2 457.4L412.1 456.6L412.0 455.8L411.9 455.0L411.8 454.3L411.7 453.5L411.6 452.7L411.5 451.9L411.5 451.2L411.4 450.4L411.3 449.6L411.2 448.8L411.1 448.1L411.1 447.3L411.0 446.5L410.9 445.7L410.8 445.0L410.8 444.2L410.7 443.4L410.7 442.6L410.6 441.9L410.5 441.1L410.5 440.3L410.4 439.5L410.4 438.8L410.3 438.0L410.3 437.2L410.2 436.5L410.2 435.7L410.1 434.9L410.1 434.1L410.0 433.4L410.0 432.6L409.9 431.8L409.9 431.0L409.9 430.3L409.8 429.5L409.8 428.7L409.7 427.9L409.7 427.2L409.7 426.4L409.6 425.6L409.6 424.8L409.5 424.1L409.5 423.3L409.5 422.5L409.4 421.7L409.4 421.0L409.4 420.2L409.3 419.4L409.3 418.6L409.3 417.9L409.2 417.1L409.2 416.3L409.1 415.5L409.1 414.8L409.1 414.0L409.0 413.2L409.0 412.5L409.0 411.7L408.9 410.9L408.9 410.1L408.8 409.4L408.8 408.6L408.7 407.8L408.7 407.0L408.7 406.3L408.6 405.5L408.6 404.7L408.5 403.9L408.5 403.2L408.4 402.4L408.4 401.6L408.3 400.8L408.3 400.1L408.2 399.3L408.1 398.5L408.1 397.7L408.0 397.0L407.9 396.2L407.9 395.4L407.8 394.6L407.7 393.9L407.7 393.1L407.6 392.3L407.5 391.5L407.4 390.8L407.4 390.0Z" fill="none" stroke="url(#gf2)" stroke-opacity="0.22" stroke-width="2.2" stroke-linejoin="round"/>
<path d="M404.9 390.0L405.0 390.8L405.1 391.5L405.1 392.3L405.2 393.1L405.3 393.9L405.4 394.6L405.5 395.4L405.5 396.2L405.6 397.0L405.7 397.7L405.8 398.5L405.8 399.3L405.9 400.1L406.0 400.8L406.0 401.6L406.1 402.4L406.2 403.2L406.2 403.9L406.3 404.7L406.3 405.5L406.4 406.3L406.4 407.0L406.5 407.8L406.5 408.6L406.6 409.4L406.7 410.1L406.7 410.9L406.7 411.7L406.8 412.5L406.8 413.2L406.9 414.0L406.9 414.8L407.0 415.5L407.0 416.3L407.1 417.1L407.1 417.9L407.1 418.6L407.2 419.4L407.2 420.2L407.3 421.0L407.3 421.7L407.3 422.5L407.4 423.3L407.4 424.1L407.5 424.8L407.5 425.6L407.6 426.4L407.6 427.2L407.6 427.9L407.7 428.7L407.7 429.5L407.8 430.3L407.8 431.0L407.8 431.8L407.9 432.6L407.9 433.4L408.0 434.1L408.0 434.9L408.1 435.7L408.1 436.5L408.2 437.2L408.2 438.0L408.3 438.8L408.3 439.5L408.4 440.3L408.4 441.1L408.5 441.9L408.5 442.6L408.6 443.4L408.7 444.2L408.7 445.0L408.8 445.7L408.9 446.5L408.9 447.3L409.0 448.1L409.1 448.8L409.1 449.6L409.2 450.4L409.3 451.2L409.4 451.9L409.4 452.7L409.5 453.5L409.6 454.3L409.7 455.0L409.8 455.8L409.9 456.6L410.0 457.4L410.1 458.1L410.2 458.9L410.3 459.7L410.4 460.5L410.5 461.2L410.6 462.0L410.7 462.8L410.8 463.6L410.9 464.3L411.1 465.1L411.2 465.9L411.3 466.6L411.4 467.4L411.6 468.2L411.7 469.0L411.8 469.7L412.0 470.5L412.1 471.3L412.3 472.1L412.4 472.8L412.6 473.6L412.8 474.4L412.9 475.2L413.1 475.9L413.3 476.7L413.4 477.5L413.6 478.3L413.8 479.0L414.0 479.8L414.2 480.6L414.4 481.4L414.6 482.1L414.8 482.9L415.0 483.7L415.2 484.5L415.5 485.2L415.7 486.0L415.9 486.8L416.1 487.6L416.4 488.3L416.6 489.1L416.9 489.9L417.1 490.6L417.4 491.4L417.6 492.2L417.9 493.0L418.2 493.7L418.5 494.5L418.7 495.3L419.0 496.1L419.3 496.8L419.6 497.6L419.9 498.4L420.2 499.2L420.6 499.9L420.9 500.7L421.2 501.5L421.5 502.3L421.9 503.0L422.2 503.8L422.6 504.6L422.9 505.4L423.3 506.1L423.7 506.9L424.0 507.7L424.4 508.5L424.8 509.2L425.2 510.0L425.6 510.8L426.0 511.6L426.4 512.3L426.8 513.1L445.1 513.1L443.7 512.3L442.3 511.6L441.0 510.8L439.8 510.0L438.5 509.2L437.4 508.5L436.2 507.7L435.2 506.9L434.1 506.1L433.1 505.4L432.2 504.6L431.2 503.8L430.4 503.0L429.5 502.3L428.7 501.5L428.0 500.7L427.2 499.9L426.5 499.2L425.9 498.4L425.2 497.6L424.6 496.8L424.1 496.1L423.5 495.3L423.0 494.5L422.5 493.7L422.0 493.0L421.6 492.2L421.2 491.4L420.8 490.6L420.4 489.9L420.0 489.1L419.7 488.3L419.3 487.6L419.0 486.8L418.7 486.0L418.5 485.2L418.2 484.5L417.9 483.7L417.7 482.9L417.4 482.1L417.2 481.4L417.0 480.6L416.8 479.8L416.5 479.0L416.3 478.3L416.1 477.5L415.9 476.7L415.7 475.9L415.5 475.2L415.4 474.4L415.2 473.6L415.0 472.8L414.8 472.1L414.7 471.3L414.5 470.5L414.3 469.7L414.2 469.0L414.0 468.2L413.9 467.4L413.7 466.6L413.6 465.9L413.4 465.1L413.3 464.3L413.2 463.6L413.0 462.8L412.9 462.0L412.8 461.2L412.7 460.5L412.5 459.7L412.4 458.9L412.3 458.1L412.2 457.4L412.1 456.6L412.0 455.8L411.9 455.0L411.8 454.3L411.7 453.5L411.6 452.7L411.5 451.9L411.5 451.2L411.4 450.4L411.3 449.6L411.2 448.8L411.1 448.1L411.1 447.3L411.0 446.5L410.9 445.7L410.8 445.0L410.8 444.2L410.7 443.4L410.7 442.6L410.6 441.9L410.5 441.1L410.5 440.3L410.4 439.5L410.4 438.8L410.3 438.0L410.3 437.2L410.2 436.5L410.2 435.7L410.1 434.9L410.1 434.1L410.0 433.4L410.0 432.6L409.9 431.8L409.9 431.0L409.9 430.3L409.8 429.5L409.8 428.7L409.7 427.9L409.7 427.2L409.7 426.4L409.6 425.6L409.6 424.8L409.5 424.1L409.5 423.3L409.5 422.5L409.4 421.7L409.4 421.0L409.4 420.2L409.3 419.4L409.3 418.6L409.3 417.9L409.2 417.1L409.2 416.3L409.1 415.5L409.1 414.8L409.1 414.0L409.0 413.2L409.0 412.5L409.0 411.7L408.9 410.9L408.9 410.1L408.8 409.4L408.8 408.6L408.7 407.8L408.7 407.0L408.7 406.3L408.6 405.5L408.6 404.7L408.5 403.9L408.5 403.2L408.4 402.4L408.4 401.6L408.3 400.8L408.3 400.1L408.2 399.3L408.1 398.5L408.1 397.7L408.0 397.0L407.9 396.2L407.9 395.4L407.8 394.6L407.7 393.9L407.7 393.1L407.6 392.3L407.5 391.5L407.4 390.8L407.4 390.0Z" fill="url(#gf2)" stroke="url(#gf2)" stroke-width="0.4" stroke-linejoin="round"/>
<path d="M401.8 431.0L402.1 431.0L402.4 431.0L402.6 431.0L402.9 431.0L403.1 431.0L403.4 431.0L403.7 431.0L403.9 431.0L404.2 431.1L404.4 431.1L404.7 431.1L404.9 431.1L405.2 431.1L405.5 431.1L405.7 431.2L406.0 431.2L406.2 431.2L406.5 431.2L406.7 431.3L407.0 431.3L407.3 431.3L407.5 431.4L407.8 431.4L408.0 431.5L408.3 431.5L408.5 431.6L408.8 431.6L409.1 431.7L409.3 431.7L409.6 431.8L409.8 431.9L410.1 431.9L410.3 432.0L410.6 432.1L410.9 432.2L411.1 432.2L411.4 432.3L411.6 432.4L411.9 432.5L412.2 432.6L412.4 432.7L412.7 432.8L412.9 432.9L413.2 433.0L413.4 433.1L413.7 433.2L414.0 433.3L414.2 433.5L414.5 433.6L414.7 433.7L415.0 433.8L415.2 434.0L415.5 434.1L415.8 434.2L416.0 434.4L416.3 434.5L416.5 434.7L416.8 434.8L417.0 435.0L417.3 435.1L417.6 435.3L417.8 435.4L418.1 435.6L418.3 435.8L418.6 435.9L418.8 436.1L419.1 436.3L419.4 436.5L419.6 436.6L419.9 436.8L420.1 437.0L420.4 437.2L420.7 437.4L420.9 437.6L421.2 437.7L421.4 437.9L421.7 438.1L421.9 438.3L422.2 438.5L422.5 438.7L422.7 438.9L423.0 439.1L423.2 439.3L423.5 439.6L423.7 439.8L424.0 440.0L424.3 440.2L424.5 440.4L424.8 440.6L425.0 440.8L425.3 441.1L425.5 441.3L425.8 441.5L426.1 441.7L426.3 441.9L426.6 442.2L426.8 442.4L427.1 442.6L427.3 442.8L427.6 443.1L427.9 443.3L428.1 443.5L428.4 443.8L428.6 444.0L428.9 444.2L429.2 444.4L429.4 444.7L429.7 444.9L429.9 445.1L430.2 445.4L430.4 445.6L430.7 445.8L431.0 446.1L431.2 446.3L431.5 446.5L431.7 446.8L432.0 447.0L432.2 447.3L432.5 447.5L432.8 447.7L434.2 449.1L435.7 450.4L437.2 451.7L438.6 453.0L440.1 454.3L441.6 455.6L443.1 456.9L444.5 458.1L446.0 459.3L447.5 460.5L448.9 461.6L450.4 462.7L451.9 463.8L453.4 464.9L454.8 465.9L456.3 466.9L457.8 467.9L459.2 468.9L460.7 469.8L462.2 470.7L463.7 471.6L465.1 472.4L466.6 473.3L468.1 474.1L469.6 474.9L471.0 475.6L472.5 476.4L474.0 477.1L475.4 477.8L476.9 478.5L478.4 479.2L479.9 479.8L481.3 480.5L482.8 481.1L484.3 481.7L485.7 482.3L487.2 482.9L488.7 483.4L490.2 484.0L491.6 484.5L493.1 485.0L494.6 485.6L496.0 486.1L497.5 486.6L499.0 487.0L500.5 487.5L501.9 488.0L503.4 488.4L504.9 488.8L506.3 489.3L507.8 489.7L509.3 490.1L510.8 490.5L512.2 490.9L513.7 491.3L515.2 491.7L516.6 492.0L518.1 492.4L519.6 492.8L521.1 493.1L522.5 493.5L524.0 493.8L525.5 494.1L527.0 494.5L528.4 494.8L529.9 495.1L531.4 495.4L532.8 495.7L534.3 496.0L535.8 496.3L537.3 496.6L538.7 496.9L540.2 497.1L541.7 497.4L543.1 497.7L544.6 497.9L546.1 498.2L547.6 498.5L549.0 498.7L550.5 499.0L552.0 499.2L553.4 499.4L554.9 499.7L556.4 499.9L557.9 500.1L559.3 500.4L560.8 500.6L562.3 500.8L563.7 501.0L565.2 501.2L566.7 501.4L568.2 501.7L569.6 501.9L571.1 502.1L572.6 502.3L574.0 502.5L575.5 502.6L577.0 502.8L578.5 503.0L579.9 503.2L581.4 503.4L582.9 503.6L584.4 503.7L585.8 503.9L587.3 504.1L588.8 504.3L590.2 504.4L591.7 504.6L593.2 504.8L594.7 504.9L596.1 505.1L597.6 505.2L599.1 505.4L600.5 505.6L602.0 505.7L603.5 505.9L605.0 506.0L606.4 506.2L607.9 506.3" fill="none" stroke="#cc0000" stroke-width="2.9" stroke-linecap="round" stroke-linejoin="round"/>
</g>
<path d="M408.47 517.70V398.10" stroke="#b0d0e4" stroke-width="1.4" stroke-dasharray="4.7 5.45" stroke-dashoffset="9.25" fill="none"/>
<path d="M404.8 513.1v4.6M407.4 513.1v4.6M406.7 513.1v4.6M408.3 513.1v4.6M407.5 513.1v4.6M407.2 513.1v4.6M408.3 513.1v4.6M406.2 513.1v4.6M408.1 513.1v4.6M406.8 513.1v4.6M407.7 513.1v4.6M408.4 513.1v4.6M408.0 513.1v4.6M407.4 513.1v4.6M408.0 513.1v4.6M403.8 513.1v4.6M406.8 513.1v4.6M408.1 513.1v4.6M407.9 513.1v4.6M406.9 513.1v4.6M405.9 513.1v4.6M406.5 513.1v4.6M406.8 513.1v4.6M405.1 513.1v4.6M408.3 513.1v4.6M407.6 513.1v4.6M407.2 513.1v4.6M405.6 513.1v4.6M406.4 513.1v4.6M406.8 513.1v4.6M405.3 513.1v4.6M406.4 513.1v4.6M406.6 513.1v4.6M407.8 513.1v4.6M408.3 513.1v4.6M403.2 513.1v4.6M405.3 513.1v4.6M408.1 513.1v4.6M403.3 513.1v4.6M406.1 513.1v4.6M407.3 513.1v4.6M407.2 513.1v4.6M405.8 513.1v4.6M407.9 513.1v4.6M407.8 513.1v4.6M403.0 513.1v4.6M407.8 513.1v4.6M406.6 513.1v4.6M407.1 513.1v4.6M407.4 513.1v4.6M407.6 513.1v4.6M408.0 513.1v4.6M405.6 513.1v4.6M405.7 513.1v4.6M405.8 513.1v4.6M405.6 513.1v4.6M408.0 513.1v4.6M408.1 513.1v4.6M406.6 513.1v4.6M407.7 513.1v4.6M408.0 513.1v4.6M408.2 513.1v4.6M407.9 513.1v4.6M407.4 513.1v4.6M408.0 513.1v4.6M406.4 513.1v4.6M407.4 513.1v4.6M406.1 513.1v4.6M406.7 513.1v4.6M406.6 513.1v4.6M407.1 513.1v4.6M402.6 513.1v4.6M406.9 513.1v4.6M407.1 513.1v4.6M408.3 513.1v4.6M407.8 513.1v4.6M405.4 513.1v4.6M406.7 513.1v4.6M407.9 513.1v4.6M404.7 513.1v4.6M408.2 513.1v4.6M404.2 513.1v4.6M407.7 513.1v4.6M407.3 513.1v4.6M408.4 513.1v4.6M406.6 513.1v4.6M406.3 513.1v4.6M405.6 513.1v4.6M406.2 513.1v4.6M406.4 513.1v4.6M407.4 513.1v4.6M406.2 513.1v4.6M405.6 513.1v4.6M408.2 513.1v4.6M404.6 513.1v4.6M408.4 513.1v4.6M406.1 513.1v4.6M407.9 513.1v4.6M407.8 513.1v4.6M408.4 513.1v4.6M407.9 513.1v4.6M403.2 513.1v4.6M407.9 513.1v4.6M408.4 513.1v4.6M408.0 513.1v4.6M407.2 513.1v4.6M404.2 513.1v4.6M403.7 513.1v4.6M406.0 513.1v4.6M407.8 513.1v4.6M405.4 513.1v4.6M407.3 513.1v4.6M407.9 513.1v4.6M407.3 513.1v4.6M407.8 513.1v4.6M408.0 513.1v4.6M407.8 513.1v4.6M403.1 513.1v4.6M407.6 513.1v4.6M407.4 513.1v4.6M408.0 513.1v4.6M406.1 513.1v4.6M405.3 513.1v4.6M404.3 513.1v4.6M406.9 513.1v4.6M405.5 513.1v4.6M407.9 513.1v4.6M407.4 513.1v4.6M406.6 513.1v4.6M406.5 513.1v4.6M404.8 513.1v4.6M405.2 513.1v4.6M408.2 513.1v4.6M405.5 513.1v4.6M407.2 513.1v4.6M407.3 513.1v4.6M407.9 513.1v4.6M405.5 513.1v4.6M406.7 513.1v4.6M405.2 513.1v4.6M405.1 513.1v4.6M406.6 513.1v4.6M407.2 513.1v4.6M406.4 513.1v4.6M406.7 513.1v4.6M407.3 513.1v4.6M403.9 513.1v4.6M408.1 513.1v4.6M403.6 513.1v4.6M406.7 513.1v4.6M407.8 513.1v4.6M403.2 513.1v4.6M405.4 513.1v4.6M403.7 513.1v4.6M405.3 513.1v4.6M407.4 513.1v4.6M407.9 513.1v4.6M408.4 513.1v4.6M407.2 513.1v4.6M408.2 513.1v4.6M406.8 513.1v4.6M407.2 513.1v4.6M408.4 513.1v4.6M403.8 513.1v4.6M408.3 513.1v4.6M406.3 513.1v4.6M406.9 513.1v4.6M408.3 513.1v4.6M406.9 513.1v4.6M408.3 513.1v4.6M407.6 513.1v4.6M405.3 513.1v4.6M408.4 513.1v4.6M403.9 513.1v4.6M407.7 513.1v4.6M406.4 513.1v4.6M408.4 513.1v4.6M406.0 513.1v4.6M405.6 513.1v4.6M406.0 513.1v4.6M407.8 513.1v4.6M406.7 513.1v4.6M407.5 513.1v4.6M408.3 513.1v4.6M407.8 513.1v4.6M408.1 513.1v4.6M406.1 513.1v4.6M404.8 513.1v4.6M407.1 513.1v4.6M405.6 513.1v4.6M407.9 513.1v4.6M407.3 513.1v4.6M407.4 513.1v4.6M405.8 513.1v4.6M406.7 513.1v4.6M408.1 513.1v4.6M407.5 513.1v4.6M406.4 513.1v4.6M407.3 513.1v4.6M407.2 513.1v4.6M408.1 513.1v4.6M407.6 513.1v4.6M405.0 513.1v4.6M404.8 513.1v4.6M405.8 513.1v4.6M408.1 513.1v4.6M406.6 513.1v4.6M402.8 513.1v4.6M407.6 513.1v4.6M406.9 513.1v4.6M405.9 513.1v4.6M404.6 513.1v4.6M407.7 513.1v4.6M407.2 513.1v4.6M408.3 513.1v4.6M405.8 513.1v4.6M406.6 513.1v4.6M408.1 513.1v4.6M407.8 513.1v4.6M405.9 513.1v4.6M406.0 513.1v4.6M407.8 513.1v4.6M406.8 513.1v4.6M401.9 513.1v4.6M407.0 513.1v4.6M408.3 513.1v4.6M407.1 513.1v4.6M406.7 513.1v4.6M406.6 513.1v4.6M404.7 513.1v4.6M408.2 513.1v4.6M405.3 513.1v4.6M406.8 513.1v4.6M407.0 513.1v4.6M406.1 513.1v4.6M404.2 513.1v4.6M404.3 513.1v4.6M408.2 513.1v4.6M408.3 513.1v4.6M407.3 513.1v4.6M408.4 513.1v4.6M408.2 513.1v4.6M407.7 513.1v4.6M405.7 513.1v4.6M405.9 513.1v4.6M404.0 513.1v4.6M407.8 513.1v4.6M403.6 513.1v4.6M408.3 513.1v4.6M407.6 513.1v4.6M408.1 513.1v4.6M407.0 513.1v4.6M408.1 513.1v4.6M406.9 513.1v4.6M406.4 513.1v4.6M408.2 513.1v4.6M403.9 513.1v4.6M408.0 513.1v4.6M407.3 513.1v4.6M408.2 513.1v4.6M408.2 513.1v4.6M404.7 513.1v4.6M406.7 513.1v4.6M407.0 513.1v4.6M407.4 513.1v4.6M404.8 513.1v4.6M408.2 513.1v4.6M404.5 513.1v4.6M403.9 513.1v4.6M408.3 513.1v4.6M407.2 513.1v4.6M408.2 513.1v4.6M406.5 513.1v4.6M408.4 513.1v4.6M408.3 513.1v4.6M405.2 513.1v4.6M406.4 513.1v4.6M404.6 513.1v4.6M407.3 513.1v4.6M404.8 513.1v4.6M407.9 513.1v4.6M406.0 513.1v4.6M408.2 513.1v4.6M406.8 513.1v4.6M406.1 513.1v4.6M405.8 513.1v4.6M408.2 513.1v4.6M406.9 513.1v4.6M407.8 513.1v4.6M406.8 513.1v4.6M407.9 513.1v4.6M405.4 513.1v4.6M407.8 513.1v4.6M405.1 513.1v4.6M408.5 513.1v4.6M404.9 513.1v4.6M407.6 513.1v4.6M404.4 513.1v4.6M404.1 513.1v4.6M408.1 513.1v4.6" stroke="#111" stroke-opacity="0.3" stroke-width="0.6" fill="none"/>
<rect x="393.90" y="398.10" width="214.60" height="119.60" fill="none" stroke="#1a1a1a" stroke-width="1.25"/>
<path d="M401.85 517.70V526.30M446.00 517.70V526.30M490.16 517.70V526.30M534.32 517.70V526.30M578.47 517.70V526.30M393.90 513.27H385.40M393.90 485.59H385.40M393.90 457.90H385.40M393.90 430.21H385.40M393.90 402.53H385.40" stroke="#1a1a1a" stroke-width="1.25" fill="none"/>
<text x="401.85" y="547.50" font-size="13.5" text-anchor="middle">0</text>
<text x="446.00" y="547.50" font-size="13.5" text-anchor="middle">10</text>
<text x="490.16" y="547.50" font-size="13.5" text-anchor="middle">20</text>
<text x="534.32" y="547.50" font-size="13.5" text-anchor="middle">30</text>
<text x="578.47" y="547.50" font-size="13.5" text-anchor="middle">40</text>
<text x="377.60" y="518.12" font-size="13.5" text-anchor="end">0</text>
<text x="377.60" y="490.44" font-size="13.5" text-anchor="end">10</text>
<text x="377.60" y="462.75" font-size="13.5" text-anchor="end">20</text>
<text x="377.60" y="435.06" font-size="13.5" text-anchor="end">30</text>
<text x="377.60" y="407.38" font-size="13.5" text-anchor="end">40</text>
<clipPath id="clip30"><rect x="105.20" y="579.40" width="214.80" height="119.60"/></clipPath>
<path d="M113.16 699.00V579.40M162.88 699.00V579.40M212.60 699.00V579.40M262.32 699.00V579.40M312.04 699.00V579.40" stroke="#c4c4c4" stroke-width="1.0" stroke-dasharray="1.3 3.87" stroke-dashoffset="1.2" fill="none"/>
<path d="M105.20 694.57H320.00M105.20 657.66H320.00M105.20 620.74H320.00M105.20 583.83H320.00" stroke="#c4c4c4" stroke-width="1.0" stroke-dasharray="1.3 3.87" stroke-dashoffset="0.8" fill="none"/>
<g clip-path="url(#clip30)">
<path d="M113.2 635.7L113.4 635.7L113.7 635.8L113.9 635.8L114.2 635.8L114.4 635.8L114.7 635.9L115.0 635.9L115.2 636.0L115.5 636.0L115.7 636.1L116.0 636.2L116.3 636.3L116.5 636.4L116.8 636.5L117.0 636.6L117.3 636.7L117.6 636.8L117.8 636.9L118.1 637.1L118.3 637.2L118.6 637.3L118.8 637.5L119.1 637.6L119.4 637.8L119.6 638.0L119.9 638.2L120.1 638.3L120.4 638.5L120.7 638.7L120.9 638.9L121.2 639.1L121.4 639.3L121.7 639.5L121.9 639.8L122.2 640.0L122.5 640.2L122.7 640.4L123.0 640.7L123.2 640.9L123.5 641.1L123.8 641.4L124.0 641.6L124.3 641.9L124.5 642.1L124.8 642.4L125.0 642.6L125.3 642.9L125.6 643.1L125.8 643.4L126.1 643.7L126.3 643.9L126.6 644.2L126.9 644.4L127.1 644.7L127.4 645.0L127.6 645.3L127.9 645.5L128.2 645.8L128.4 646.1L128.7 646.3L128.9 646.6L129.2 646.9L129.4 647.1L129.7 647.4L130.0 647.7L130.2 648.0L130.5 648.2L130.7 648.5L131.0 648.8L131.3 649.0L131.5 649.3L131.8 649.6L132.0 649.9L132.3 650.1L132.5 650.4L132.8 650.7L133.1 650.9L133.3 651.2L133.6 651.4L133.8 651.7L134.1 652.0L134.4 652.2L134.6 652.5L134.9 652.7L135.1 653.0L135.4 653.3L135.6 653.5L135.9 653.8L136.2 654.0L136.4 654.3L136.7 654.5L136.9 654.7L137.2 655.0L137.5 655.2L137.7 655.5L138.0 655.7L138.2 656.0L138.5 656.2L138.8 656.4L139.0 656.7L139.3 656.9L139.5 657.1L139.8 657.3L140.0 657.6L140.3 657.8L140.6 658.0L140.8 658.2L141.1 658.5L141.3 658.7L141.6 658.9L141.9 659.1L142.1 659.3L142.4 659.5L142.6 659.7L142.9 660.0L143.1 660.2L143.4 660.4L143.7 660.6L143.9 660.8L144.2 661.0L145.7 662.1L147.1 663.1L148.6 664.2L150.1 665.1L151.6 666.0L153.0 666.9L154.5 667.8L156.0 668.6L157.5 669.3L159.0 670.1L160.4 670.8L161.9 671.4L163.4 672.1L164.9 672.7L166.3 673.3L167.8 673.8L169.3 674.3L170.8 674.9L172.3 675.4L173.7 675.8L175.2 676.3L176.7 676.7L178.2 677.1L179.6 677.6L181.1 677.9L182.6 678.3L184.1 678.7L185.6 679.0L187.0 679.4L188.5 679.7L190.0 680.0L191.5 680.3L192.9 680.6L194.4 680.9L195.9 681.2L197.4 681.4L198.8 681.7L200.3 682.0L201.8 682.2L203.3 682.4L204.8 682.7L206.2 682.9L207.7 683.1L209.2 683.3L210.7 683.5L212.1 683.7L213.6 683.9L215.1 684.1L216.6 684.3L218.1 684.5L219.5 684.6L221.0 684.8L222.5 685.0L224.0 685.1L225.4 685.3L226.9 685.5L228.4 685.6L229.9 685.7L231.4 685.9L232.8 686.0L234.3 686.2L235.8 686.3L237.3 686.4L238.7 686.6L240.2 686.7L241.7 686.8L243.2 686.9L244.6 687.0L246.1 687.2L247.6 687.3L249.1 687.4L250.6 687.5L252.0 687.6L253.5 687.7L255.0 687.8L256.5 687.9L257.9 688.0L259.4 688.1L260.9 688.2L262.4 688.3L263.9 688.4L265.3 688.4L266.8 688.5L268.3 688.6L269.8 688.7L271.2 688.8L272.7 688.9L274.2 688.9L275.7 689.0L277.2 689.1L278.6 689.2L280.1 689.2L281.6 689.3L283.1 689.4L284.5 689.5L286.0 689.5L287.5 689.6L289.0 689.7L290.5 689.7L291.9 689.8L293.4 689.9L294.9 689.9L296.4 690.0L297.8 690.0L299.3 690.1L300.8 690.2L302.3 690.2L303.7 690.3L305.2 690.3L306.7 690.4L308.2 690.4L309.7 690.5L311.1 690.6L312.6 690.6L314.1 690.7L315.6 690.7L317.0 690.8L318.5 690.8L320.0 690.9L320.0 693.5L318.5 693.5L317.0 693.4L315.6 693.4L314.1 693.3L312.6 693.3L311.1 693.2L309.7 693.2L308.2 693.2L306.7 693.1L305.2 693.1L303.7 693.0L302.3 693.0L300.8 692.9L299.3 692.8L297.8 692.8L296.4 692.7L294.9 692.7L293.4 692.6L291.9 692.6L290.5 692.5L289.0 692.4L287.5 692.4L286.0 692.3L284.5 692.3L283.1 692.2L281.6 692.1L280.1 692.1L278.6 692.0L277.2 691.9L275.7 691.9L274.2 691.8L272.7 691.7L271.2 691.7L269.8 691.6L268.3 691.5L266.8 691.4L265.3 691.3L263.9 691.3L262.4 691.2L260.9 691.1L259.4 691.0L257.9 690.9L256.5 690.8L255.0 690.7L253.5 690.7L252.0 690.6L250.6 690.5L249.1 690.4L247.6 690.3L246.1 690.2L244.6 690.1L243.2 689.9L241.7 689.8L240.2 689.7L238.7 689.6L237.3 689.5L235.8 689.4L234.3 689.3L232.8 689.1L231.4 689.0L229.9 688.9L228.4 688.7L226.9 688.6L225.4 688.4L224.0 688.3L222.5 688.2L221.0 688.0L219.5 687.8L218.1 687.7L216.6 687.5L215.1 687.3L213.6 687.2L212.1 687.0L210.7 686.8L209.2 686.6L207.7 686.4L206.2 686.2L204.8 686.0L203.3 685.8L201.8 685.6L200.3 685.4L198.8 685.1L197.4 684.9L195.9 684.6L194.4 684.4L192.9 684.1L191.5 683.8L190.0 683.5L188.5 683.3L187.0 682.9L185.6 682.6L184.1 682.3L182.6 682.0L181.1 681.6L179.6 681.3L178.2 680.9L176.7 680.5L175.2 680.1L173.7 679.6L172.3 679.2L170.8 678.7L169.3 678.3L167.8 677.8L166.3 677.2L164.9 676.7L163.4 676.1L161.9 675.5L160.4 674.9L159.0 674.3L157.5 673.6L156.0 672.9L154.5 672.1L153.0 671.4L151.6 670.6L150.1 669.7L148.6 668.8L147.1 667.9L145.7 666.9L144.2 665.9L143.9 665.7L143.7 665.5L143.4 665.3L143.1 665.1L142.9 664.9L142.6 664.7L142.4 664.6L142.1 664.4L141.9 664.2L141.6 664.0L141.3 663.8L141.1 663.6L140.8 663.4L140.6 663.2L140.3 663.0L140.0 662.7L139.8 662.5L139.5 662.3L139.3 662.1L139.0 661.9L138.8 661.7L138.5 661.5L138.2 661.3L138.0 661.0L137.7 660.8L137.5 660.6L137.2 660.4L136.9 660.2L136.7 659.9L136.4 659.7L136.2 659.5L135.9 659.3L135.6 659.0L135.4 658.8L135.1 658.6L134.9 658.3L134.6 658.1L134.4 657.9L134.1 657.6L133.8 657.4L133.6 657.1L133.3 656.9L133.1 656.7L132.8 656.4L132.5 656.2L132.3 655.9L132.0 655.7L131.8 655.4L131.5 655.2L131.3 654.9L131.0 654.7L130.7 654.4L130.5 654.2L130.2 653.9L130.0 653.7L129.7 653.4L129.4 653.2L129.2 652.9L128.9 652.7L128.7 652.4L128.4 652.2L128.2 651.9L127.9 651.7L127.6 651.4L127.4 651.2L127.1 651.0L126.9 650.7L126.6 650.5L126.3 650.2L126.1 650.0L125.8 649.7L125.6 649.5L125.3 649.2L125.0 649.0L124.8 648.8L124.5 648.5L124.3 648.3L124.0 648.1L123.8 647.8L123.5 647.6L123.2 647.4L123.0 647.2L122.7 646.9L122.5 646.7L122.2 646.5L121.9 646.3L121.7 646.1L121.4 645.9L121.2 645.7L120.9 645.5L120.7 645.3L120.4 645.1L120.1 644.9L119.9 644.7L119.6 644.6L119.4 644.4L119.1 644.2L118.8 644.1L118.6 643.9L118.3 643.8L118.1 643.6L117.8 643.5L117.6 643.4L117.3 643.2L117.0 643.1L116.8 643.0L116.5 642.9L116.3 642.8L116.0 642.7L115.7 642.6L115.5 642.6L115.2 642.5L115.0 642.4L114.7 642.4L114.4 642.3L114.2 642.3L113.9 642.3L113.7 642.2L113.4 642.2L113.2 642.2Z" fill="none" stroke="#3b3b3b" stroke-opacity="0.22" stroke-width="2.2" stroke-linejoin="round"/>
<path d="M113.2 635.7L113.4 635.7L113.7 635.8L113.9 635.8L114.2 635.8L114.4 635.8L114.7 635.9L115.0 635.9L115.2 636.0L115.5 636.0L115.7 636.1L116.0 636.2L116.3 636.3L116.5 636.4L116.8 636.5L117.0 636.6L117.3 636.7L117.6 636.8L117.8 636.9L118.1 637.1L118.3 637.2L118.6 637.3L118.8 637.5L119.1 637.6L119.4 637.8L119.6 638.0L119.9 638.2L120.1 638.3L120.4 638.5L120.7 638.7L120.9 638.9L121.2 639.1L121.4 639.3L121.7 639.5L121.9 639.8L122.2 640.0L122.5 640.2L122.7 640.4L123.0 640.7L123.2 640.9L123.5 641.1L123.8 641.4L124.0 641.6L124.3 641.9L124.5 642.1L124.8 642.4L125.0 642.6L125.3 642.9L125.6 643.1L125.8 643.4L126.1 643.7L126.3 643.9L126.6 644.2L126.9 644.4L127.1 644.7L127.4 645.0L127.6 645.3L127.9 645.5L128.2 645.8L128.4 646.1L128.7 646.3L128.9 646.6L129.2 646.9L129.4 647.1L129.7 647.4L130.0 647.7L130.2 648.0L130.5 648.2L130.7 648.5L131.0 648.8L131.3 649.0L131.5 649.3L131.8 649.6L132.0 649.9L132.3 650.1L132.5 650.4L132.8 650.7L133.1 650.9L133.3 651.2L133.6 651.4L133.8 651.7L134.1 652.0L134.4 652.2L134.6 652.5L134.9 652.7L135.1 653.0L135.4 653.3L135.6 653.5L135.9 653.8L136.2 654.0L136.4 654.3L136.7 654.5L136.9 654.7L137.2 655.0L137.5 655.2L137.7 655.5L138.0 655.7L138.2 656.0L138.5 656.2L138.8 656.4L139.0 656.7L139.3 656.9L139.5 657.1L139.8 657.3L140.0 657.6L140.3 657.8L140.6 658.0L140.8 658.2L141.1 658.5L141.3 658.7L141.6 658.9L141.9 659.1L142.1 659.3L142.4 659.5L142.6 659.7L142.9 660.0L143.1 660.2L143.4 660.4L143.7 660.6L143.9 660.8L144.2 661.0L145.7 662.1L147.1 663.1L148.6 664.2L150.1 665.1L151.6 666.0L153.0 666.9L154.5 667.8L156.0 668.6L157.5 669.3L159.0 670.1L160.4 670.8L161.9 671.4L163.4 672.1L164.9 672.7L166.3 673.3L167.8 673.8L169.3 674.3L170.8 674.9L172.3 675.4L173.7 675.8L175.2 676.3L176.7 676.7L178.2 677.1L179.6 677.6L181.1 677.9L182.6 678.3L184.1 678.7L185.6 679.0L187.0 679.4L188.5 679.7L190.0 680.0L191.5 680.3L192.9 680.6L194.4 680.9L195.9 681.2L197.4 681.4L198.8 681.7L200.3 682.0L201.8 682.2L203.3 682.4L204.8 682.7L206.2 682.9L207.7 683.1L209.2 683.3L210.7 683.5L212.1 683.7L213.6 683.9L215.1 684.1L216.6 684.3L218.1 684.5L219.5 684.6L221.0 684.8L222.5 685.0L224.0 685.1L225.4 685.3L226.9 685.5L228.4 685.6L229.9 685.7L231.4 685.9L232.8 686.0L234.3 686.2L235.8 686.3L237.3 686.4L238.7 686.6L240.2 686.7L241.7 686.8L243.2 686.9L244.6 687.0L246.1 687.2L247.6 687.3L249.1 687.4L250.6 687.5L252.0 687.6L253.5 687.7L255.0 687.8L256.5 687.9L257.9 688.0L259.4 688.1L260.9 688.2L262.4 688.3L263.9 688.4L265.3 688.4L266.8 688.5L268.3 688.6L269.8 688.7L271.2 688.8L272.7 688.9L274.2 688.9L275.7 689.0L277.2 689.1L278.6 689.2L280.1 689.2L281.6 689.3L283.1 689.4L284.5 689.5L286.0 689.5L287.5 689.6L289.0 689.7L290.5 689.7L291.9 689.8L293.4 689.9L294.9 689.9L296.4 690.0L297.8 690.0L299.3 690.1L300.8 690.2L302.3 690.2L303.7 690.3L305.2 690.3L306.7 690.4L308.2 690.4L309.7 690.5L311.1 690.6L312.6 690.6L314.1 690.7L315.6 690.7L317.0 690.8L318.5 690.8L320.0 690.9L320.0 693.5L318.5 693.5L317.0 693.4L315.6 693.4L314.1 693.3L312.6 693.3L311.1 693.2L309.7 693.2L308.2 693.2L306.7 693.1L305.2 693.1L303.7 693.0L302.3 693.0L300.8 692.9L299.3 692.8L297.8 692.8L296.4 692.7L294.9 692.7L293.4 692.6L291.9 692.6L290.5 692.5L289.0 692.4L287.5 692.4L286.0 692.3L284.5 692.3L283.1 692.2L281.6 692.1L280.1 692.1L278.6 692.0L277.2 691.9L275.7 691.9L274.2 691.8L272.7 691.7L271.2 691.7L269.8 691.6L268.3 691.5L266.8 691.4L265.3 691.3L263.9 691.3L262.4 691.2L260.9 691.1L259.4 691.0L257.9 690.9L256.5 690.8L255.0 690.7L253.5 690.7L252.0 690.6L250.6 690.5L249.1 690.4L247.6 690.3L246.1 690.2L244.6 690.1L243.2 689.9L241.7 689.8L240.2 689.7L238.7 689.6L237.3 689.5L235.8 689.4L234.3 689.3L232.8 689.1L231.4 689.0L229.9 688.9L228.4 688.7L226.9 688.6L225.4 688.4L224.0 688.3L222.5 688.2L221.0 688.0L219.5 687.8L218.1 687.7L216.6 687.5L215.1 687.3L213.6 687.2L212.1 687.0L210.7 686.8L209.2 686.6L207.7 686.4L206.2 686.2L204.8 686.0L203.3 685.8L201.8 685.6L200.3 685.4L198.8 685.1L197.4 684.9L195.9 684.6L194.4 684.4L192.9 684.1L191.5 683.8L190.0 683.5L188.5 683.3L187.0 682.9L185.6 682.6L184.1 682.3L182.6 682.0L181.1 681.6L179.6 681.3L178.2 680.9L176.7 680.5L175.2 680.1L173.7 679.6L172.3 679.2L170.8 678.7L169.3 678.3L167.8 677.8L166.3 677.2L164.9 676.7L163.4 676.1L161.9 675.5L160.4 674.9L159.0 674.3L157.5 673.6L156.0 672.9L154.5 672.1L153.0 671.4L151.6 670.6L150.1 669.7L148.6 668.8L147.1 667.9L145.7 666.9L144.2 665.9L143.9 665.7L143.7 665.5L143.4 665.3L143.1 665.1L142.9 664.9L142.6 664.7L142.4 664.6L142.1 664.4L141.9 664.2L141.6 664.0L141.3 663.8L141.1 663.6L140.8 663.4L140.6 663.2L140.3 663.0L140.0 662.7L139.8 662.5L139.5 662.3L139.3 662.1L139.0 661.9L138.8 661.7L138.5 661.5L138.2 661.3L138.0 661.0L137.7 660.8L137.5 660.6L137.2 660.4L136.9 660.2L136.7 659.9L136.4 659.7L136.2 659.5L135.9 659.3L135.6 659.0L135.4 658.8L135.1 658.6L134.9 658.3L134.6 658.1L134.4 657.9L134.1 657.6L133.8 657.4L133.6 657.1L133.3 656.9L133.1 656.7L132.8 656.4L132.5 656.2L132.3 655.9L132.0 655.7L131.8 655.4L131.5 655.2L131.3 654.9L131.0 654.7L130.7 654.4L130.5 654.2L130.2 653.9L130.0 653.7L129.7 653.4L129.4 653.2L129.2 652.9L128.9 652.7L128.7 652.4L128.4 652.2L128.2 651.9L127.9 651.7L127.6 651.4L127.4 651.2L127.1 651.0L126.9 650.7L126.6 650.5L126.3 650.2L126.1 650.0L125.8 649.7L125.6 649.5L125.3 649.2L125.0 649.0L124.8 648.8L124.5 648.5L124.3 648.3L124.0 648.1L123.8 647.8L123.5 647.6L123.2 647.4L123.0 647.2L122.7 646.9L122.5 646.7L122.2 646.5L121.9 646.3L121.7 646.1L121.4 645.9L121.2 645.7L120.9 645.5L120.7 645.3L120.4 645.1L120.1 644.9L119.9 644.7L119.6 644.6L119.4 644.4L119.1 644.2L118.8 644.1L118.6 643.9L118.3 643.8L118.1 643.6L117.8 643.5L117.6 643.4L117.3 643.2L117.0 643.1L116.8 643.0L116.5 642.9L116.3 642.8L116.0 642.7L115.7 642.6L115.5 642.6L115.2 642.5L115.0 642.4L114.7 642.4L114.4 642.3L114.2 642.3L113.9 642.3L113.7 642.2L113.4 642.2L113.2 642.2Z" fill="#3b3b3b" stroke="#3b3b3b" stroke-width="0.4" stroke-linejoin="round"/>
<path d="M113.2 610.0L113.4 610.1L113.7 610.4L113.9 610.7L114.2 611.1L114.4 611.6L114.7 612.2L115.0 612.8L115.2 613.5L115.5 614.2L115.7 614.9L116.0 615.7L116.2 616.5L116.5 617.3L116.8 618.1L117.0 618.9L117.3 619.8L117.5 620.6L117.8 621.5L118.0 622.3L118.3 623.2L118.6 624.0L118.8 624.9L119.1 625.7L119.3 626.5L119.6 627.3L119.9 628.2L120.1 629.0L120.4 629.8L120.6 630.5L120.9 631.3L121.1 632.1L121.4 632.8L121.7 633.6L121.9 634.3L122.2 635.0L122.4 635.7L122.7 636.4L122.9 637.1L123.2 637.8L123.5 638.4L123.7 639.1L124.0 639.7L124.2 640.3L124.5 640.9L124.7 641.5L125.0 642.1L125.3 642.7L125.5 643.2L125.8 643.8L126.0 644.3L126.3 644.9L126.5 645.4L126.8 645.9L127.1 646.4L127.3 646.9L127.6 647.4L127.8 647.9L128.1 648.4L128.4 648.8L128.6 649.3L128.9 649.7L129.1 650.2L129.4 650.6L129.6 651.0L129.9 651.4L130.2 651.9L130.4 652.3L130.7 652.7L130.9 653.0L131.2 653.4L131.4 653.8L131.7 654.2L132.0 654.5L132.2 654.9L132.5 655.2L132.7 655.6L133.0 655.9L133.2 656.3L133.5 656.6L133.8 656.9L134.0 657.2L134.3 657.6L134.5 657.9L134.8 658.2L135.0 658.5L135.3 658.8L135.6 659.1L135.8 659.4L136.1 659.6L136.3 659.9L136.6 660.2L136.9 660.5L137.1 660.7L137.4 661.0L137.6 661.3L137.9 661.5L138.1 661.8L138.4 662.0L138.7 662.3L138.9 662.5L139.2 662.7L139.4 663.0L139.7 663.2L139.9 663.4L140.2 663.7L140.5 663.9L140.7 664.1L141.0 664.3L141.2 664.6L141.5 664.8L141.7 665.0L142.0 665.2L142.3 665.4L142.5 665.6L142.8 665.8L143.0 666.0L143.3 666.2L143.5 666.4L143.8 666.6L144.1 666.8L145.5 667.8L147.0 668.8L148.5 669.7L149.9 670.5L151.4 671.3L152.9 672.1L154.4 672.8L155.8 673.5L157.3 674.1L158.8 674.7L160.3 675.3L161.7 675.9L163.2 676.4L164.7 676.9L166.1 677.4L167.6 677.9L169.1 678.3L170.6 678.8L172.0 679.2L173.5 679.6L175.0 679.9L176.4 680.3L177.9 680.7L179.4 681.0L180.9 681.3L182.3 681.7L183.8 682.0L185.3 682.3L186.7 682.5L188.2 682.8L189.7 683.1L191.2 683.4L192.6 683.6L194.1 683.9L195.6 684.1L197.0 684.3L198.5 684.6L200.0 684.8L201.5 685.0L202.9 685.2L204.4 685.4L205.9 685.6L207.3 685.8L208.8 686.0L210.3 686.2L211.8 686.4L213.2 686.5L214.7 686.7L216.2 686.9L217.6 687.0L219.1 687.2L220.6 687.3L222.1 687.5L223.5 687.7L225.0 687.8L226.5 687.9L228.0 688.1L229.4 688.2L230.9 688.4L232.4 688.5L233.8 688.6L235.3 688.7L236.8 688.9L238.3 689.0L239.7 689.1L241.2 689.2L242.7 689.3L244.1 689.5L245.6 689.6L247.1 689.7L248.6 689.8L250.0 689.9L251.5 690.0L253.0 690.1L254.4 690.2L255.9 690.3L257.4 690.4L258.9 690.5L260.3 690.6L261.8 690.7L263.3 690.8L264.7 690.8L266.2 690.9L267.7 691.0L269.2 691.1L270.6 691.2L272.1 691.3L273.6 691.4L275.0 691.4L276.5 691.5L278.0 691.6L279.5 691.7L280.9 691.7L282.4 691.8L283.9 691.9L285.3 692.0L286.8 692.0L288.3 692.1L289.8 692.2L291.2 692.2L292.7 692.3L294.2 692.4L295.7 692.4L297.1 692.5L298.6 692.6L300.1 692.6L301.5 692.7L303.0 692.8L304.5 692.8L306.0 692.9L307.4 692.9L308.9 693.0L310.4 693.0L311.8 693.1L313.3 693.2L314.8 693.2L316.3 693.3L317.7 693.3L319.2 693.4" fill="none" stroke="#cc0000" stroke-width="2.9" stroke-linecap="round" stroke-linejoin="round"/>
</g>
<path d="M120.61 699.00V579.40" stroke="#b0d0e4" stroke-width="1.4" stroke-dasharray="4.7 5.45" stroke-dashoffset="9.25" fill="none"/>
<path d="M142.6 694.4v4.6M130.2 694.4v4.6M161.1 694.4v4.6M168.6 694.4v4.6M151.9 694.4v4.6M121.3 694.4v4.6M128.8 694.4v4.6M133.0 694.4v4.6M233.0 694.4v4.6M152.8 694.4v4.6M143.2 694.4v4.6M153.9 694.4v4.6M124.0 694.4v4.6M155.1 694.4v4.6M152.4 694.4v4.6M127.7 694.4v4.6M134.0 694.4v4.6M136.7 694.4v4.6M214.4 694.4v4.6M134.5 694.4v4.6M121.5 694.4v4.6M171.1 694.4v4.6M180.5 694.4v4.6M133.1 694.4v4.6M159.4 694.4v4.6M237.4 694.4v4.6M135.6 694.4v4.6M153.3 694.4v4.6M144.4 694.4v4.6M144.4 694.4v4.6M143.8 694.4v4.6M176.4 694.4v4.6M196.6 694.4v4.6M200.8 694.4v4.6M124.8 694.4v4.6M178.5 694.4v4.6M124.3 694.4v4.6M125.7 694.4v4.6M125.5 694.4v4.6M123.3 694.4v4.6M138.0 694.4v4.6M123.9 694.4v4.6M137.8 694.4v4.6M186.8 694.4v4.6M136.5 694.4v4.6M123.1 694.4v4.6M163.1 694.4v4.6M142.8 694.4v4.6M126.7 694.4v4.6M133.0 694.4v4.6M129.5 694.4v4.6M145.4 694.4v4.6M197.3 694.4v4.6M126.8 694.4v4.6M137.9 694.4v4.6M130.0 694.4v4.6M150.5 694.4v4.6M186.1 694.4v4.6M128.0 694.4v4.6M125.1 694.4v4.6M133.2 694.4v4.6M144.3 694.4v4.6M138.5 694.4v4.6M149.1 694.4v4.6M128.4 694.4v4.6M142.9 694.4v4.6M125.3 694.4v4.6M147.0 694.4v4.6M131.4 694.4v4.6M170.3 694.4v4.6M141.5 694.4v4.6M122.2 694.4v4.6M149.6 694.4v4.6M132.2 694.4v4.6M139.3 694.4v4.6M123.4 694.4v4.6M153.6 694.4v4.6M130.1 694.4v4.6M122.2 694.4v4.6M138.8 694.4v4.6M126.1 694.4v4.6M139.8 694.4v4.6M126.5 694.4v4.6M128.0 694.4v4.6M125.0 694.4v4.6M126.6 694.4v4.6M179.9 694.4v4.6M125.8 694.4v4.6M134.2 694.4v4.6M146.4 694.4v4.6M126.2 694.4v4.6M126.3 694.4v4.6M130.2 694.4v4.6M184.9 694.4v4.6M183.1 694.4v4.6M151.9 694.4v4.6M122.7 694.4v4.6M127.6 694.4v4.6M159.2 694.4v4.6M130.6 694.4v4.6M124.2 694.4v4.6M132.2 694.4v4.6M194.2 694.4v4.6M126.7 694.4v4.6M172.0 694.4v4.6M121.9 694.4v4.6M151.3 694.4v4.6M162.8 694.4v4.6M121.4 694.4v4.6M138.4 694.4v4.6M196.2 694.4v4.6M198.2 694.4v4.6M146.8 694.4v4.6M127.5 694.4v4.6M135.0 694.4v4.6M130.2 694.4v4.6M150.6 694.4v4.6M127.8 694.4v4.6M161.5 694.4v4.6M153.9 694.4v4.6M138.2 694.4v4.6M134.6 694.4v4.6M174.9 694.4v4.6M127.6 694.4v4.6M144.2 694.4v4.6M122.3 694.4v4.6M121.9 694.4v4.6M140.1 694.4v4.6M128.5 694.4v4.6M130.1 694.4v4.6M130.5 694.4v4.6M124.8 694.4v4.6M138.4 694.4v4.6M131.1 694.4v4.6M190.7 694.4v4.6M176.0 694.4v4.6M139.8 694.4v4.6M125.2 694.4v4.6M210.8 694.4v4.6M132.8 694.4v4.6M120.9 694.4v4.6M158.7 694.4v4.6M126.7 694.4v4.6M203.7 694.4v4.6M134.4 694.4v4.6M121.0 694.4v4.6M161.0 694.4v4.6M133.8 694.4v4.6M125.0 694.4v4.6M122.8 694.4v4.6M145.0 694.4v4.6M123.4 694.4v4.6M127.1 694.4v4.6M130.9 694.4v4.6M141.5 694.4v4.6M136.8 694.4v4.6M155.9 694.4v4.6M181.6 694.4v4.6M187.8 694.4v4.6M131.5 694.4v4.6M161.8 694.4v4.6M180.1 694.4v4.6M138.9 694.4v4.6M146.5 694.4v4.6M155.2 694.4v4.6M140.9 694.4v4.6M143.9 694.4v4.6M239.0 694.4v4.6M135.3 694.4v4.6M122.0 694.4v4.6M133.2 694.4v4.6M125.7 694.4v4.6M155.2 694.4v4.6M139.3 694.4v4.6M143.6 694.4v4.6M165.1 694.4v4.6M162.6 694.4v4.6M126.9 694.4v4.6M185.8 694.4v4.6M254.6 694.4v4.6M127.1 694.4v4.6M124.4 694.4v4.6M127.6 694.4v4.6M150.5 694.4v4.6M135.1 694.4v4.6M203.4 694.4v4.6M141.0 694.4v4.6M130.7 694.4v4.6M126.5 694.4v4.6M145.1 694.4v4.6M124.2 694.4v4.6M145.0 694.4v4.6M130.1 694.4v4.6M156.9 694.4v4.6M141.0 694.4v4.6M137.9 694.4v4.6M157.6 694.4v4.6M122.2 694.4v4.6M137.6 694.4v4.6M134.1 694.4v4.6M182.7 694.4v4.6M141.7 694.4v4.6M134.0 694.4v4.6M147.7 694.4v4.6M128.4 694.4v4.6M161.0 694.4v4.6M207.1 694.4v4.6M144.4 694.4v4.6M189.6 694.4v4.6M124.7 694.4v4.6M174.7 694.4v4.6M174.1 694.4v4.6M133.6 694.4v4.6M197.2 694.4v4.6M146.5 694.4v4.6M161.2 694.4v4.6M177.0 694.4v4.6M127.7 694.4v4.6M128.8 694.4v4.6M175.9 694.4v4.6M140.2 694.4v4.6M127.1 694.4v4.6M174.9 694.4v4.6M134.8 694.4v4.6M129.7 694.4v4.6M151.2 694.4v4.6M126.5 694.4v4.6M147.6 694.4v4.6M144.1 694.4v4.6M144.1 694.4v4.6M141.9 694.4v4.6M144.7 694.4v4.6M132.1 694.4v4.6M126.8 694.4v4.6M131.5 694.4v4.6M126.6 694.4v4.6M125.1 694.4v4.6M138.3 694.4v4.6M121.4 694.4v4.6M143.8 694.4v4.6M241.3 694.4v4.6M178.0 694.4v4.6M139.2 694.4v4.6M159.4 694.4v4.6M167.3 694.4v4.6M253.8 694.4v4.6M148.7 694.4v4.6M212.0 694.4v4.6M124.9 694.4v4.6M144.4 694.4v4.6M122.2 694.4v4.6M159.8 694.4v4.6M150.1 694.4v4.6M161.9 694.4v4.6M128.7 694.4v4.6M125.1 694.4v4.6M284.0 694.4v4.6M171.3 694.4v4.6M142.7 694.4v4.6M136.7 694.4v4.6M161.5 694.4v4.6M134.8 694.4v4.6M141.5 694.4v4.6M121.0 694.4v4.6M133.5 694.4v4.6M167.3 694.4v4.6M126.2 694.4v4.6M145.4 694.4v4.6M138.1 694.4v4.6M129.8 694.4v4.6M137.5 694.4v4.6M140.3 694.4v4.6M120.8 694.4v4.6M162.2 694.4v4.6M127.1 694.4v4.6M129.0 694.4v4.6M146.3 694.4v4.6M134.7 694.4v4.6M240.8 694.4v4.6M145.1 694.4v4.6M184.5 694.4v4.6M171.9 694.4v4.6M176.6 694.4v4.6M124.2 694.4v4.6M158.5 694.4v4.6M130.9 694.4v4.6M156.6 694.4v4.6M149.6 694.4v4.6M127.7 694.4v4.6M139.9 694.4v4.6M129.4 694.4v4.6M187.3 694.4v4.6M145.1 694.4v4.6M123.7 694.4v4.6M168.1 694.4v4.6M142.0 694.4v4.6M148.6 694.4v4.6M134.6 694.4v4.6M137.4 694.4v4.6M127.1 694.4v4.6M148.1 694.4v4.6M132.8 694.4v4.6M123.7 694.4v4.6M126.8 694.4v4.6M124.7 694.4v4.6M151.6 694.4v4.6M136.2 694.4v4.6M124.0 694.4v4.6M132.3 694.4v4.6M159.9 694.4v4.6M135.3 694.4v4.6M123.5 694.4v4.6M158.1 694.4v4.6M139.5 694.4v4.6M183.0 694.4v4.6M123.4 694.4v4.6M164.4 694.4v4.6M182.5 694.4v4.6M144.1 694.4v4.6M121.6 694.4v4.6M137.0 694.4v4.6M128.6 694.4v4.6M124.0 694.4v4.6M125.9 694.4v4.6M127.6 694.4v4.6M134.6 694.4v4.6M128.2 694.4v4.6M162.2 694.4v4.6M172.0 694.4v4.6M142.7 694.4v4.6M134.1 694.4v4.6M155.6 694.4v4.6M126.5 694.4v4.6M127.5 694.4v4.6M155.5 694.4v4.6M167.2 694.4v4.6M145.2 694.4v4.6M165.3 694.4v4.6M209.5 694.4v4.6M131.1 694.4v4.6M128.7 694.4v4.6M130.7 694.4v4.6M121.4 694.4v4.6M127.2 694.4v4.6M124.4 694.4v4.6M129.2 694.4v4.6M135.8 694.4v4.6M145.5 694.4v4.6M149.9 694.4v4.6M133.5 694.4v4.6M148.8 694.4v4.6M134.3 694.4v4.6M184.5 694.4v4.6M180.4 694.4v4.6M123.8 694.4v4.6M179.5 694.4v4.6M122.2 694.4v4.6M127.0 694.4v4.6M144.0 694.4v4.6M125.3 694.4v4.6M158.7 694.4v4.6M188.1 694.4v4.6M135.1 694.4v4.6M153.4 694.4v4.6M124.8 694.4v4.6M124.7 694.4v4.6M159.4 694.4v4.6M125.4 694.4v4.6M132.2 694.4v4.6M178.3 694.4v4.6M120.8 694.4v4.6M136.8 694.4v4.6M138.7 694.4v4.6M160.9 694.4v4.6M124.7 694.4v4.6M122.1 694.4v4.6M130.0 694.4v4.6M175.7 694.4v4.6M154.5 694.4v4.6M129.8 694.4v4.6M159.5 694.4v4.6M134.7 694.4v4.6M120.8 694.4v4.6M128.2 694.4v4.6M158.3 694.4v4.6M122.3 694.4v4.6M126.7 694.4v4.6M172.5 694.4v4.6M156.4 694.4v4.6M127.9 694.4v4.6M122.9 694.4v4.6M176.9 694.4v4.6M169.8 694.4v4.6M132.1 694.4v4.6M144.2 694.4v4.6M130.6 694.4v4.6M162.7 694.4v4.6M170.8 694.4v4.6M135.3 694.4v4.6M130.5 694.4v4.6M122.3 694.4v4.6M172.9 694.4v4.6M191.7 694.4v4.6M185.3 694.4v4.6M149.7 694.4v4.6M164.5 694.4v4.6M156.4 694.4v4.6M125.8 694.4v4.6M125.1 694.4v4.6M145.4 694.4v4.6M176.3 694.4v4.6M121.6 694.4v4.6M132.2 694.4v4.6M122.8 694.4v4.6M136.7 694.4v4.6M125.5 694.4v4.6M137.5 694.4v4.6M129.3 694.4v4.6M131.8 694.4v4.6M148.0 694.4v4.6M184.6 694.4v4.6M171.6 694.4v4.6M137.3 694.4v4.6M131.6 694.4v4.6M122.5 694.4v4.6M147.8 694.4v4.6M190.0 694.4v4.6M173.8 694.4v4.6M126.8 694.4v4.6M140.0 694.4v4.6M131.0 694.4v4.6M140.4 694.4v4.6M194.9 694.4v4.6M142.0 694.4v4.6M148.2 694.4v4.6M122.4 694.4v4.6M135.5 694.4v4.6M142.6 694.4v4.6M154.6 694.4v4.6M132.8 694.4v4.6M158.6 694.4v4.6M221.2 694.4v4.6M187.6 694.4v4.6M149.6 694.4v4.6M126.8 694.4v4.6M132.6 694.4v4.6M126.0 694.4v4.6M159.7 694.4v4.6M122.2 694.4v4.6M187.5 694.4v4.6M135.3 694.4v4.6M121.5 694.4v4.6M163.0 694.4v4.6M130.1 694.4v4.6M151.1 694.4v4.6M156.2 694.4v4.6M156.2 694.4v4.6M130.0 694.4v4.6M159.5 694.4v4.6M121.1 694.4v4.6M138.3 694.4v4.6M122.5 694.4v4.6M138.1 694.4v4.6M160.8 694.4v4.6M145.7 694.4v4.6M136.9 694.4v4.6M138.8 694.4v4.6M122.2 694.4v4.6M126.2 694.4v4.6M192.5 694.4v4.6M130.9 694.4v4.6M161.2 694.4v4.6M132.9 694.4v4.6M183.1 694.4v4.6M125.2 694.4v4.6M154.1 694.4v4.6M154.9 694.4v4.6M133.2 694.4v4.6M138.2 694.4v4.6M132.6 694.4v4.6M168.3 694.4v4.6M232.0 694.4v4.6M122.2 694.4v4.6M205.7 694.4v4.6M120.9 694.4v4.6M150.0 694.4v4.6M145.4 694.4v4.6M134.7 694.4v4.6M179.4 694.4v4.6M124.9 694.4v4.6M179.3 694.4v4.6M145.0 694.4v4.6M154.3 694.4v4.6M175.1 694.4v4.6M145.8 694.4v4.6M120.9 694.4v4.6M121.0 694.4v4.6M211.8 694.4v4.6M165.5 694.4v4.6M146.4 694.4v4.6" stroke="#111" stroke-opacity="0.06" stroke-width="0.6" fill="none"/>
<rect x="105.20" y="579.40" width="214.80" height="119.60" fill="none" stroke="#1a1a1a" stroke-width="1.25"/>
<path d="M113.16 699.00V707.60M162.88 699.00V707.60M212.60 699.00V707.60M262.32 699.00V707.60M312.04 699.00V707.60M105.20 694.57H96.70M105.20 657.66H96.70M105.20 620.74H96.70M105.20 583.83H96.70" stroke="#1a1a1a" stroke-width="1.25" fill="none"/>
<text x="113.16" y="728.80" font-size="13.5" text-anchor="middle">0</text>
<text x="162.88" y="728.80" font-size="13.5" text-anchor="middle">10</text>
<text x="212.60" y="728.80" font-size="13.5" text-anchor="middle">20</text>
<text x="262.32" y="728.80" font-size="13.5" text-anchor="middle">30</text>
<text x="312.04" y="728.80" font-size="13.5" text-anchor="middle">40</text>
<text x="88.90" y="699.42" font-size="13.5" text-anchor="end">0</text>
<text x="88.90" y="662.51" font-size="13.5" text-anchor="end">50</text>
<text x="88.90" y="625.59" font-size="13.5" text-anchor="end">100</text>
<text x="88.90" y="588.68" font-size="13.5" text-anchor="end">150</text>
<text transform="translate(16.50 678.00) rotate(-90)" font-size="20.75">High</text>
<text transform="translate(16.20 624.70) rotate(-90)" font-size="20.0">Φ</text>
<text transform="translate(20.10 608.80) rotate(-90)" font-size="14.0">0</text>
<path d="M34.0 662.90V676.50" stroke="#111" stroke-width="1.3"/>
<text transform="translate(49.80 675.80) rotate(-90)" font-size="13.5">v</text>
<text transform="translate(42.80 669.30) rotate(-90)" font-size="9.5">2</text>
<text transform="translate(49.80 659.80) rotate(-90)" font-size="13.5">(km</text>
<text transform="translate(42.80 635.90) rotate(-90)" font-size="9.5">2</text>
<text transform="translate(49.80 626.70) rotate(-90)" font-size="13.5">s</text>
<text transform="translate(42.80 620.20) rotate(-90)" font-size="9.5">−2</text>
<text transform="translate(49.80 608.20) rotate(-90)" font-size="13.5">)</text>
<clipPath id="clip31"><rect x="393.90" y="579.40" width="214.60" height="119.60"/></clipPath>
<path d="M401.85 699.00V579.40M451.52 699.00V579.40M501.20 699.00V579.40M550.88 699.00V579.40M600.55 699.00V579.40" stroke="#c4c4c4" stroke-width="1.0" stroke-dasharray="1.3 3.87" stroke-dashoffset="1.2" fill="none"/>
<path d="M393.90 694.57H608.50M393.90 657.66H608.50M393.90 620.74H608.50M393.90 583.83H608.50" stroke="#c4c4c4" stroke-width="1.0" stroke-dasharray="1.3 3.87" stroke-dashoffset="0.8" fill="none"/>
<g clip-path="url(#clip31)">
<linearGradient id="gf3" gradientUnits="userSpaceOnUse" x1="470" y1="0" x2="545" y2="0"><stop offset="0" stop-color="#3b3b3b"/><stop offset="1" stop-color="#3b3b3b" stop-opacity="0"/></linearGradient>
<path d="M401.8 535.3L402.0 537.8L402.2 541.6L402.4 545.8L402.5 550.3L402.7 554.9L402.9 559.5L403.0 564.0L403.2 568.3L403.4 572.6L403.5 576.6L403.7 580.5L403.9 584.2L404.0 587.7L404.2 591.1L404.4 594.3L404.6 597.4L404.7 600.3L404.9 603.1L405.1 605.7L405.2 608.3L405.4 610.7L405.6 613.0L405.7 615.2L405.9 617.2L406.1 619.2L406.3 621.1L406.4 623.0L406.6 624.7L406.8 626.4L406.9 628.0L407.1 629.5L407.3 631.0L407.4 632.4L407.6 633.8L407.8 635.1L407.9 636.3L408.1 637.5L408.3 638.7L408.5 639.8L408.6 640.9L408.8 642.0L409.0 643.0L409.1 644.0L409.3 644.9L409.5 645.8L409.6 646.7L409.8 647.5L410.0 648.4L410.1 649.2L410.3 649.9L410.5 650.7L410.7 651.4L410.8 652.1L411.0 652.8L411.2 653.5L411.3 654.1L411.5 654.8L411.7 655.4L411.8 656.0L412.0 656.6L412.2 657.1L412.3 657.7L412.5 658.2L412.7 658.7L412.9 659.2L413.0 659.7L413.2 660.2L413.4 660.7L413.5 661.2L413.7 661.6L413.9 662.0L414.0 662.5L414.2 662.9L414.4 663.3L414.5 663.7L414.7 664.1L414.9 664.5L415.1 664.8L415.2 665.2L415.4 665.6L415.6 665.9L415.7 666.3L415.9 666.6L416.1 666.9L416.2 667.2L416.4 667.6L416.6 667.9L416.8 668.2L416.9 668.5L417.1 668.8L417.3 669.0L417.4 669.3L417.6 669.6L417.8 669.9L417.9 670.1L418.1 670.4L418.3 670.6L418.4 670.9L418.6 671.1L418.8 671.4L419.0 671.6L419.1 671.9L419.3 672.1L419.5 672.3L419.6 672.5L419.8 672.7L420.0 673.0L420.1 673.2L420.3 673.4L420.5 673.6L420.6 673.8L420.8 674.0L421.0 674.2L421.2 674.4L421.3 674.5L421.5 674.7L421.7 674.9L421.8 675.1L422.0 675.3L422.2 675.4L423.1 676.4L424.1 677.3L425.1 678.1L426.0 678.8L427.0 679.5L428.0 680.1L428.9 680.7L429.9 681.3L430.9 681.8L431.8 682.3L432.8 682.8L433.8 683.2L434.7 683.6L435.7 684.0L436.7 684.4L437.7 684.8L438.6 685.1L439.6 685.4L440.6 685.7L441.5 686.0L442.5 686.3L443.5 686.6L444.4 686.8L445.4 687.1L446.4 687.3L447.3 687.5L448.3 687.7L449.3 687.9L450.2 688.1L451.2 688.3L452.2 688.5L453.1 688.7L454.1 688.8L455.1 689.0L456.0 689.2L457.0 689.3L458.0 689.5L458.9 689.6L459.9 689.8L460.9 689.9L461.8 690.0L462.8 690.1L463.8 690.3L464.7 690.4L465.7 690.5L466.7 690.6L467.7 690.7L468.6 690.8L469.6 690.9L470.6 691.0L471.5 691.1L472.5 691.2L473.5 691.3L474.4 691.4L475.4 691.5L476.4 691.6L477.3 691.7L478.3 691.8L479.3 691.8L480.2 691.9L481.2 692.0L482.2 692.1L483.1 692.1L484.1 692.2L485.1 692.3L486.0 692.3L487.0 692.4L488.0 692.5L488.9 692.5L489.9 692.6L490.9 692.7L491.8 692.7L492.8 692.8L493.8 692.8L494.7 692.9L495.7 692.9L496.7 693.0L497.7 693.0L498.6 693.1L499.6 693.1L500.6 693.2L501.5 693.2L502.5 693.3L503.5 693.3L504.4 693.4L505.4 693.4L506.4 693.5L507.3 693.5L508.3 693.6L509.3 693.6L510.2 693.6L511.2 693.7L512.2 693.7L513.1 693.8L514.1 693.8L515.1 693.8L516.0 693.9L517.0 693.9L518.0 694.0L518.9 694.0L519.9 694.0L520.9 694.1L521.8 694.1L522.8 694.1L523.8 694.2L524.7 694.2L525.7 694.2L526.7 694.3L527.6 694.3L528.6 694.3L529.6 694.3L530.6 694.4L531.5 694.4L532.5 694.4L533.5 694.5L534.4 694.5L535.4 694.5L536.4 694.5L537.3 694.6L537.3 694.6L536.4 694.6L535.4 694.6L534.4 694.6L533.5 694.6L532.5 694.6L531.5 694.6L530.6 694.6L529.6 694.6L528.6 694.6L527.6 694.6L526.7 694.6L525.7 694.6L524.7 694.6L523.8 694.6L522.8 694.6L521.8 694.6L520.9 694.6L519.9 694.6L518.9 694.6L518.0 694.6L517.0 694.6L516.0 694.6L515.1 694.6L514.1 694.6L513.1 694.6L512.2 694.6L511.2 694.6L510.2 694.6L509.3 694.6L508.3 694.6L507.3 694.6L506.4 694.6L505.4 694.6L504.4 694.6L503.5 694.6L502.5 694.6L501.5 694.6L500.6 694.6L499.6 694.6L498.6 694.6L497.7 694.6L496.7 694.6L495.7 694.6L494.7 694.6L493.8 694.6L492.8 694.6L491.8 694.6L490.9 694.6L489.9 694.6L488.9 694.6L488.0 694.6L487.0 694.6L486.0 694.6L485.1 694.6L484.1 694.6L483.1 694.6L482.2 694.6L481.2 694.6L480.2 694.6L479.3 694.6L478.3 694.5L477.3 694.5L476.4 694.5L475.4 694.5L474.4 694.5L473.5 694.5L472.5 694.5L471.5 694.5L470.6 694.5L469.6 694.5L468.6 694.5L467.7 694.5L466.7 694.5L465.7 694.5L464.7 694.5L463.8 694.5L462.8 694.5L461.8 694.4L460.9 694.4L459.9 694.4L458.9 694.4L458.0 694.4L457.0 694.3L456.0 694.3L455.1 694.3L454.1 694.3L453.1 694.2L452.2 694.2L451.2 694.1L450.2 694.1L449.3 694.0L448.3 693.9L447.3 693.9L446.4 693.8L445.4 693.7L444.4 693.6L443.5 693.5L442.5 693.3L441.5 693.2L440.6 693.0L439.6 692.8L438.6 692.6L437.7 692.3L436.7 692.0L435.7 691.7L434.7 691.3L433.8 690.9L432.8 690.4L431.8 689.9L430.9 689.3L429.9 688.6L428.9 687.8L428.0 687.0L427.0 686.0L426.0 684.8L425.1 683.6L424.1 682.1L423.1 680.5L422.2 678.7L422.0 678.4L421.8 678.0L421.7 677.7L421.5 677.3L421.3 676.9L421.2 676.5L421.0 676.1L420.8 675.7L420.6 675.3L420.5 674.9L420.3 674.5L420.1 674.1L420.0 673.6L419.8 673.2L419.6 672.7L419.5 672.3L419.3 671.8L419.1 671.3L419.0 670.8L418.8 670.3L418.6 669.8L418.4 669.2L418.3 668.7L418.1 668.1L417.9 667.6L417.8 667.0L417.6 666.4L417.4 665.8L417.3 665.2L417.1 664.6L416.9 663.9L416.8 663.3L416.6 662.6L416.4 661.9L416.2 661.3L416.1 660.6L415.9 659.8L415.7 659.1L415.6 658.4L415.4 657.6L415.2 656.8L415.1 656.0L414.9 655.2L414.7 654.4L414.5 653.6L414.4 652.7L414.2 651.8L414.0 651.0L413.9 650.1L413.7 649.1L413.5 648.2L413.4 647.2L413.2 646.3L413.0 645.3L412.9 644.3L412.7 643.2L412.5 642.2L412.3 641.1L412.2 640.1L412.0 638.9L411.8 637.8L411.7 636.7L411.5 635.5L411.3 634.3L411.2 633.1L411.0 631.9L410.8 630.7L410.7 629.4L410.5 628.1L410.3 626.8L410.1 625.5L410.0 624.1L409.8 622.8L409.6 621.4L409.5 620.0L409.3 618.5L409.1 617.1L409.0 615.6L408.8 614.1L408.6 612.6L408.5 611.0L408.3 609.4L408.1 607.9L407.9 606.2L407.8 604.6L407.6 603.0L407.4 601.3L407.3 599.6L407.1 597.9L406.9 596.2L406.8 594.4L406.6 592.6L406.4 590.8L406.3 589.0L406.1 587.2L405.9 585.4L405.7 583.5L405.6 581.7L405.4 579.8L405.2 577.9L405.1 576.0L404.9 574.1L404.7 572.2L404.6 570.3L404.4 568.3L404.2 566.4L404.0 564.5L403.9 562.6L403.7 560.7L403.5 558.8L403.4 556.9L403.2 555.1L403.0 553.2L402.9 551.5L402.7 549.7L402.5 548.1L402.4 546.5L402.2 545.0L402.0 543.7L401.8 542.7Z" fill="none" stroke="url(#gf3)" stroke-opacity="0.22" stroke-width="2.2" stroke-linejoin="round"/>
<path d="M401.8 535.3L402.0 537.8L402.2 541.6L402.4 545.8L402.5 550.3L402.7 554.9L402.9 559.5L403.0 564.0L403.2 568.3L403.4 572.6L403.5 576.6L403.7 580.5L403.9 584.2L404.0 587.7L404.2 591.1L404.4 594.3L404.6 597.4L404.7 600.3L404.9 603.1L405.1 605.7L405.2 608.3L405.4 610.7L405.6 613.0L405.7 615.2L405.9 617.2L406.1 619.2L406.3 621.1L406.4 623.0L406.6 624.7L406.8 626.4L406.9 628.0L407.1 629.5L407.3 631.0L407.4 632.4L407.6 633.8L407.8 635.1L407.9 636.3L408.1 637.5L408.3 638.7L408.5 639.8L408.6 640.9L408.8 642.0L409.0 643.0L409.1 644.0L409.3 644.9L409.5 645.8L409.6 646.7L409.8 647.5L410.0 648.4L410.1 649.2L410.3 649.9L410.5 650.7L410.7 651.4L410.8 652.1L411.0 652.8L411.2 653.5L411.3 654.1L411.5 654.8L411.7 655.4L411.8 656.0L412.0 656.6L412.2 657.1L412.3 657.7L412.5 658.2L412.7 658.7L412.9 659.2L413.0 659.7L413.2 660.2L413.4 660.7L413.5 661.2L413.7 661.6L413.9 662.0L414.0 662.5L414.2 662.9L414.4 663.3L414.5 663.7L414.7 664.1L414.9 664.5L415.1 664.8L415.2 665.2L415.4 665.6L415.6 665.9L415.7 666.3L415.9 666.6L416.1 666.9L416.2 667.2L416.4 667.6L416.6 667.9L416.8 668.2L416.9 668.5L417.1 668.8L417.3 669.0L417.4 669.3L417.6 669.6L417.8 669.9L417.9 670.1L418.1 670.4L418.3 670.6L418.4 670.9L418.6 671.1L418.8 671.4L419.0 671.6L419.1 671.9L419.3 672.1L419.5 672.3L419.6 672.5L419.8 672.7L420.0 673.0L420.1 673.2L420.3 673.4L420.5 673.6L420.6 673.8L420.8 674.0L421.0 674.2L421.2 674.4L421.3 674.5L421.5 674.7L421.7 674.9L421.8 675.1L422.0 675.3L422.2 675.4L423.1 676.4L424.1 677.3L425.1 678.1L426.0 678.8L427.0 679.5L428.0 680.1L428.9 680.7L429.9 681.3L430.9 681.8L431.8 682.3L432.8 682.8L433.8 683.2L434.7 683.6L435.7 684.0L436.7 684.4L437.7 684.8L438.6 685.1L439.6 685.4L440.6 685.7L441.5 686.0L442.5 686.3L443.5 686.6L444.4 686.8L445.4 687.1L446.4 687.3L447.3 687.5L448.3 687.7L449.3 687.9L450.2 688.1L451.2 688.3L452.2 688.5L453.1 688.7L454.1 688.8L455.1 689.0L456.0 689.2L457.0 689.3L458.0 689.5L458.9 689.6L459.9 689.8L460.9 689.9L461.8 690.0L462.8 690.1L463.8 690.3L464.7 690.4L465.7 690.5L466.7 690.6L467.7 690.7L468.6 690.8L469.6 690.9L470.6 691.0L471.5 691.1L472.5 691.2L473.5 691.3L474.4 691.4L475.4 691.5L476.4 691.6L477.3 691.7L478.3 691.8L479.3 691.8L480.2 691.9L481.2 692.0L482.2 692.1L483.1 692.1L484.1 692.2L485.1 692.3L486.0 692.3L487.0 692.4L488.0 692.5L488.9 692.5L489.9 692.6L490.9 692.7L491.8 692.7L492.8 692.8L493.8 692.8L494.7 692.9L495.7 692.9L496.7 693.0L497.7 693.0L498.6 693.1L499.6 693.1L500.6 693.2L501.5 693.2L502.5 693.3L503.5 693.3L504.4 693.4L505.4 693.4L506.4 693.5L507.3 693.5L508.3 693.6L509.3 693.6L510.2 693.6L511.2 693.7L512.2 693.7L513.1 693.8L514.1 693.8L515.1 693.8L516.0 693.9L517.0 693.9L518.0 694.0L518.9 694.0L519.9 694.0L520.9 694.1L521.8 694.1L522.8 694.1L523.8 694.2L524.7 694.2L525.7 694.2L526.7 694.3L527.6 694.3L528.6 694.3L529.6 694.3L530.6 694.4L531.5 694.4L532.5 694.4L533.5 694.5L534.4 694.5L535.4 694.5L536.4 694.5L537.3 694.6L537.3 694.6L536.4 694.6L535.4 694.6L534.4 694.6L533.5 694.6L532.5 694.6L531.5 694.6L530.6 694.6L529.6 694.6L528.6 694.6L527.6 694.6L526.7 694.6L525.7 694.6L524.7 694.6L523.8 694.6L522.8 694.6L521.8 694.6L520.9 694.6L519.9 694.6L518.9 694.6L518.0 694.6L517.0 694.6L516.0 694.6L515.1 694.6L514.1 694.6L513.1 694.6L512.2 694.6L511.2 694.6L510.2 694.6L509.3 694.6L508.3 694.6L507.3 694.6L506.4 694.6L505.4 694.6L504.4 694.6L503.5 694.6L502.5 694.6L501.5 694.6L500.6 694.6L499.6 694.6L498.6 694.6L497.7 694.6L496.7 694.6L495.7 694.6L494.7 694.6L493.8 694.6L492.8 694.6L491.8 694.6L490.9 694.6L489.9 694.6L488.9 694.6L488.0 694.6L487.0 694.6L486.0 694.6L485.1 694.6L484.1 694.6L483.1 694.6L482.2 694.6L481.2 694.6L480.2 694.6L479.3 694.6L478.3 694.5L477.3 694.5L476.4 694.5L475.4 694.5L474.4 694.5L473.5 694.5L472.5 694.5L471.5 694.5L470.6 694.5L469.6 694.5L468.6 694.5L467.7 694.5L466.7 694.5L465.7 694.5L464.7 694.5L463.8 694.5L462.8 694.5L461.8 694.4L460.9 694.4L459.9 694.4L458.9 694.4L458.0 694.4L457.0 694.3L456.0 694.3L455.1 694.3L454.1 694.3L453.1 694.2L452.2 694.2L451.2 694.1L450.2 694.1L449.3 694.0L448.3 693.9L447.3 693.9L446.4 693.8L445.4 693.7L444.4 693.6L443.5 693.5L442.5 693.3L441.5 693.2L440.6 693.0L439.6 692.8L438.6 692.6L437.7 692.3L436.7 692.0L435.7 691.7L434.7 691.3L433.8 690.9L432.8 690.4L431.8 689.9L430.9 689.3L429.9 688.6L428.9 687.8L428.0 687.0L427.0 686.0L426.0 684.8L425.1 683.6L424.1 682.1L423.1 680.5L422.2 678.7L422.0 678.4L421.8 678.0L421.7 677.7L421.5 677.3L421.3 676.9L421.2 676.5L421.0 676.1L420.8 675.7L420.6 675.3L420.5 674.9L420.3 674.5L420.1 674.1L420.0 673.6L419.8 673.2L419.6 672.7L419.5 672.3L419.3 671.8L419.1 671.3L419.0 670.8L418.8 670.3L418.6 669.8L418.4 669.2L418.3 668.7L418.1 668.1L417.9 667.6L417.8 667.0L417.6 666.4L417.4 665.8L417.3 665.2L417.1 664.6L416.9 663.9L416.8 663.3L416.6 662.6L416.4 661.9L416.2 661.3L416.1 660.6L415.9 659.8L415.7 659.1L415.6 658.4L415.4 657.6L415.2 656.8L415.1 656.0L414.9 655.2L414.7 654.4L414.5 653.6L414.4 652.7L414.2 651.8L414.0 651.0L413.9 650.1L413.7 649.1L413.5 648.2L413.4 647.2L413.2 646.3L413.0 645.3L412.9 644.3L412.7 643.2L412.5 642.2L412.3 641.1L412.2 640.1L412.0 638.9L411.8 637.8L411.7 636.7L411.5 635.5L411.3 634.3L411.2 633.1L411.0 631.9L410.8 630.7L410.7 629.4L410.5 628.1L410.3 626.8L410.1 625.5L410.0 624.1L409.8 622.8L409.6 621.4L409.5 620.0L409.3 618.5L409.1 617.1L409.0 615.6L408.8 614.1L408.6 612.6L408.5 611.0L408.3 609.4L408.1 607.9L407.9 606.2L407.8 604.6L407.6 603.0L407.4 601.3L407.3 599.6L407.1 597.9L406.9 596.2L406.8 594.4L406.6 592.6L406.4 590.8L406.3 589.0L406.1 587.2L405.9 585.4L405.7 583.5L405.6 581.7L405.4 579.8L405.2 577.9L405.1 576.0L404.9 574.1L404.7 572.2L404.6 570.3L404.4 568.3L404.2 566.4L404.0 564.5L403.9 562.6L403.7 560.7L403.5 558.8L403.4 556.9L403.2 555.1L403.0 553.2L402.9 551.5L402.7 549.7L402.5 548.1L402.4 546.5L402.2 545.0L402.0 543.7L401.8 542.7Z" fill="url(#gf3)" stroke="url(#gf3)" stroke-width="0.4" stroke-linejoin="round"/>
<path d="M401.8 610.4L402.1 610.4L402.4 610.6L402.6 610.8L402.9 611.1L403.1 611.4L403.4 611.9L403.6 612.3L403.9 612.8L404.2 613.4L404.4 614.0L404.7 614.6L404.9 615.3L405.2 616.0L405.4 616.7L405.7 617.5L406.0 618.2L406.2 619.0L406.5 619.8L406.7 620.6L407.0 621.4L407.2 622.2L407.5 623.0L407.8 623.8L408.0 624.6L408.3 625.5L408.5 626.3L408.8 627.1L409.0 627.9L409.3 628.6L409.5 629.4L409.8 630.2L410.1 631.0L410.3 631.7L410.6 632.5L410.8 633.2L411.1 633.9L411.3 634.6L411.6 635.3L411.9 636.0L412.1 636.7L412.4 637.4L412.6 638.1L412.9 638.7L413.1 639.3L413.4 640.0L413.7 640.6L413.9 641.2L414.2 641.8L414.4 642.4L414.7 643.0L414.9 643.5L415.2 644.1L415.5 644.6L415.7 645.2L416.0 645.7L416.2 646.2L416.5 646.7L416.7 647.2L417.0 647.7L417.2 648.2L417.5 648.7L417.8 649.1L418.0 649.6L418.3 650.0L418.5 650.5L418.8 650.9L419.0 651.4L419.3 651.8L419.6 652.2L419.8 652.6L420.1 653.0L420.3 653.4L420.6 653.8L420.8 654.2L421.1 654.5L421.4 654.9L421.6 655.3L421.9 655.6L422.1 656.0L422.4 656.3L422.6 656.6L422.9 657.0L423.2 657.3L423.4 657.6L423.7 657.9L423.9 658.3L424.2 658.6L424.4 658.9L424.7 659.2L425.0 659.5L425.2 659.8L425.5 660.0L425.7 660.3L426.0 660.6L426.2 660.9L426.5 661.2L426.7 661.4L427.0 661.7L427.3 661.9L427.5 662.2L427.8 662.4L428.0 662.7L428.3 662.9L428.5 663.2L428.8 663.4L429.1 663.7L429.3 663.9L429.6 664.1L429.8 664.3L430.1 664.6L430.3 664.8L430.6 665.0L430.9 665.2L431.1 665.4L431.4 665.6L431.6 665.8L431.9 666.0L432.1 666.3L432.4 666.4L432.7 666.6L434.1 667.7L435.6 668.7L437.1 669.7L438.5 670.6L440.0 671.4L441.5 672.2L442.9 672.9L444.4 673.6L445.9 674.3L447.3 674.9L448.8 675.5L450.3 676.1L451.7 676.6L453.2 677.1L454.7 677.6L456.1 678.1L457.6 678.5L459.1 679.0L460.5 679.4L462.0 679.8L463.5 680.2L464.9 680.5L466.4 680.9L467.9 681.2L469.3 681.6L470.8 681.9L472.3 682.2L473.7 682.5L475.2 682.8L476.7 683.1L478.1 683.3L479.6 683.6L481.1 683.8L482.5 684.1L484.0 684.3L485.5 684.6L486.9 684.8L488.4 685.0L489.9 685.2L491.3 685.4L492.8 685.6L494.3 685.8L495.7 686.0L497.2 686.2L498.7 686.4L500.1 686.6L501.6 686.7L503.1 686.9L504.5 687.1L506.0 687.2L507.5 687.4L508.9 687.5L510.4 687.7L511.9 687.8L513.3 688.0L514.8 688.1L516.3 688.2L517.7 688.4L519.2 688.5L520.7 688.6L522.1 688.8L523.6 688.9L525.1 689.0L526.5 689.1L528.0 689.2L529.5 689.3L530.9 689.5L532.4 689.6L533.9 689.7L535.3 689.8L536.8 689.9L538.3 690.0L539.7 690.1L541.2 690.2L542.7 690.3L544.1 690.4L545.6 690.5L547.1 690.6L548.5 690.6L550.0 690.7L551.5 690.8L552.9 690.9L554.4 691.0L555.9 691.1L557.3 691.1L558.8 691.2L560.3 691.3L561.7 691.4L563.2 691.5L564.7 691.5L566.1 691.6L567.6 691.7L569.1 691.8L570.5 691.8L572.0 691.9L573.5 692.0L574.9 692.0L576.4 692.1L577.9 692.2L579.3 692.2L580.8 692.3L582.3 692.4L583.7 692.4L585.2 692.5L586.7 692.5L588.1 692.6L589.6 692.7L591.1 692.7L592.5 692.8L594.0 692.8L595.5 692.9L596.9 692.9L598.4 693.0L599.9 693.1L601.3 693.1L602.8 693.2L604.3 693.2L605.7 693.3L607.2 693.3" fill="none" stroke="#cc0000" stroke-width="2.9" stroke-linecap="round" stroke-linejoin="round"/>
</g>
<path d="M409.30 699.00V579.40" stroke="#b0d0e4" stroke-width="1.4" stroke-dasharray="4.7 5.45" stroke-dashoffset="9.25" fill="none"/>
<path d="M406.9 694.4v4.6M408.7 694.4v4.6M405.2 694.4v4.6M406.8 694.4v4.6M407.3 694.4v4.6M409.0 694.4v4.6M407.1 694.4v4.6M408.1 694.4v4.6M405.3 694.4v4.6M406.0 694.4v4.6M408.5 694.4v4.6M408.0 694.4v4.6M408.5 694.4v4.6M407.5 694.4v4.6M407.7 694.4v4.6M406.2 694.4v4.6M406.4 694.4v4.6M404.6 694.4v4.6M406.0 694.4v4.6M407.6 694.4v4.6M408.1 694.4v4.6M408.6 694.4v4.6M408.3 694.4v4.6M408.8 694.4v4.6M408.6 694.4v4.6M403.4 694.4v4.6M409.0 694.4v4.6M407.7 694.4v4.6M407.5 694.4v4.6M405.2 694.4v4.6M405.8 694.4v4.6M404.9 694.4v4.6M405.2 694.4v4.6M408.7 694.4v4.6M407.2 694.4v4.6M408.7 694.4v4.6M409.3 694.4v4.6M408.2 694.4v4.6M406.2 694.4v4.6M405.9 694.4v4.6M409.2 694.4v4.6M407.7 694.4v4.6M407.0 694.4v4.6M409.2 694.4v4.6M406.0 694.4v4.6M409.0 694.4v4.6M403.5 694.4v4.6M407.5 694.4v4.6M407.0 694.4v4.6M409.2 694.4v4.6M407.6 694.4v4.6M408.0 694.4v4.6M408.8 694.4v4.6M408.2 694.4v4.6M408.9 694.4v4.6M408.8 694.4v4.6M404.9 694.4v4.6M405.7 694.4v4.6M407.4 694.4v4.6M407.3 694.4v4.6M408.8 694.4v4.6M405.7 694.4v4.6M409.3 694.4v4.6M408.8 694.4v4.6M408.3 694.4v4.6M406.6 694.4v4.6M408.7 694.4v4.6M408.5 694.4v4.6M408.9 694.4v4.6M406.9 694.4v4.6M408.7 694.4v4.6M406.2 694.4v4.6M407.6 694.4v4.6M405.7 694.4v4.6M406.6 694.4v4.6M409.2 694.4v4.6M409.3 694.4v4.6M405.9 694.4v4.6M408.3 694.4v4.6M403.1 694.4v4.6M407.1 694.4v4.6M407.5 694.4v4.6M406.4 694.4v4.6M404.5 694.4v4.6M408.4 694.4v4.6M409.0 694.4v4.6M406.2 694.4v4.6M407.2 694.4v4.6M408.6 694.4v4.6M408.5 694.4v4.6M408.5 694.4v4.6M406.9 694.4v4.6M409.2 694.4v4.6M408.7 694.4v4.6M408.8 694.4v4.6M408.2 694.4v4.6M406.0 694.4v4.6M409.2 694.4v4.6M408.1 694.4v4.6M407.8 694.4v4.6M408.4 694.4v4.6M408.7 694.4v4.6M405.9 694.4v4.6M406.1 694.4v4.6M407.1 694.4v4.6M405.7 694.4v4.6M408.5 694.4v4.6M405.8 694.4v4.6M408.2 694.4v4.6M408.2 694.4v4.6M408.6 694.4v4.6M408.7 694.4v4.6M407.9 694.4v4.6M406.1 694.4v4.6M409.0 694.4v4.6M408.2 694.4v4.6M407.8 694.4v4.6M409.0 694.4v4.6M408.8 694.4v4.6M408.1 694.4v4.6M407.3 694.4v4.6M406.3 694.4v4.6M404.7 694.4v4.6M404.5 694.4v4.6M404.0 694.4v4.6M408.4 694.4v4.6M405.6 694.4v4.6M408.4 694.4v4.6M406.7 694.4v4.6M406.2 694.4v4.6M409.2 694.4v4.6M407.2 694.4v4.6M405.3 694.4v4.6M408.3 694.4v4.6M408.3 694.4v4.6M409.2 694.4v4.6M408.7 694.4v4.6M407.3 694.4v4.6M408.1 694.4v4.6M406.0 694.4v4.6M407.0 694.4v4.6M407.6 694.4v4.6M406.5 694.4v4.6M408.9 694.4v4.6M408.7 694.4v4.6M407.3 694.4v4.6M408.8 694.4v4.6M407.4 694.4v4.6M406.1 694.4v4.6M406.6 694.4v4.6M405.5 694.4v4.6M408.5 694.4v4.6M406.9 694.4v4.6M404.8 694.4v4.6M404.8 694.4v4.6M407.6 694.4v4.6M409.0 694.4v4.6M406.5 694.4v4.6M408.8 694.4v4.6M408.8 694.4v4.6M405.1 694.4v4.6M406.8 694.4v4.6M409.1 694.4v4.6M408.6 694.4v4.6M408.3 694.4v4.6M403.9 694.4v4.6M406.5 694.4v4.6M408.5 694.4v4.6M405.7 694.4v4.6M406.3 694.4v4.6M405.0 694.4v4.6M407.8 694.4v4.6M406.2 694.4v4.6M408.8 694.4v4.6M405.1 694.4v4.6M408.5 694.4v4.6M409.1 694.4v4.6M406.5 694.4v4.6M407.3 694.4v4.6M408.7 694.4v4.6M406.2 694.4v4.6M407.8 694.4v4.6M405.9 694.4v4.6M407.3 694.4v4.6M407.8 694.4v4.6M404.4 694.4v4.6M409.0 694.4v4.6M407.5 694.4v4.6M405.1 694.4v4.6M405.3 694.4v4.6M406.6 694.4v4.6M404.8 694.4v4.6M408.5 694.4v4.6M406.3 694.4v4.6M407.8 694.4v4.6M407.8 694.4v4.6M406.6 694.4v4.6M408.3 694.4v4.6M407.2 694.4v4.6M408.4 694.4v4.6M408.0 694.4v4.6M408.3 694.4v4.6M409.2 694.4v4.6M408.6 694.4v4.6M408.8 694.4v4.6M408.8 694.4v4.6M408.7 694.4v4.6M407.5 694.4v4.6M407.1 694.4v4.6M409.3 694.4v4.6M406.9 694.4v4.6M407.5 694.4v4.6M406.8 694.4v4.6M405.0 694.4v4.6M408.0 694.4v4.6M406.7 694.4v4.6M406.0 694.4v4.6M409.0 694.4v4.6M406.8 694.4v4.6M407.7 694.4v4.6M409.3 694.4v4.6M409.2 694.4v4.6M409.1 694.4v4.6M408.5 694.4v4.6M407.1 694.4v4.6M407.2 694.4v4.6M408.8 694.4v4.6M407.4 694.4v4.6M408.8 694.4v4.6M406.6 694.4v4.6M408.4 694.4v4.6M409.1 694.4v4.6M407.6 694.4v4.6M403.9 694.4v4.6M406.9 694.4v4.6M406.2 694.4v4.6M408.4 694.4v4.6M407.2 694.4v4.6M407.4 694.4v4.6M407.2 694.4v4.6M408.7 694.4v4.6M407.8 694.4v4.6M403.8 694.4v4.6M405.9 694.4v4.6M406.0 694.4v4.6M408.3 694.4v4.6M406.4 694.4v4.6M407.2 694.4v4.6M409.0 694.4v4.6M408.2 694.4v4.6M408.8 694.4v4.6M407.6 694.4v4.6M407.7 694.4v4.6M405.3 694.4v4.6M405.7 694.4v4.6M407.8 694.4v4.6M408.5 694.4v4.6M404.1 694.4v4.6M406.0 694.4v4.6M408.2 694.4v4.6M406.5 694.4v4.6M407.0 694.4v4.6M408.2 694.4v4.6M408.4 694.4v4.6M404.7 694.4v4.6M405.0 694.4v4.6M407.6 694.4v4.6M406.3 694.4v4.6M405.7 694.4v4.6M407.0 694.4v4.6M407.7 694.4v4.6M408.3 694.4v4.6M409.2 694.4v4.6M409.3 694.4v4.6M408.8 694.4v4.6M407.1 694.4v4.6M405.4 694.4v4.6M406.5 694.4v4.6M406.2 694.4v4.6M408.8 694.4v4.6M408.7 694.4v4.6M408.0 694.4v4.6M404.8 694.4v4.6M406.5 694.4v4.6M408.2 694.4v4.6M407.1 694.4v4.6M407.2 694.4v4.6M408.5 694.4v4.6M402.6 694.4v4.6M406.8 694.4v4.6M407.9 694.4v4.6M407.9 694.4v4.6M407.9 694.4v4.6M405.2 694.4v4.6M405.3 694.4v4.6M406.3 694.4v4.6M404.4 694.4v4.6M409.1 694.4v4.6M409.0 694.4v4.6M404.8 694.4v4.6" stroke="#111" stroke-opacity="0.3" stroke-width="0.6" fill="none"/>
<rect x="393.90" y="579.40" width="214.60" height="119.60" fill="none" stroke="#1a1a1a" stroke-width="1.25"/>
<path d="M401.85 699.00V707.60M451.52 699.00V707.60M501.20 699.00V707.60M550.88 699.00V707.60M600.55 699.00V707.60M393.90 694.57H385.40M393.90 657.66H385.40M393.90 620.74H385.40M393.90 583.83H385.40" stroke="#1a1a1a" stroke-width="1.25" fill="none"/>
<text x="401.85" y="728.80" font-size="13.5" text-anchor="middle">0</text>
<text x="451.52" y="728.80" font-size="13.5" text-anchor="middle">10</text>
<text x="501.20" y="728.80" font-size="13.5" text-anchor="middle">20</text>
<text x="550.88" y="728.80" font-size="13.5" text-anchor="middle">30</text>
<text x="600.55" y="728.80" font-size="13.5" text-anchor="middle">40</text>
<text x="377.60" y="699.42" font-size="13.5" text-anchor="end">0</text>
<text x="377.60" y="662.51" font-size="13.5" text-anchor="end">50</text>
<text x="377.60" y="625.59" font-size="13.5" text-anchor="end">100</text>
<text x="377.60" y="588.68" font-size="13.5" text-anchor="end">150</text>
<clipPath id="clip40"><rect x="105.20" y="760.60" width="214.80" height="119.60"/></clipPath>
<path d="M113.16 880.20V760.60M144.98 880.20V760.60M176.80 880.20V760.60M208.62 880.20V760.60M240.44 880.20V760.60M272.27 880.20V760.60M304.09 880.20V760.60" stroke="#c4c4c4" stroke-width="1.0" stroke-dasharray="1.3 3.87" stroke-dashoffset="1.2" fill="none"/>
<path d="M105.20 875.77H320.00M105.20 858.05H320.00M105.20 840.33H320.00M105.20 822.61H320.00M105.20 804.90H320.00M105.20 787.18H320.00M105.20 769.46H320.00" stroke="#c4c4c4" stroke-width="1.0" stroke-dasharray="1.3 3.87" stroke-dashoffset="0.8" fill="none"/>
<g clip-path="url(#clip40)">
<path d="M113.2 784.3L113.4 784.3L113.7 784.3L113.9 784.3L114.2 784.4L114.4 784.4L114.7 784.4L115.0 784.4L115.2 784.4L115.5 784.4L115.7 784.4L116.0 784.4L116.3 784.5L116.5 784.5L116.8 784.5L117.0 784.6L117.3 784.6L117.6 784.6L117.8 784.7L118.1 784.7L118.3 784.7L118.6 784.8L118.8 784.8L119.1 784.9L119.4 784.9L119.6 785.0L119.9 785.0L120.1 785.1L120.4 785.2L120.7 785.2L120.9 785.3L121.2 785.4L121.4 785.4L121.7 785.5L121.9 785.6L122.2 785.7L122.5 785.7L122.7 785.8L123.0 785.9L123.2 786.0L123.5 786.1L123.8 786.2L124.0 786.3L124.3 786.4L124.5 786.5L124.8 786.6L125.0 786.7L125.3 786.8L125.6 786.9L125.8 787.0L126.1 787.1L126.3 787.3L126.6 787.4L126.9 787.5L127.1 787.6L127.4 787.8L127.6 787.9L127.9 788.0L128.2 788.2L128.4 788.3L128.7 788.4L128.9 788.6L129.2 788.7L129.4 788.9L129.7 789.0L130.0 789.2L130.2 789.3L130.5 789.5L130.7 789.6L131.0 789.8L131.3 789.9L131.5 790.1L131.8 790.3L132.0 790.4L132.3 790.6L132.5 790.8L132.8 790.9L133.1 791.1L133.3 791.3L133.6 791.5L133.8 791.6L134.1 791.8L134.4 792.0L134.6 792.2L134.9 792.4L135.1 792.5L135.4 792.7L135.6 792.9L135.9 793.1L136.2 793.3L136.4 793.5L136.7 793.7L136.9 793.9L137.2 794.1L137.5 794.3L137.7 794.5L138.0 794.7L138.2 794.9L138.5 795.1L138.8 795.3L139.0 795.5L139.3 795.7L139.5 795.9L139.8 796.1L140.0 796.3L140.3 796.6L140.6 796.8L140.8 797.0L141.1 797.2L141.3 797.4L141.6 797.6L141.9 797.9L142.1 798.1L142.4 798.3L142.6 798.5L142.9 798.7L143.1 799.0L143.4 799.2L143.7 799.4L143.9 799.6L144.2 799.9L145.7 801.2L147.1 802.5L148.6 803.8L150.1 805.1L151.6 806.5L153.0 807.8L154.5 809.2L156.0 810.5L157.5 811.8L159.0 813.2L160.4 814.5L161.9 815.8L163.4 817.1L164.9 818.3L166.3 819.6L167.8 820.8L169.3 822.0L170.8 823.2L172.3 824.4L173.7 825.6L175.2 826.7L176.7 827.8L178.2 828.9L179.6 830.0L181.1 831.0L182.6 832.0L184.1 833.0L185.6 834.0L187.0 835.0L188.5 835.9L190.0 836.9L191.5 837.8L192.9 838.7L194.4 839.5L195.9 840.4L197.4 841.2L198.8 842.0L200.3 842.8L201.8 843.6L203.3 844.3L204.8 845.1L206.2 845.8L207.7 846.5L209.2 847.2L210.7 847.9L212.1 848.5L213.6 849.2L215.1 849.8L216.6 850.4L218.1 851.1L219.5 851.7L221.0 852.2L222.5 852.8L224.0 853.4L225.4 853.9L226.9 854.4L228.4 855.0L229.9 855.5L231.4 856.0L232.8 856.5L234.3 857.0L235.8 857.4L237.3 857.9L238.7 858.4L240.2 858.8L241.7 859.2L243.2 859.7L244.6 860.1L246.1 860.5L247.6 860.9L249.1 861.3L250.6 861.7L252.0 862.1L253.5 862.5L255.0 862.8L256.5 863.2L257.9 863.5L259.4 863.9L260.9 864.2L262.4 864.6L263.9 864.9L265.3 865.2L266.8 865.5L268.3 865.9L269.8 866.2L271.2 866.5L272.7 866.8L274.2 867.1L275.7 867.3L277.2 867.6L278.6 867.9L280.1 868.2L281.6 868.4L283.1 868.7L284.5 869.0L286.0 869.2L287.5 869.5L289.0 869.7L290.5 870.0L291.9 870.2L293.4 870.4L294.9 870.7L296.4 870.9L297.8 871.1L299.3 871.4L300.8 871.6L302.3 871.8L303.7 872.0L305.2 872.2L306.7 872.4L308.2 872.6L309.7 872.8L311.1 873.0L312.6 873.2L314.1 873.4L315.6 873.6L317.0 873.8L318.5 874.0L320.0 874.1L320.0 875.8L318.5 875.8L317.0 875.8L315.6 875.8L314.1 875.8L312.6 875.8L311.1 875.8L309.7 875.8L308.2 875.8L306.7 875.8L305.2 875.8L303.7 875.8L302.3 875.7L300.8 875.5L299.3 875.3L297.8 875.0L296.4 874.8L294.9 874.5L293.4 874.3L291.9 874.1L290.5 873.8L289.0 873.6L287.5 873.3L286.0 873.0L284.5 872.8L283.1 872.5L281.6 872.2L280.1 872.0L278.6 871.7L277.2 871.4L275.7 871.1L274.2 870.8L272.7 870.5L271.2 870.2L269.8 869.9L268.3 869.6L266.8 869.3L265.3 868.9L263.9 868.6L262.4 868.3L260.9 868.0L259.4 867.6L257.9 867.3L256.5 866.9L255.0 866.5L253.5 866.2L252.0 865.8L250.6 865.4L249.1 865.0L247.6 864.6L246.1 864.2L244.6 863.8L243.2 863.4L241.7 863.0L240.2 862.6L238.7 862.1L237.3 861.7L235.8 861.2L234.3 860.8L232.8 860.3L231.4 859.8L229.9 859.3L228.4 858.8L226.9 858.3L225.4 857.8L224.0 857.3L222.5 856.7L221.0 856.2L219.5 855.6L218.1 855.1L216.6 854.5L215.1 853.9L213.6 853.3L212.1 852.7L210.7 852.0L209.2 851.4L207.7 850.7L206.2 850.1L204.8 849.4L203.3 848.7L201.8 848.0L200.3 847.2L198.8 846.5L197.4 845.7L195.9 844.9L194.4 844.2L192.9 843.3L191.5 842.5L190.0 841.7L188.5 840.8L187.0 839.9L185.6 839.0L184.1 838.1L182.6 837.2L181.1 836.2L179.6 835.3L178.2 834.3L176.7 833.3L175.2 832.2L173.7 831.2L172.3 830.1L170.8 829.0L169.3 827.9L167.8 826.8L166.3 825.7L164.9 824.5L163.4 823.3L161.9 822.1L160.4 820.9L159.0 819.7L157.5 818.5L156.0 817.3L154.5 816.0L153.0 814.8L151.6 813.5L150.1 812.3L148.6 811.0L147.1 809.8L145.7 808.6L144.2 807.3L143.9 807.1L143.7 806.9L143.4 806.7L143.1 806.5L142.9 806.3L142.6 806.1L142.4 805.9L142.1 805.7L141.9 805.5L141.6 805.3L141.3 805.1L141.1 804.9L140.8 804.7L140.6 804.5L140.3 804.3L140.0 804.1L139.8 803.9L139.5 803.7L139.3 803.5L139.0 803.3L138.8 803.1L138.5 802.9L138.2 802.7L138.0 802.5L137.7 802.3L137.5 802.1L137.2 801.9L136.9 801.7L136.7 801.6L136.4 801.4L136.2 801.2L135.9 801.0L135.6 800.8L135.4 800.6L135.1 800.5L134.9 800.3L134.6 800.1L134.4 799.9L134.1 799.8L133.8 799.6L133.6 799.4L133.3 799.3L133.1 799.1L132.8 798.9L132.5 798.8L132.3 798.6L132.0 798.5L131.8 798.3L131.5 798.2L131.3 798.0L131.0 797.9L130.7 797.7L130.5 797.6L130.2 797.4L130.0 797.3L129.7 797.1L129.4 797.0L129.2 796.9L128.9 796.7L128.7 796.6L128.4 796.5L128.2 796.3L127.9 796.2L127.6 796.1L127.4 796.0L127.1 795.8L126.9 795.7L126.6 795.6L126.3 795.5L126.1 795.4L125.8 795.3L125.6 795.2L125.3 795.1L125.0 794.9L124.8 794.8L124.5 794.7L124.3 794.7L124.0 794.6L123.8 794.5L123.5 794.4L123.2 794.3L123.0 794.2L122.7 794.1L122.5 794.0L122.2 794.0L121.9 793.9L121.7 793.8L121.4 793.8L121.2 793.7L120.9 793.6L120.7 793.6L120.4 793.5L120.1 793.4L119.9 793.4L119.6 793.3L119.4 793.3L119.1 793.2L118.8 793.2L118.6 793.1L118.3 793.1L118.1 793.1L117.8 793.0L117.6 793.0L117.3 793.0L117.0 792.9L116.8 792.9L116.5 792.9L116.3 792.9L116.0 792.8L115.7 792.8L115.5 792.8L115.2 792.8L115.0 792.8L114.7 792.8L114.4 792.8L114.2 792.7L113.9 792.7L113.7 792.7L113.4 792.7L113.2 792.7Z" fill="none" stroke="#3b3b3b" stroke-opacity="0.22" stroke-width="2.2" stroke-linejoin="round"/>
<path d="M113.2 784.3L113.4 784.3L113.7 784.3L113.9 784.3L114.2 784.4L114.4 784.4L114.7 784.4L115.0 784.4L115.2 784.4L115.5 784.4L115.7 784.4L116.0 784.4L116.3 784.5L116.5 784.5L116.8 784.5L117.0 784.6L117.3 784.6L117.6 784.6L117.8 784.7L118.1 784.7L118.3 784.7L118.6 784.8L118.8 784.8L119.1 784.9L119.4 784.9L119.6 785.0L119.9 785.0L120.1 785.1L120.4 785.2L120.7 785.2L120.9 785.3L121.2 785.4L121.4 785.4L121.7 785.5L121.9 785.6L122.2 785.7L122.5 785.7L122.7 785.8L123.0 785.9L123.2 786.0L123.5 786.1L123.8 786.2L124.0 786.3L124.3 786.4L124.5 786.5L124.8 786.6L125.0 786.7L125.3 786.8L125.6 786.9L125.8 787.0L126.1 787.1L126.3 787.3L126.6 787.4L126.9 787.5L127.1 787.6L127.4 787.8L127.6 787.9L127.9 788.0L128.2 788.2L128.4 788.3L128.7 788.4L128.9 788.6L129.2 788.7L129.4 788.9L129.7 789.0L130.0 789.2L130.2 789.3L130.5 789.5L130.7 789.6L131.0 789.8L131.3 789.9L131.5 790.1L131.8 790.3L132.0 790.4L132.3 790.6L132.5 790.8L132.8 790.9L133.1 791.1L133.3 791.3L133.6 791.5L133.8 791.6L134.1 791.8L134.4 792.0L134.6 792.2L134.9 792.4L135.1 792.5L135.4 792.7L135.6 792.9L135.9 793.1L136.2 793.3L136.4 793.5L136.7 793.7L136.9 793.9L137.2 794.1L137.5 794.3L137.7 794.5L138.0 794.7L138.2 794.9L138.5 795.1L138.8 795.3L139.0 795.5L139.3 795.7L139.5 795.9L139.8 796.1L140.0 796.3L140.3 796.6L140.6 796.8L140.8 797.0L141.1 797.2L141.3 797.4L141.6 797.6L141.9 797.9L142.1 798.1L142.4 798.3L142.6 798.5L142.9 798.7L143.1 799.0L143.4 799.2L143.7 799.4L143.9 799.6L144.2 799.9L145.7 801.2L147.1 802.5L148.6 803.8L150.1 805.1L151.6 806.5L153.0 807.8L154.5 809.2L156.0 810.5L157.5 811.8L159.0 813.2L160.4 814.5L161.9 815.8L163.4 817.1L164.9 818.3L166.3 819.6L167.8 820.8L169.3 822.0L170.8 823.2L172.3 824.4L173.7 825.6L175.2 826.7L176.7 827.8L178.2 828.9L179.6 830.0L181.1 831.0L182.6 832.0L184.1 833.0L185.6 834.0L187.0 835.0L188.5 835.9L190.0 836.9L191.5 837.8L192.9 838.7L194.4 839.5L195.9 840.4L197.4 841.2L198.8 842.0L200.3 842.8L201.8 843.6L203.3 844.3L204.8 845.1L206.2 845.8L207.7 846.5L209.2 847.2L210.7 847.9L212.1 848.5L213.6 849.2L215.1 849.8L216.6 850.4L218.1 851.1L219.5 851.7L221.0 852.2L222.5 852.8L224.0 853.4L225.4 853.9L226.9 854.4L228.4 855.0L229.9 855.5L231.4 856.0L232.8 856.5L234.3 857.0L235.8 857.4L237.3 857.9L238.7 858.4L240.2 858.8L241.7 859.2L243.2 859.7L244.6 860.1L246.1 860.5L247.6 860.9L249.1 861.3L250.6 861.7L252.0 862.1L253.5 862.5L255.0 862.8L256.5 863.2L257.9 863.5L259.4 863.9L260.9 864.2L262.4 864.6L263.9 864.9L265.3 865.2L266.8 865.5L268.3 865.9L269.8 866.2L271.2 866.5L272.7 866.8L274.2 867.1L275.7 867.3L277.2 867.6L278.6 867.9L280.1 868.2L281.6 868.4L283.1 868.7L284.5 869.0L286.0 869.2L287.5 869.5L289.0 869.7L290.5 870.0L291.9 870.2L293.4 870.4L294.9 870.7L296.4 870.9L297.8 871.1L299.3 871.4L300.8 871.6L302.3 871.8L303.7 872.0L305.2 872.2L306.7 872.4L308.2 872.6L309.7 872.8L311.1 873.0L312.6 873.2L314.1 873.4L315.6 873.6L317.0 873.8L318.5 874.0L320.0 874.1L320.0 875.8L318.5 875.8L317.0 875.8L315.6 875.8L314.1 875.8L312.6 875.8L311.1 875.8L309.7 875.8L308.2 875.8L306.7 875.8L305.2 875.8L303.7 875.8L302.3 875.7L300.8 875.5L299.3 875.3L297.8 875.0L296.4 874.8L294.9 874.5L293.4 874.3L291.9 874.1L290.5 873.8L289.0 873.6L287.5 873.3L286.0 873.0L284.5 872.8L283.1 872.5L281.6 872.2L280.1 872.0L278.6 871.7L277.2 871.4L275.7 871.1L274.2 870.8L272.7 870.5L271.2 870.2L269.8 869.9L268.3 869.6L266.8 869.3L265.3 868.9L263.9 868.6L262.4 868.3L260.9 868.0L259.4 867.6L257.9 867.3L256.5 866.9L255.0 866.5L253.5 866.2L252.0 865.8L250.6 865.4L249.1 865.0L247.6 864.6L246.1 864.2L244.6 863.8L243.2 863.4L241.7 863.0L240.2 862.6L238.7 862.1L237.3 861.7L235.8 861.2L234.3 860.8L232.8 860.3L231.4 859.8L229.9 859.3L228.4 858.8L226.9 858.3L225.4 857.8L224.0 857.3L222.5 856.7L221.0 856.2L219.5 855.6L218.1 855.1L216.6 854.5L215.1 853.9L213.6 853.3L212.1 852.7L210.7 852.0L209.2 851.4L207.7 850.7L206.2 850.1L204.8 849.4L203.3 848.7L201.8 848.0L200.3 847.2L198.8 846.5L197.4 845.7L195.9 844.9L194.4 844.2L192.9 843.3L191.5 842.5L190.0 841.7L188.5 840.8L187.0 839.9L185.6 839.0L184.1 838.1L182.6 837.2L181.1 836.2L179.6 835.3L178.2 834.3L176.7 833.3L175.2 832.2L173.7 831.2L172.3 830.1L170.8 829.0L169.3 827.9L167.8 826.8L166.3 825.7L164.9 824.5L163.4 823.3L161.9 822.1L160.4 820.9L159.0 819.7L157.5 818.5L156.0 817.3L154.5 816.0L153.0 814.8L151.6 813.5L150.1 812.3L148.6 811.0L147.1 809.8L145.7 808.6L144.2 807.3L143.9 807.1L143.7 806.9L143.4 806.7L143.1 806.5L142.9 806.3L142.6 806.1L142.4 805.9L142.1 805.7L141.9 805.5L141.6 805.3L141.3 805.1L141.1 804.9L140.8 804.7L140.6 804.5L140.3 804.3L140.0 804.1L139.8 803.9L139.5 803.7L139.3 803.5L139.0 803.3L138.8 803.1L138.5 802.9L138.2 802.7L138.0 802.5L137.7 802.3L137.5 802.1L137.2 801.9L136.9 801.7L136.7 801.6L136.4 801.4L136.2 801.2L135.9 801.0L135.6 800.8L135.4 800.6L135.1 800.5L134.9 800.3L134.6 800.1L134.4 799.9L134.1 799.8L133.8 799.6L133.6 799.4L133.3 799.3L133.1 799.1L132.8 798.9L132.5 798.8L132.3 798.6L132.0 798.5L131.8 798.3L131.5 798.2L131.3 798.0L131.0 797.9L130.7 797.7L130.5 797.6L130.2 797.4L130.0 797.3L129.7 797.1L129.4 797.0L129.2 796.9L128.9 796.7L128.7 796.6L128.4 796.5L128.2 796.3L127.9 796.2L127.6 796.1L127.4 796.0L127.1 795.8L126.9 795.7L126.6 795.6L126.3 795.5L126.1 795.4L125.8 795.3L125.6 795.2L125.3 795.1L125.0 794.9L124.8 794.8L124.5 794.7L124.3 794.7L124.0 794.6L123.8 794.5L123.5 794.4L123.2 794.3L123.0 794.2L122.7 794.1L122.5 794.0L122.2 794.0L121.9 793.9L121.7 793.8L121.4 793.8L121.2 793.7L120.9 793.6L120.7 793.6L120.4 793.5L120.1 793.4L119.9 793.4L119.6 793.3L119.4 793.3L119.1 793.2L118.8 793.2L118.6 793.1L118.3 793.1L118.1 793.1L117.8 793.0L117.6 793.0L117.3 793.0L117.0 792.9L116.8 792.9L116.5 792.9L116.3 792.9L116.0 792.8L115.7 792.8L115.5 792.8L115.2 792.8L115.0 792.8L114.7 792.8L114.4 792.8L114.2 792.7L113.9 792.7L113.7 792.7L113.4 792.7L113.2 792.7Z" fill="#3b3b3b" stroke="#3b3b3b" stroke-width="0.4" stroke-linejoin="round"/>
<path d="M113.2 788.5L113.4 788.5L113.7 788.5L113.9 788.5L114.2 788.5L114.4 788.5L114.7 788.5L115.0 788.5L115.2 788.5L115.5 788.5L115.7 788.6L116.0 788.6L116.2 788.6L116.5 788.6L116.8 788.7L117.0 788.7L117.3 788.7L117.5 788.8L117.8 788.8L118.0 788.9L118.3 788.9L118.6 789.0L118.8 789.0L119.1 789.1L119.3 789.1L119.6 789.2L119.9 789.2L120.1 789.3L120.4 789.4L120.6 789.5L120.9 789.5L121.1 789.6L121.4 789.7L121.7 789.8L121.9 789.9L122.2 789.9L122.4 790.0L122.7 790.1L122.9 790.2L123.2 790.3L123.5 790.4L123.7 790.5L124.0 790.6L124.2 790.8L124.5 790.9L124.7 791.0L125.0 791.1L125.3 791.2L125.5 791.4L125.8 791.5L126.0 791.6L126.3 791.7L126.5 791.9L126.8 792.0L127.1 792.2L127.3 792.3L127.6 792.4L127.8 792.6L128.1 792.7L128.4 792.9L128.6 793.0L128.9 793.2L129.1 793.4L129.4 793.5L129.6 793.7L129.9 793.9L130.2 794.0L130.4 794.2L130.7 794.4L130.9 794.5L131.2 794.7L131.4 794.9L131.7 795.1L132.0 795.3L132.2 795.4L132.5 795.6L132.7 795.8L133.0 796.0L133.2 796.2L133.5 796.4L133.8 796.6L134.0 796.8L134.3 797.0L134.5 797.2L134.8 797.4L135.0 797.6L135.3 797.8L135.6 798.0L135.8 798.2L136.1 798.4L136.3 798.6L136.6 798.8L136.9 799.1L137.1 799.3L137.4 799.5L137.6 799.7L137.9 799.9L138.1 800.2L138.4 800.4L138.7 800.6L138.9 800.8L139.2 801.0L139.4 801.3L139.7 801.5L139.9 801.7L140.2 802.0L140.5 802.2L140.7 802.4L141.0 802.6L141.2 802.9L141.5 803.1L141.7 803.3L142.0 803.6L142.3 803.8L142.5 804.0L142.8 804.3L143.0 804.5L143.3 804.8L143.5 805.0L143.8 805.2L144.1 805.5L145.5 806.8L147.0 808.2L148.5 809.6L149.9 811.0L151.4 812.4L152.9 813.7L154.4 815.1L155.8 816.5L157.3 817.8L158.8 819.1L160.3 820.4L161.7 821.7L163.2 823.0L164.7 824.3L166.1 825.5L167.6 826.7L169.1 827.9L170.6 829.0L172.0 830.2L173.5 831.3L175.0 832.4L176.4 833.4L177.9 834.5L179.4 835.5L180.9 836.5L182.3 837.4L183.8 838.4L185.3 839.3L186.7 840.2L188.2 841.1L189.7 842.0L191.2 842.8L192.6 843.6L194.1 844.4L195.6 845.2L197.0 846.0L198.5 846.7L200.0 847.5L201.5 848.2L202.9 848.9L204.4 849.6L205.9 850.2L207.3 850.9L208.8 851.5L210.3 852.2L211.8 852.8L213.2 853.4L214.7 853.9L216.2 854.5L217.6 855.1L219.1 855.6L220.6 856.1L222.1 856.7L223.5 857.2L225.0 857.7L226.5 858.2L228.0 858.7L229.4 859.1L230.9 859.6L232.4 860.0L233.8 860.5L235.3 860.9L236.8 861.3L238.3 861.7L239.7 862.2L241.2 862.6L242.7 862.9L244.1 863.3L245.6 863.7L247.1 864.1L248.6 864.4L250.0 864.8L251.5 865.2L253.0 865.5L254.4 865.8L255.9 866.2L257.4 866.5L258.9 866.8L260.3 867.1L261.8 867.4L263.3 867.7L264.7 868.0L266.2 868.3L267.7 868.6L269.2 868.9L270.6 869.2L272.1 869.4L273.6 869.7L275.0 870.0L276.5 870.2L278.0 870.5L279.5 870.7L280.9 871.0L282.4 871.2L283.9 871.5L285.3 871.7L286.8 871.9L288.3 872.2L289.8 872.4L291.2 872.6L292.7 872.8L294.2 873.1L295.7 873.3L297.1 873.5L298.6 873.7L300.1 873.9L301.5 874.1L303.0 874.3L304.5 874.5L306.0 874.7L307.4 874.9L308.9 875.0L310.4 875.2L311.8 875.4L313.3 875.6L314.8 875.8L316.3 875.8L317.7 875.8L319.2 875.8" fill="none" stroke="#cc0000" stroke-width="2.9" stroke-linecap="round" stroke-linejoin="round"/>
</g>
<path d="M137.02 880.20V760.60" stroke="#b0d0e4" stroke-width="1.4" stroke-dasharray="4.7 5.45" stroke-dashoffset="9.25" fill="none"/>
<path d="M203.5 875.6v4.6M141.5 875.6v4.6M151.0 875.6v4.6M171.2 875.6v4.6M139.5 875.6v4.6M194.7 875.6v4.6M137.7 875.6v4.6M146.5 875.6v4.6M192.2 875.6v4.6M219.1 875.6v4.6M159.1 875.6v4.6M237.7 875.6v4.6M148.8 875.6v4.6M146.5 875.6v4.6M219.4 875.6v4.6M190.4 875.6v4.6M251.4 875.6v4.6M139.6 875.6v4.6M173.3 875.6v4.6M159.7 875.6v4.6M167.4 875.6v4.6M192.5 875.6v4.6M185.1 875.6v4.6M144.1 875.6v4.6M228.0 875.6v4.6M185.5 875.6v4.6M199.2 875.6v4.6M177.4 875.6v4.6M185.8 875.6v4.6M278.4 875.6v4.6M211.1 875.6v4.6M166.1 875.6v4.6M147.9 875.6v4.6M149.5 875.6v4.6M144.0 875.6v4.6M169.4 875.6v4.6M140.8 875.6v4.6M168.1 875.6v4.6M144.0 875.6v4.6M218.4 875.6v4.6M158.3 875.6v4.6M217.1 875.6v4.6M228.1 875.6v4.6M224.3 875.6v4.6M287.1 875.6v4.6M165.9 875.6v4.6M188.2 875.6v4.6M178.9 875.6v4.6M254.3 875.6v4.6M159.1 875.6v4.6M183.8 875.6v4.6M202.9 875.6v4.6M187.5 875.6v4.6M260.2 875.6v4.6M156.0 875.6v4.6M151.0 875.6v4.6M147.1 875.6v4.6M157.9 875.6v4.6M177.2 875.6v4.6M158.1 875.6v4.6M216.3 875.6v4.6M145.7 875.6v4.6M230.9 875.6v4.6M211.6 875.6v4.6M159.9 875.6v4.6M154.3 875.6v4.6M166.5 875.6v4.6M144.1 875.6v4.6M316.5 875.6v4.6M144.5 875.6v4.6M146.6 875.6v4.6M173.7 875.6v4.6M185.2 875.6v4.6M151.1 875.6v4.6M141.8 875.6v4.6M137.1 875.6v4.6M181.6 875.6v4.6M188.9 875.6v4.6M149.2 875.6v4.6M157.0 875.6v4.6M155.1 875.6v4.6M172.1 875.6v4.6M157.0 875.6v4.6M151.3 875.6v4.6M160.4 875.6v4.6M201.0 875.6v4.6M199.1 875.6v4.6M260.6 875.6v4.6M212.1 875.6v4.6M162.6 875.6v4.6M143.4 875.6v4.6M172.8 875.6v4.6M153.2 875.6v4.6M186.4 875.6v4.6M150.7 875.6v4.6M176.1 875.6v4.6M298.0 875.6v4.6M245.5 875.6v4.6M187.5 875.6v4.6M189.1 875.6v4.6M206.9 875.6v4.6M238.7 875.6v4.6M141.6 875.6v4.6M160.5 875.6v4.6M143.2 875.6v4.6M150.6 875.6v4.6M158.4 875.6v4.6M169.4 875.6v4.6M163.4 875.6v4.6M188.7 875.6v4.6M178.9 875.6v4.6M149.0 875.6v4.6M158.9 875.6v4.6M229.1 875.6v4.6M164.4 875.6v4.6M197.9 875.6v4.6M255.2 875.6v4.6M160.4 875.6v4.6M272.0 875.6v4.6M143.2 875.6v4.6M208.3 875.6v4.6M158.1 875.6v4.6M156.0 875.6v4.6M169.3 875.6v4.6M259.2 875.6v4.6M171.3 875.6v4.6M201.4 875.6v4.6M150.2 875.6v4.6M230.9 875.6v4.6M139.4 875.6v4.6M141.1 875.6v4.6M143.0 875.6v4.6M141.0 875.6v4.6M144.8 875.6v4.6M158.8 875.6v4.6M236.6 875.6v4.6M146.7 875.6v4.6M216.4 875.6v4.6M224.6 875.6v4.6M185.8 875.6v4.6M138.2 875.6v4.6M159.2 875.6v4.6M207.4 875.6v4.6M195.5 875.6v4.6M186.7 875.6v4.6M224.2 875.6v4.6M171.8 875.6v4.6M186.6 875.6v4.6M181.5 875.6v4.6M298.1 875.6v4.6M179.3 875.6v4.6M138.8 875.6v4.6M233.7 875.6v4.6M158.1 875.6v4.6M183.5 875.6v4.6M170.8 875.6v4.6M220.2 875.6v4.6M159.0 875.6v4.6M181.0 875.6v4.6M164.3 875.6v4.6M171.3 875.6v4.6M165.1 875.6v4.6M199.5 875.6v4.6M160.0 875.6v4.6M144.7 875.6v4.6M185.2 875.6v4.6M140.4 875.6v4.6M204.6 875.6v4.6M234.0 875.6v4.6M156.0 875.6v4.6M169.5 875.6v4.6M165.1 875.6v4.6M137.4 875.6v4.6M205.8 875.6v4.6M176.9 875.6v4.6M230.0 875.6v4.6M179.3 875.6v4.6M150.6 875.6v4.6M152.0 875.6v4.6M153.0 875.6v4.6M165.2 875.6v4.6M145.9 875.6v4.6M142.1 875.6v4.6M188.2 875.6v4.6M146.3 875.6v4.6M146.4 875.6v4.6M139.9 875.6v4.6M191.5 875.6v4.6M198.0 875.6v4.6M157.0 875.6v4.6M165.0 875.6v4.6M158.6 875.6v4.6M227.1 875.6v4.6M223.4 875.6v4.6M210.8 875.6v4.6M139.3 875.6v4.6M222.1 875.6v4.6M182.4 875.6v4.6M144.2 875.6v4.6M162.6 875.6v4.6M172.0 875.6v4.6M158.0 875.6v4.6M193.5 875.6v4.6M170.9 875.6v4.6M205.0 875.6v4.6M150.2 875.6v4.6M149.4 875.6v4.6M228.2 875.6v4.6M139.0 875.6v4.6M185.8 875.6v4.6M154.3 875.6v4.6M171.1 875.6v4.6M153.2 875.6v4.6M174.1 875.6v4.6M158.1 875.6v4.6M163.1 875.6v4.6M252.1 875.6v4.6M234.7 875.6v4.6M191.4 875.6v4.6M176.5 875.6v4.6M163.2 875.6v4.6M189.0 875.6v4.6M183.7 875.6v4.6M240.6 875.6v4.6M171.8 875.6v4.6M172.3 875.6v4.6M187.2 875.6v4.6M141.3 875.6v4.6M166.5 875.6v4.6M169.2 875.6v4.6M139.1 875.6v4.6M142.5 875.6v4.6M256.7 875.6v4.6M150.3 875.6v4.6M147.1 875.6v4.6M187.5 875.6v4.6M195.1 875.6v4.6M168.8 875.6v4.6M230.6 875.6v4.6M197.2 875.6v4.6M190.0 875.6v4.6M149.4 875.6v4.6M178.5 875.6v4.6M200.1 875.6v4.6M147.1 875.6v4.6M138.1 875.6v4.6M169.8 875.6v4.6M189.0 875.6v4.6M290.5 875.6v4.6M147.8 875.6v4.6M165.2 875.6v4.6M171.6 875.6v4.6M142.2 875.6v4.6M159.8 875.6v4.6M151.8 875.6v4.6M157.3 875.6v4.6M140.3 875.6v4.6M139.3 875.6v4.6M153.9 875.6v4.6M236.0 875.6v4.6M173.1 875.6v4.6M169.8 875.6v4.6M228.1 875.6v4.6M140.8 875.6v4.6M171.6 875.6v4.6M147.1 875.6v4.6M171.5 875.6v4.6M165.9 875.6v4.6M186.5 875.6v4.6M157.5 875.6v4.6M305.2 875.6v4.6M145.5 875.6v4.6M142.1 875.6v4.6M159.7 875.6v4.6M178.2 875.6v4.6M219.0 875.6v4.6M190.4 875.6v4.6M139.2 875.6v4.6M220.1 875.6v4.6M138.2 875.6v4.6M153.9 875.6v4.6M141.5 875.6v4.6M162.5 875.6v4.6M138.7 875.6v4.6M147.0 875.6v4.6M219.5 875.6v4.6M154.9 875.6v4.6M138.4 875.6v4.6M212.1 875.6v4.6M145.0 875.6v4.6M173.1 875.6v4.6M175.5 875.6v4.6M205.0 875.6v4.6M155.9 875.6v4.6M178.8 875.6v4.6M141.3 875.6v4.6M140.8 875.6v4.6M178.7 875.6v4.6M140.6 875.6v4.6M158.7 875.6v4.6M165.2 875.6v4.6M152.5 875.6v4.6M164.2 875.6v4.6M208.5 875.6v4.6M176.1 875.6v4.6M143.2 875.6v4.6M144.4 875.6v4.6M173.4 875.6v4.6M149.6 875.6v4.6M139.8 875.6v4.6M170.7 875.6v4.6M185.9 875.6v4.6M156.8 875.6v4.6M138.8 875.6v4.6M172.1 875.6v4.6M137.5 875.6v4.6M170.2 875.6v4.6M147.6 875.6v4.6M149.6 875.6v4.6M180.8 875.6v4.6M317.4 875.6v4.6M169.7 875.6v4.6M140.8 875.6v4.6M156.8 875.6v4.6M177.9 875.6v4.6M154.6 875.6v4.6M141.4 875.6v4.6M156.1 875.6v4.6M162.2 875.6v4.6M151.6 875.6v4.6M231.5 875.6v4.6M151.9 875.6v4.6M180.2 875.6v4.6M150.3 875.6v4.6M270.0 875.6v4.6M185.3 875.6v4.6M164.7 875.6v4.6M138.0 875.6v4.6M212.2 875.6v4.6M153.4 875.6v4.6M144.4 875.6v4.6M311.4 875.6v4.6M152.8 875.6v4.6M156.0 875.6v4.6M148.2 875.6v4.6M154.0 875.6v4.6M152.6 875.6v4.6M207.7 875.6v4.6M257.2 875.6v4.6M185.8 875.6v4.6M257.5 875.6v4.6M181.2 875.6v4.6M204.0 875.6v4.6M178.8 875.6v4.6M144.5 875.6v4.6M159.9 875.6v4.6M163.6 875.6v4.6M168.5 875.6v4.6M138.2 875.6v4.6M140.3 875.6v4.6M180.7 875.6v4.6M169.9 875.6v4.6M151.7 875.6v4.6M166.7 875.6v4.6M200.4 875.6v4.6M151.5 875.6v4.6M151.2 875.6v4.6M139.5 875.6v4.6M158.5 875.6v4.6M144.6 875.6v4.6M159.2 875.6v4.6M182.8 875.6v4.6M265.9 875.6v4.6M238.2 875.6v4.6M268.2 875.6v4.6M158.7 875.6v4.6M152.2 875.6v4.6M200.9 875.6v4.6M147.9 875.6v4.6M189.9 875.6v4.6M173.6 875.6v4.6M177.9 875.6v4.6M169.8 875.6v4.6M166.3 875.6v4.6M174.0 875.6v4.6M276.1 875.6v4.6M156.2 875.6v4.6M206.7 875.6v4.6M163.9 875.6v4.6M137.3 875.6v4.6M200.4 875.6v4.6M187.0 875.6v4.6M140.3 875.6v4.6M192.4 875.6v4.6M148.1 875.6v4.6M139.1 875.6v4.6M226.6 875.6v4.6M161.6 875.6v4.6M163.7 875.6v4.6M157.1 875.6v4.6M139.8 875.6v4.6M281.2 875.6v4.6M193.0 875.6v4.6M137.8 875.6v4.6M139.5 875.6v4.6M143.5 875.6v4.6M242.3 875.6v4.6M167.7 875.6v4.6M190.5 875.6v4.6M304.3 875.6v4.6M158.5 875.6v4.6M157.9 875.6v4.6M168.3 875.6v4.6M180.4 875.6v4.6M158.1 875.6v4.6M170.2 875.6v4.6M142.8 875.6v4.6M153.0 875.6v4.6M175.2 875.6v4.6M151.1 875.6v4.6M192.9 875.6v4.6M187.5 875.6v4.6M171.1 875.6v4.6M146.7 875.6v4.6M203.8 875.6v4.6M145.8 875.6v4.6M174.5 875.6v4.6M181.5 875.6v4.6M166.5 875.6v4.6M188.3 875.6v4.6M149.8 875.6v4.6M154.5 875.6v4.6M226.2 875.6v4.6M282.8 875.6v4.6M268.9 875.6v4.6M152.1 875.6v4.6M145.1 875.6v4.6M141.6 875.6v4.6M209.5 875.6v4.6M184.8 875.6v4.6M175.9 875.6v4.6M159.4 875.6v4.6M207.5 875.6v4.6M198.3 875.6v4.6M224.8 875.6v4.6M157.4 875.6v4.6M158.9 875.6v4.6M150.2 875.6v4.6M208.2 875.6v4.6M200.6 875.6v4.6M184.6 875.6v4.6M138.9 875.6v4.6M184.1 875.6v4.6M194.3 875.6v4.6M145.6 875.6v4.6M282.7 875.6v4.6M146.6 875.6v4.6M171.8 875.6v4.6M191.8 875.6v4.6M219.3 875.6v4.6M154.9 875.6v4.6M181.8 875.6v4.6M217.6 875.6v4.6M146.9 875.6v4.6M156.0 875.6v4.6M144.0 875.6v4.6M216.5 875.6v4.6M188.5 875.6v4.6M156.3 875.6v4.6M140.3 875.6v4.6M204.9 875.6v4.6M170.2 875.6v4.6M265.2 875.6v4.6M224.3 875.6v4.6M194.7 875.6v4.6M168.4 875.6v4.6M207.4 875.6v4.6M153.9 875.6v4.6M198.1 875.6v4.6M145.9 875.6v4.6M181.2 875.6v4.6M168.0 875.6v4.6M153.2 875.6v4.6M198.1 875.6v4.6M200.5 875.6v4.6M146.4 875.6v4.6M212.6 875.6v4.6M164.2 875.6v4.6M167.1 875.6v4.6M183.3 875.6v4.6" stroke="#111" stroke-opacity="0.06" stroke-width="0.6" fill="none"/>
<rect x="105.20" y="760.60" width="214.80" height="119.60" fill="none" stroke="#1a1a1a" stroke-width="1.25"/>
<path d="M113.16 880.20V888.80M144.98 880.20V888.80M176.80 880.20V888.80M208.62 880.20V888.80M240.44 880.20V888.80M272.27 880.20V888.80M304.09 880.20V888.80M105.20 875.77H96.70M105.20 858.05H96.70M105.20 840.33H96.70M105.20 822.61H96.70M105.20 804.90H96.70M105.20 787.18H96.70M105.20 769.46H96.70" stroke="#1a1a1a" stroke-width="1.25" fill="none"/>
<text x="113.16" y="910.00" font-size="13.5" text-anchor="middle">0</text>
<text x="144.98" y="910.00" font-size="13.5" text-anchor="middle">2</text>
<text x="176.80" y="910.00" font-size="13.5" text-anchor="middle">4</text>
<text x="208.62" y="910.00" font-size="13.5" text-anchor="middle">6</text>
<text x="240.44" y="910.00" font-size="13.5" text-anchor="middle">8</text>
<text x="272.27" y="910.00" font-size="13.5" text-anchor="middle">10</text>
<text x="304.09" y="910.00" font-size="13.5" text-anchor="middle">12</text>
<text x="88.90" y="880.62" font-size="13.5" text-anchor="end">0</text>
<text x="88.90" y="862.90" font-size="13.5" text-anchor="end">20</text>
<text x="88.90" y="845.18" font-size="13.5" text-anchor="end">40</text>
<text x="88.90" y="827.46" font-size="13.5" text-anchor="end">60</text>
<text x="88.90" y="809.75" font-size="13.5" text-anchor="end">80</text>
<text x="88.90" y="792.03" font-size="13.5" text-anchor="end">100</text>
<text x="88.90" y="774.31" font-size="13.5" text-anchor="end">120</text>
<text transform="translate(16.50 856.70) rotate(-90)" font-size="20.75">Low</text>
<text transform="translate(16.20 808.70) rotate(-90)" font-size="20.0">Φ</text>
<text transform="translate(20.10 792.90) rotate(-90)" font-size="14.0">0</text>
<path d="M34.0 844.10V857.70" stroke="#111" stroke-width="1.3"/>
<text transform="translate(49.80 857.00) rotate(-90)" font-size="13.5">v</text>
<text transform="translate(42.80 850.50) rotate(-90)" font-size="9.5">2</text>
<text transform="translate(49.80 841.00) rotate(-90)" font-size="13.5">(km</text>
<text transform="translate(42.80 817.10) rotate(-90)" font-size="9.5">2</text>
<text transform="translate(49.80 807.90) rotate(-90)" font-size="13.5">s</text>
<text transform="translate(42.80 801.40) rotate(-90)" font-size="9.5">−2</text>
<text transform="translate(49.80 789.40) rotate(-90)" font-size="13.5">)</text>
<clipPath id="clip41"><rect x="393.90" y="760.60" width="214.60" height="119.60"/></clipPath>
<path d="M401.85 880.20V760.60M433.64 880.20V760.60M465.43 880.20V760.60M497.23 880.20V760.60M529.02 880.20V760.60M560.81 880.20V760.60M592.60 880.20V760.60" stroke="#c4c4c4" stroke-width="1.0" stroke-dasharray="1.3 3.87" stroke-dashoffset="1.2" fill="none"/>
<path d="M393.90 875.77H608.50M393.90 858.05H608.50M393.90 840.33H608.50M393.90 822.61H608.50M393.90 804.90H608.50M393.90 787.18H608.50M393.90 769.46H608.50" stroke="#c4c4c4" stroke-width="1.0" stroke-dasharray="1.3 3.87" stroke-dashoffset="0.8" fill="none"/>
<g clip-path="url(#clip41)">
<linearGradient id="gf4" gradientUnits="userSpaceOnUse" x1="472" y1="0" x2="492" y2="0"><stop offset="0" stop-color="#3b3b3b"/><stop offset="1" stop-color="#3b3b3b" stop-opacity="0"/></linearGradient>
<path d="M412.7 750.0L412.8 750.8L412.8 751.6L412.9 752.4L412.9 753.2L413.0 754.0L413.0 754.7L413.1 755.5L413.2 756.3L413.2 757.1L413.3 757.9L413.4 758.7L413.4 759.5L413.5 760.3L413.6 761.1L413.7 761.9L413.8 762.7L413.8 763.5L413.9 764.2L414.0 765.0L414.1 765.8L414.2 766.6L414.3 767.4L414.4 768.2L414.5 769.0L414.6 769.8L414.7 770.6L414.8 771.4L414.9 772.2L415.0 772.9L415.1 773.7L415.2 774.5L415.3 775.3L415.5 776.1L415.6 776.9L415.7 777.7L415.8 778.5L416.0 779.3L416.1 780.1L416.3 780.9L416.4 781.6L416.5 782.4L416.7 783.2L416.8 784.0L417.0 784.8L417.1 785.6L417.3 786.4L417.5 787.2L417.6 788.0L417.8 788.8L418.0 789.6L418.2 790.4L418.3 791.1L418.5 791.9L418.7 792.7L418.9 793.5L419.1 794.3L419.3 795.1L419.5 795.9L419.7 796.7L419.9 797.5L420.1 798.3L420.3 799.1L420.5 799.8L420.7 800.6L421.0 801.4L421.2 802.2L421.4 803.0L421.7 803.8L421.9 804.6L422.1 805.4L422.4 806.2L422.6 807.0L422.9 807.8L423.2 808.5L423.4 809.3L423.7 810.1L424.0 810.9L424.2 811.7L424.5 812.5L424.8 813.3L425.1 814.1L425.4 814.9L425.7 815.7L426.0 816.5L426.3 817.3L426.6 818.0L426.9 818.8L427.2 819.6L427.6 820.4L427.9 821.2L428.2 822.0L428.6 822.8L428.9 823.6L429.2 824.4L429.6 825.2L430.0 826.0L430.3 826.7L430.7 827.5L431.1 828.3L431.4 829.1L431.8 829.9L432.2 830.7L432.6 831.5L433.0 832.3L433.4 833.1L433.8 833.9L434.2 834.7L434.6 835.4L435.0 836.2L435.5 837.0L435.9 837.8L436.3 838.6L436.8 839.4L437.2 840.2L437.7 841.0L438.2 841.8L438.7 842.6L439.1 843.4L439.6 844.2L440.1 844.9L440.7 845.7L441.2 846.5L441.7 847.3L442.3 848.1L442.8 848.9L443.4 849.7L443.9 850.5L444.5 851.3L445.1 852.1L445.7 852.9L446.3 853.6L447.0 854.4L447.6 855.2L448.3 856.0L448.9 856.8L449.6 857.6L450.3 858.4L451.0 859.2L451.7 860.0L452.5 860.8L453.2 861.6L454.0 862.3L454.8 863.1L455.6 863.9L456.4 864.7L457.2 865.5L458.1 866.3L458.9 867.1L459.7 867.9L460.5 868.7L461.3 869.5L462.0 870.3L462.8 871.1L463.4 871.8L464.1 872.6L464.7 873.4L465.2 874.2L465.7 875.0L466.1 875.8L488.7 875.8L486.9 875.0L485.1 874.2L483.4 873.4L481.8 872.6L480.3 871.8L478.8 871.1L477.4 870.3L476.0 869.5L474.7 868.7L473.4 867.9L472.1 867.1L470.9 866.3L469.7 865.5L468.5 864.7L467.4 863.9L466.3 863.1L465.2 862.3L464.1 861.6L463.1 860.8L462.1 860.0L461.1 859.2L460.1 858.4L459.2 857.6L458.3 856.8L457.4 856.0L456.5 855.2L455.6 854.4L454.8 853.6L454.0 852.9L453.2 852.1L452.5 851.3L451.7 850.5L451.0 849.7L450.3 848.9L449.6 848.1L448.9 847.3L448.3 846.5L447.6 845.7L447.0 844.9L446.4 844.2L445.8 843.4L445.2 842.6L444.7 841.8L444.1 841.0L443.6 840.2L443.1 839.4L442.5 838.6L442.0 837.8L441.5 837.0L441.1 836.2L440.6 835.4L440.1 834.7L439.7 833.9L439.2 833.1L438.8 832.3L438.4 831.5L437.9 830.7L437.5 829.9L437.1 829.1L436.7 828.3L436.3 827.5L435.9 826.7L435.5 826.0L435.1 825.2L434.7 824.4L434.4 823.6L434.0 822.8L433.6 822.0L433.3 821.2L432.9 820.4L432.5 819.6L432.2 818.8L431.8 818.0L431.5 817.3L431.2 816.5L430.8 815.7L430.5 814.9L430.2 814.1L429.9 813.3L429.6 812.5L429.3 811.7L429.0 810.9L428.7 810.1L428.4 809.3L428.1 808.5L427.8 807.8L427.5 807.0L427.2 806.2L427.0 805.4L426.7 804.6L426.4 803.8L426.2 803.0L425.9 802.2L425.7 801.4L425.4 800.6L425.2 799.8L425.0 799.1L424.7 798.3L424.5 797.5L424.3 796.7L424.1 795.9L423.8 795.1L423.6 794.3L423.4 793.5L423.2 792.7L423.0 791.9L422.8 791.1L422.6 790.4L422.4 789.6L422.3 788.8L422.1 788.0L421.9 787.2L421.7 786.4L421.6 785.6L421.4 784.8L421.2 784.0L421.1 783.2L420.9 782.4L420.8 781.6L420.7 780.9L420.5 780.1L420.4 779.3L420.2 778.5L420.1 777.7L420.0 776.9L419.9 776.1L419.8 775.3L419.6 774.5L419.5 773.7L419.4 772.9L419.3 772.2L419.2 771.4L419.1 770.6L419.0 769.8L418.9 769.0L418.9 768.2L418.8 767.4L418.7 766.6L418.6 765.8L418.6 765.0L418.5 764.2L418.4 763.5L418.4 762.7L418.3 761.9L418.3 761.1L418.2 760.3L418.2 759.5L418.1 758.7L418.1 757.9L418.0 757.1L418.0 756.3L418.0 755.5L417.9 754.7L417.9 754.0L417.9 753.2L417.9 752.4L417.9 751.6L417.9 750.8L417.8 750.0Z" fill="none" stroke="url(#gf4)" stroke-opacity="0.22" stroke-width="2.2" stroke-linejoin="round"/>
<path d="M412.7 750.0L412.8 750.8L412.8 751.6L412.9 752.4L412.9 753.2L413.0 754.0L413.0 754.7L413.1 755.5L413.2 756.3L413.2 757.1L413.3 757.9L413.4 758.7L413.4 759.5L413.5 760.3L413.6 761.1L413.7 761.9L413.8 762.7L413.8 763.5L413.9 764.2L414.0 765.0L414.1 765.8L414.2 766.6L414.3 767.4L414.4 768.2L414.5 769.0L414.6 769.8L414.7 770.6L414.8 771.4L414.9 772.2L415.0 772.9L415.1 773.7L415.2 774.5L415.3 775.3L415.5 776.1L415.6 776.9L415.7 777.7L415.8 778.5L416.0 779.3L416.1 780.1L416.3 780.9L416.4 781.6L416.5 782.4L416.7 783.2L416.8 784.0L417.0 784.8L417.1 785.6L417.3 786.4L417.5 787.2L417.6 788.0L417.8 788.8L418.0 789.6L418.2 790.4L418.3 791.1L418.5 791.9L418.7 792.7L418.9 793.5L419.1 794.3L419.3 795.1L419.5 795.9L419.7 796.7L419.9 797.5L420.1 798.3L420.3 799.1L420.5 799.8L420.7 800.6L421.0 801.4L421.2 802.2L421.4 803.0L421.7 803.8L421.9 804.6L422.1 805.4L422.4 806.2L422.6 807.0L422.9 807.8L423.2 808.5L423.4 809.3L423.7 810.1L424.0 810.9L424.2 811.7L424.5 812.5L424.8 813.3L425.1 814.1L425.4 814.9L425.7 815.7L426.0 816.5L426.3 817.3L426.6 818.0L426.9 818.8L427.2 819.6L427.6 820.4L427.9 821.2L428.2 822.0L428.6 822.8L428.9 823.6L429.2 824.4L429.6 825.2L430.0 826.0L430.3 826.7L430.7 827.5L431.1 828.3L431.4 829.1L431.8 829.9L432.2 830.7L432.6 831.5L433.0 832.3L433.4 833.1L433.8 833.9L434.2 834.7L434.6 835.4L435.0 836.2L435.5 837.0L435.9 837.8L436.3 838.6L436.8 839.4L437.2 840.2L437.7 841.0L438.2 841.8L438.7 842.6L439.1 843.4L439.6 844.2L440.1 844.9L440.7 845.7L441.2 846.5L441.7 847.3L442.3 848.1L442.8 848.9L443.4 849.7L443.9 850.5L444.5 851.3L445.1 852.1L445.7 852.9L446.3 853.6L447.0 854.4L447.6 855.2L448.3 856.0L448.9 856.8L449.6 857.6L450.3 858.4L451.0 859.2L451.7 860.0L452.5 860.8L453.2 861.6L454.0 862.3L454.8 863.1L455.6 863.9L456.4 864.7L457.2 865.5L458.1 866.3L458.9 867.1L459.7 867.9L460.5 868.7L461.3 869.5L462.0 870.3L462.8 871.1L463.4 871.8L464.1 872.6L464.7 873.4L465.2 874.2L465.7 875.0L466.1 875.8L488.7 875.8L486.9 875.0L485.1 874.2L483.4 873.4L481.8 872.6L480.3 871.8L478.8 871.1L477.4 870.3L476.0 869.5L474.7 868.7L473.4 867.9L472.1 867.1L470.9 866.3L469.7 865.5L468.5 864.7L467.4 863.9L466.3 863.1L465.2 862.3L464.1 861.6L463.1 860.8L462.1 860.0L461.1 859.2L460.1 858.4L459.2 857.6L458.3 856.8L457.4 856.0L456.5 855.2L455.6 854.4L454.8 853.6L454.0 852.9L453.2 852.1L452.5 851.3L451.7 850.5L451.0 849.7L450.3 848.9L449.6 848.1L448.9 847.3L448.3 846.5L447.6 845.7L447.0 844.9L446.4 844.2L445.8 843.4L445.2 842.6L444.7 841.8L444.1 841.0L443.6 840.2L443.1 839.4L442.5 838.6L442.0 837.8L441.5 837.0L441.1 836.2L440.6 835.4L440.1 834.7L439.7 833.9L439.2 833.1L438.8 832.3L438.4 831.5L437.9 830.7L437.5 829.9L437.1 829.1L436.7 828.3L436.3 827.5L435.9 826.7L435.5 826.0L435.1 825.2L434.7 824.4L434.4 823.6L434.0 822.8L433.6 822.0L433.3 821.2L432.9 820.4L432.5 819.6L432.2 818.8L431.8 818.0L431.5 817.3L431.2 816.5L430.8 815.7L430.5 814.9L430.2 814.1L429.9 813.3L429.6 812.5L429.3 811.7L429.0 810.9L428.7 810.1L428.4 809.3L428.1 808.5L427.8 807.8L427.5 807.0L427.2 806.2L427.0 805.4L426.7 804.6L426.4 803.8L426.2 803.0L425.9 802.2L425.7 801.4L425.4 800.6L425.2 799.8L425.0 799.1L424.7 798.3L424.5 797.5L424.3 796.7L424.1 795.9L423.8 795.1L423.6 794.3L423.4 793.5L423.2 792.7L423.0 791.9L422.8 791.1L422.6 790.4L422.4 789.6L422.3 788.8L422.1 788.0L421.9 787.2L421.7 786.4L421.6 785.6L421.4 784.8L421.2 784.0L421.1 783.2L420.9 782.4L420.8 781.6L420.7 780.9L420.5 780.1L420.4 779.3L420.2 778.5L420.1 777.7L420.0 776.9L419.9 776.1L419.8 775.3L419.6 774.5L419.5 773.7L419.4 772.9L419.3 772.2L419.2 771.4L419.1 770.6L419.0 769.8L418.9 769.0L418.9 768.2L418.8 767.4L418.7 766.6L418.6 765.8L418.6 765.0L418.5 764.2L418.4 763.5L418.4 762.7L418.3 761.9L418.3 761.1L418.2 760.3L418.2 759.5L418.1 758.7L418.1 757.9L418.0 757.1L418.0 756.3L418.0 755.5L417.9 754.7L417.9 754.0L417.9 753.2L417.9 752.4L417.9 751.6L417.9 750.8L417.8 750.0Z" fill="url(#gf4)" stroke="url(#gf4)" stroke-width="0.4" stroke-linejoin="round"/>
<path d="M401.8 788.7L402.1 788.7L402.4 788.7L402.6 788.7L402.9 788.7L403.1 788.7L403.4 788.7L403.7 788.8L403.9 788.8L404.2 788.8L404.4 788.8L404.7 788.8L404.9 788.8L405.2 788.8L405.5 788.8L405.7 788.8L406.0 788.8L406.2 788.8L406.5 788.9L406.7 788.9L407.0 788.9L407.3 788.9L407.5 788.9L407.8 789.0L408.0 789.0L408.3 789.0L408.5 789.1L408.8 789.1L409.1 789.1L409.3 789.2L409.6 789.2L409.8 789.3L410.1 789.3L410.3 789.3L410.6 789.4L410.9 789.4L411.1 789.5L411.4 789.6L411.6 789.6L411.9 789.7L412.2 789.7L412.4 789.8L412.7 789.9L412.9 790.0L413.2 790.0L413.4 790.1L413.7 790.2L414.0 790.3L414.2 790.4L414.5 790.4L414.7 790.5L415.0 790.6L415.2 790.7L415.5 790.8L415.8 790.9L416.0 791.0L416.3 791.1L416.5 791.3L416.8 791.4L417.0 791.5L417.3 791.6L417.6 791.7L417.8 791.9L418.1 792.0L418.3 792.1L418.6 792.2L418.8 792.4L419.1 792.5L419.4 792.7L419.6 792.8L419.9 793.0L420.1 793.1L420.4 793.3L420.7 793.4L420.9 793.6L421.2 793.7L421.4 793.9L421.7 794.1L421.9 794.2L422.2 794.4L422.5 794.6L422.7 794.8L423.0 794.9L423.2 795.1L423.5 795.3L423.7 795.5L424.0 795.7L424.3 795.9L424.5 796.1L424.8 796.3L425.0 796.5L425.3 796.7L425.5 796.9L425.8 797.1L426.1 797.3L426.3 797.5L426.6 797.7L426.8 797.9L427.1 798.1L427.3 798.3L427.6 798.6L427.9 798.8L428.1 799.0L428.4 799.2L428.6 799.5L428.9 799.7L429.2 799.9L429.4 800.1L429.7 800.4L429.9 800.6L430.2 800.8L430.4 801.1L430.7 801.3L431.0 801.6L431.2 801.8L431.5 802.0L431.7 802.3L432.0 802.5L432.2 802.8L432.5 803.0L432.8 803.3L434.2 804.7L435.7 806.1L437.2 807.6L438.6 809.1L440.1 810.6L441.6 812.0L443.1 813.5L444.5 815.0L446.0 816.4L447.5 817.9L448.9 819.3L450.4 820.7L451.9 822.0L453.4 823.4L454.8 824.7L456.3 826.0L457.8 827.2L459.2 828.5L460.7 829.7L462.2 830.8L463.7 832.0L465.1 833.1L466.6 834.2L468.1 835.3L469.6 836.3L471.0 837.3L472.5 838.3L474.0 839.3L475.4 840.2L476.9 841.1L478.4 842.0L479.9 842.9L481.3 843.7L482.8 844.5L484.3 845.3L485.7 846.1L487.2 846.9L488.7 847.6L490.2 848.3L491.6 849.0L493.1 849.7L494.6 850.4L496.0 851.0L497.5 851.7L499.0 852.3L500.5 852.9L501.9 853.5L503.4 854.1L504.9 854.7L506.3 855.2L507.8 855.8L509.3 856.3L510.8 856.8L512.2 857.3L513.7 857.8L515.2 858.3L516.6 858.8L518.1 859.2L519.6 859.7L521.1 860.1L522.5 860.6L524.0 861.0L525.5 861.4L527.0 861.8L528.4 862.2L529.9 862.6L531.4 863.0L532.8 863.4L534.3 863.8L535.8 864.1L537.3 864.5L538.7 864.8L540.2 865.2L541.7 865.5L543.1 865.9L544.6 866.2L546.1 866.5L547.6 866.8L549.0 867.1L550.5 867.4L552.0 867.7L553.4 868.0L554.9 868.3L556.4 868.6L557.9 868.9L559.3 869.2L560.8 869.4L562.3 869.7L563.7 870.0L565.2 870.2L566.7 870.5L568.2 870.7L569.6 871.0L571.1 871.2L572.6 871.4L574.0 871.7L575.5 871.9L577.0 872.1L578.5 872.3L579.9 872.6L581.4 872.8L582.9 873.0L584.4 873.2L585.8 873.4L587.3 873.6L588.8 873.8L590.2 874.0L591.7 874.2L593.2 874.4L594.7 874.6L596.1 874.8L597.6 875.0L599.1 875.2L600.5 875.3L602.0 875.5L603.5 875.7L605.0 875.8L606.4 875.8L607.9 875.8" fill="none" stroke="#cc0000" stroke-width="2.9" stroke-linecap="round" stroke-linejoin="round"/>
</g>
<path d="M425.69 880.20V760.60" stroke="#b0d0e4" stroke-width="1.4" stroke-dasharray="4.7 5.45" stroke-dashoffset="9.25" fill="none"/>
<path d="M421.0 875.6v4.6M409.3 875.6v4.6M423.8 875.6v4.6M415.2 875.6v4.6M423.0 875.6v4.6M404.7 875.6v4.6M417.2 875.6v4.6M421.5 875.6v4.6M422.9 875.6v4.6M424.9 875.6v4.6M419.6 875.6v4.6M417.2 875.6v4.6M418.6 875.6v4.6M423.4 875.6v4.6M424.1 875.6v4.6M415.4 875.6v4.6M423.3 875.6v4.6M418.8 875.6v4.6M416.3 875.6v4.6M423.5 875.6v4.6M417.0 875.6v4.6M421.3 875.6v4.6M417.1 875.6v4.6M417.3 875.6v4.6M414.9 875.6v4.6M424.4 875.6v4.6M424.0 875.6v4.6M423.5 875.6v4.6M422.7 875.6v4.6M421.4 875.6v4.6M421.2 875.6v4.6M422.4 875.6v4.6M420.0 875.6v4.6M412.9 875.6v4.6M417.5 875.6v4.6M418.2 875.6v4.6M422.2 875.6v4.6M424.4 875.6v4.6M420.3 875.6v4.6M419.4 875.6v4.6M418.8 875.6v4.6M421.7 875.6v4.6M422.9 875.6v4.6M421.1 875.6v4.6M417.2 875.6v4.6M424.3 875.6v4.6M410.3 875.6v4.6M418.1 875.6v4.6M407.7 875.6v4.6M417.2 875.6v4.6M422.1 875.6v4.6M422.5 875.6v4.6M418.1 875.6v4.6M418.3 875.6v4.6M422.0 875.6v4.6M422.9 875.6v4.6M410.0 875.6v4.6M423.1 875.6v4.6M420.4 875.6v4.6M419.9 875.6v4.6M421.1 875.6v4.6M415.3 875.6v4.6M421.5 875.6v4.6M414.2 875.6v4.6M422.9 875.6v4.6M425.4 875.6v4.6M422.3 875.6v4.6M419.2 875.6v4.6M424.1 875.6v4.6M425.0 875.6v4.6M424.1 875.6v4.6M422.3 875.6v4.6M418.5 875.6v4.6M417.8 875.6v4.6M425.4 875.6v4.6M419.0 875.6v4.6M417.3 875.6v4.6M422.9 875.6v4.6M418.0 875.6v4.6M425.2 875.6v4.6M422.0 875.6v4.6M414.7 875.6v4.6M422.9 875.6v4.6M422.1 875.6v4.6M412.1 875.6v4.6M421.4 875.6v4.6M423.7 875.6v4.6M410.8 875.6v4.6M425.6 875.6v4.6M424.6 875.6v4.6M419.5 875.6v4.6M425.6 875.6v4.6M425.2 875.6v4.6M408.6 875.6v4.6M409.2 875.6v4.6M422.1 875.6v4.6M417.0 875.6v4.6M421.2 875.6v4.6M417.0 875.6v4.6M417.8 875.6v4.6M413.8 875.6v4.6M417.2 875.6v4.6M420.1 875.6v4.6M415.7 875.6v4.6M409.7 875.6v4.6M424.4 875.6v4.6M420.7 875.6v4.6M425.4 875.6v4.6M421.3 875.6v4.6M422.7 875.6v4.6M419.4 875.6v4.6M415.1 875.6v4.6M425.5 875.6v4.6M417.0 875.6v4.6M414.8 875.6v4.6M420.4 875.6v4.6M424.2 875.6v4.6M417.8 875.6v4.6M417.9 875.6v4.6M412.5 875.6v4.6M425.6 875.6v4.6M425.5 875.6v4.6M423.1 875.6v4.6M421.5 875.6v4.6M414.2 875.6v4.6M424.6 875.6v4.6M421.3 875.6v4.6M422.4 875.6v4.6M417.3 875.6v4.6M415.2 875.6v4.6M418.5 875.6v4.6M414.8 875.6v4.6M422.2 875.6v4.6M420.1 875.6v4.6M414.6 875.6v4.6M423.5 875.6v4.6M424.4 875.6v4.6M422.7 875.6v4.6M418.6 875.6v4.6M424.4 875.6v4.6M424.3 875.6v4.6M415.9 875.6v4.6M423.2 875.6v4.6M415.4 875.6v4.6M419.9 875.6v4.6M424.3 875.6v4.6M424.9 875.6v4.6M421.0 875.6v4.6M414.6 875.6v4.6M420.6 875.6v4.6M413.8 875.6v4.6M425.0 875.6v4.6M424.0 875.6v4.6M425.5 875.6v4.6M419.5 875.6v4.6M421.6 875.6v4.6M410.9 875.6v4.6M403.8 875.6v4.6M413.1 875.6v4.6M412.7 875.6v4.6M422.8 875.6v4.6M420.4 875.6v4.6M421.2 875.6v4.6M417.4 875.6v4.6M406.2 875.6v4.6M419.1 875.6v4.6M415.5 875.6v4.6M414.0 875.6v4.6M423.7 875.6v4.6M418.7 875.6v4.6M423.5 875.6v4.6M411.4 875.6v4.6M421.7 875.6v4.6M420.2 875.6v4.6M420.2 875.6v4.6M416.2 875.6v4.6M421.8 875.6v4.6M425.0 875.6v4.6M424.0 875.6v4.6M420.7 875.6v4.6M420.9 875.6v4.6M424.7 875.6v4.6M424.5 875.6v4.6M413.8 875.6v4.6M415.2 875.6v4.6M423.1 875.6v4.6M425.0 875.6v4.6M422.0 875.6v4.6M416.5 875.6v4.6M419.9 875.6v4.6M424.9 875.6v4.6M421.5 875.6v4.6M419.6 875.6v4.6M415.7 875.6v4.6M416.8 875.6v4.6M424.6 875.6v4.6M424.4 875.6v4.6M421.1 875.6v4.6M418.4 875.6v4.6M418.7 875.6v4.6M423.8 875.6v4.6M408.8 875.6v4.6M418.7 875.6v4.6M413.9 875.6v4.6M417.3 875.6v4.6M416.9 875.6v4.6M419.3 875.6v4.6M421.2 875.6v4.6M411.1 875.6v4.6M424.2 875.6v4.6M425.0 875.6v4.6M421.0 875.6v4.6M414.3 875.6v4.6M416.8 875.6v4.6M416.5 875.6v4.6M416.5 875.6v4.6M425.1 875.6v4.6M425.1 875.6v4.6M425.2 875.6v4.6M418.6 875.6v4.6M424.0 875.6v4.6M414.5 875.6v4.6M420.9 875.6v4.6M414.0 875.6v4.6M421.2 875.6v4.6M424.6 875.6v4.6M414.5 875.6v4.6M422.4 875.6v4.6M422.8 875.6v4.6M418.9 875.6v4.6M422.3 875.6v4.6M418.0 875.6v4.6M424.7 875.6v4.6M425.7 875.6v4.6M420.4 875.6v4.6M421.9 875.6v4.6M420.1 875.6v4.6M419.2 875.6v4.6M421.3 875.6v4.6M409.7 875.6v4.6M418.9 875.6v4.6M422.2 875.6v4.6M417.0 875.6v4.6M419.2 875.6v4.6M422.4 875.6v4.6M415.8 875.6v4.6M425.2 875.6v4.6M408.2 875.6v4.6M420.0 875.6v4.6M421.3 875.6v4.6M425.7 875.6v4.6M416.9 875.6v4.6M422.4 875.6v4.6M419.4 875.6v4.6M417.6 875.6v4.6M421.8 875.6v4.6M425.5 875.6v4.6M423.1 875.6v4.6M423.6 875.6v4.6M415.2 875.6v4.6M425.1 875.6v4.6M424.8 875.6v4.6M425.1 875.6v4.6M420.1 875.6v4.6M423.8 875.6v4.6M424.6 875.6v4.6M425.2 875.6v4.6M412.7 875.6v4.6M424.2 875.6v4.6M424.1 875.6v4.6M423.2 875.6v4.6M418.2 875.6v4.6M416.9 875.6v4.6M410.5 875.6v4.6M424.2 875.6v4.6M418.6 875.6v4.6M418.5 875.6v4.6M416.0 875.6v4.6M409.2 875.6v4.6M418.7 875.6v4.6M422.2 875.6v4.6M423.8 875.6v4.6M425.5 875.6v4.6M424.6 875.6v4.6M421.7 875.6v4.6M416.8 875.6v4.6M419.0 875.6v4.6M409.8 875.6v4.6M414.7 875.6v4.6M425.3 875.6v4.6M419.2 875.6v4.6M415.5 875.6v4.6M425.2 875.6v4.6M425.4 875.6v4.6M419.3 875.6v4.6M421.5 875.6v4.6M422.6 875.6v4.6M424.1 875.6v4.6M422.1 875.6v4.6M413.2 875.6v4.6" stroke="#111" stroke-opacity="0.13" stroke-width="0.6" fill="none"/>
<rect x="393.90" y="760.60" width="214.60" height="119.60" fill="none" stroke="#1a1a1a" stroke-width="1.25"/>
<path d="M401.85 880.20V888.80M433.64 880.20V888.80M465.43 880.20V888.80M497.23 880.20V888.80M529.02 880.20V888.80M560.81 880.20V888.80M592.60 880.20V888.80M393.90 875.77H385.40M393.90 858.05H385.40M393.90 840.33H385.40M393.90 822.61H385.40M393.90 804.90H385.40M393.90 787.18H385.40M393.90 769.46H385.40" stroke="#1a1a1a" stroke-width="1.25" fill="none"/>
<text x="401.85" y="910.00" font-size="13.5" text-anchor="middle">0</text>
<text x="433.64" y="910.00" font-size="13.5" text-anchor="middle">2</text>
<text x="465.43" y="910.00" font-size="13.5" text-anchor="middle">4</text>
<text x="497.23" y="910.00" font-size="13.5" text-anchor="middle">6</text>
<text x="529.02" y="910.00" font-size="13.5" text-anchor="middle">8</text>
<text x="560.81" y="910.00" font-size="13.5" text-anchor="middle">10</text>
<text x="592.60" y="910.00" font-size="13.5" text-anchor="middle">12</text>
<text x="377.60" y="880.62" font-size="13.5" text-anchor="end">0</text>
<text x="377.60" y="862.90" font-size="13.5" text-anchor="end">20</text>
<text x="377.60" y="845.18" font-size="13.5" text-anchor="end">40</text>
<text x="377.60" y="827.46" font-size="13.5" text-anchor="end">60</text>
<text x="377.60" y="809.75" font-size="13.5" text-anchor="end">80</text>
<text x="377.60" y="792.03" font-size="13.5" text-anchor="end">100</text>
<text x="377.60" y="774.31" font-size="13.5" text-anchor="end">120</text>
<text x="212.6" y="941.8" font-size="15" text-anchor="middle">r (pc)</text>
<text x="501.2" y="941.8" font-size="15" text-anchor="middle">r (pc)</text>
<rect x="491.3" y="35.5" width="117.20" height="48.50" fill="#fff" stroke="#1a1a1a" stroke-width="1.25"/>
<path d="M500.4 47.6H518.9" stroke="#000" stroke-width="2.5" stroke-linecap="round"/>
<path d="M500.4 60.1H518.9" stroke="#cc0000" stroke-width="2.5" stroke-linecap="round"/>
<path d="M500.4 72.2H508.2" stroke="#a6cbe0" stroke-width="2.5" stroke-linecap="round"/>
<text x="527.8" y="51.2" font-size="10.3" style="stroke-width:0.15px">posterior profiles</text>
<text x="527.8" y="63.8" font-size="10.3" style="stroke-width:0.15px">true profile</text>
<text x="527.8" y="75.6" font-size="10.3" style="stroke-width:0.15px">r<tspan font-size="7.3" dy="1.3">cut</tspan></text>
</svg></body></html>
